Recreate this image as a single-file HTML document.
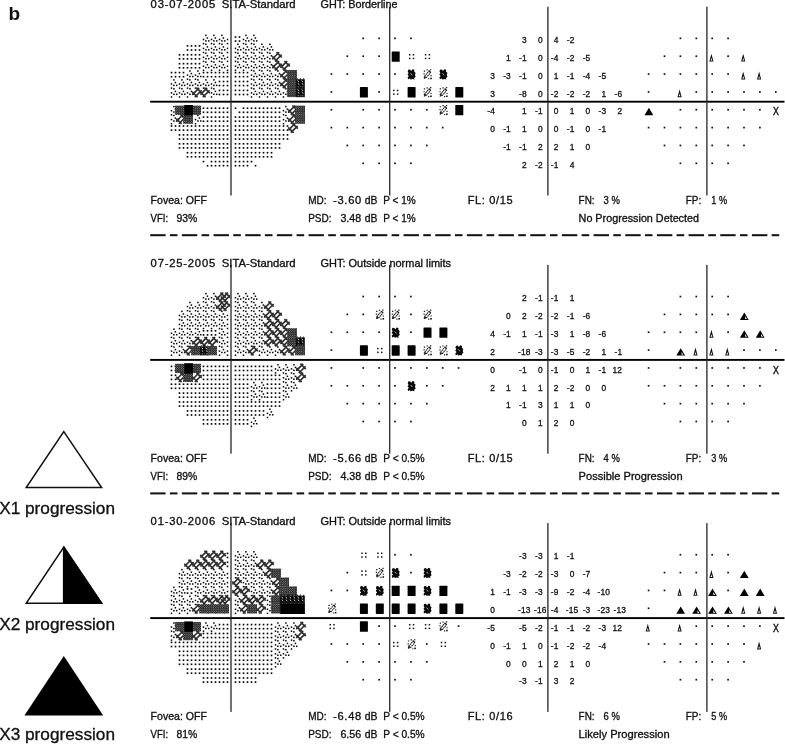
<!DOCTYPE html>
<html lang="en"><head><meta charset="utf-8"><title>Visual field progression analysis</title>
<style>html,body{margin:0;padding:0;background:#fff}body{width:785px;height:745px;overflow:hidden}svg{display:block}text{font-family:"Liberation Sans", Arial, Helvetica, sans-serif}</style>
</head><body>
<svg width="785" height="745" viewBox="0 0 785 745">
<defs>
<pattern id="pX" width="2.3" height="2.3" patternUnits="userSpaceOnUse"><rect width="2.3" height="2.3" fill="#141414"/><rect x="1.4" y="0.25" width="0.72" height="0.72" fill="#fff"/><rect x="0.25" y="1.4" width="0.72" height="0.72" fill="#fff"/></pattern>
<g id="gH"><path d="M-2.16,4.63 L4.63,-2.16 M-4.63,2.16 L2.16,-4.63 M-0.60,-4.77 L4.77,0.60 M-4.77,-0.60 L0.60,4.77" stroke="#2e2e2e" stroke-width="1.65" fill="none"/></g>
<g id="gS"><rect x="-4.6" y="-4.3" width="8.6" height="9.0" fill="#080808"/><path d="M-4.4,-4.3l0.9,-1.3l0.9,1.3zM-1.3,-4.3l0.9,-1.5l0.9,1.5zM1.9,-4.3l0.9,-1.2l0.9,1.2z" fill="#080808"/><path d="M-3.2,-2.9l1.5,1.3M0.8,-2.9l1.5,1.3M-3.0,-0.2l1.5,1.2M1.0,-0.2l1.5,1.2" stroke="#e6e6e6" stroke-width="0.95" fill="none"/><path d="M-3.2,3.3h1.5M-0.9,3.3h0.9M1.0,3.3h1.5" stroke="#bbb" stroke-width="0.7" fill="none"/></g>
<g id="sh"><polygon points="-2.9,1.8 1.4,-3.3 3.0,-1.7 -1.3,3.4" fill="#fff" stroke="#1a1a1a" stroke-width="1.05" stroke-dasharray="1.5 0.5"/><path d="M-3.7,-3.4h1.3M-1.0,-4.5h1.3M2.5,-4.7h1.3M-4.0,-0.6h1.2M-3.7,3.7h1.3M0.6,4.3h1.2M3,1.2h1.2M-3.5,1.9l1.6,1.8M1.6,-3.7l1.7,1.8" stroke="#1a1a1a" stroke-width="1.15" fill="none"/><rect x="2.7" y="3.2" width="1.6" height="1.6" fill="#111"/></g>
<g id="sx"><path d="M-3.4,-4.6L-1.6,-4.9L-0.4,-3.4L0.9,-5.2L2.8,-4.6L2.6,-2.8L4.0,-1.6L3.4,0.6L4.1,2.2L2.6,3.6L2.9,5.0L0.6,4.6L-0.8,5.2L-1.6,4.0L-3.6,4.9L-3.9,2.8L-2.7,1.6L-4.1,0.2L-3.0,-1.4L-3.9,-2.8Z" fill="#0a0a0a"/><path d="M-0.9,-1.2l1.6,2" stroke="#bbb" stroke-width="0.9"/></g>
<g id="tF"><polygon points="0,-2.3 4.4,5.1 -4.4,5.1" fill="#000"/></g>
<g id="tA"><polygon points="0,-2.3 4.4,5.1 -4.4,5.1" fill="#000"/><polygon points="0.9,1.2 2.6,4.2 0.9,4.2" fill="#fff"/></g>
<g id="tt"><polygon points="0,-2.9 2.1,5.0 -2.1,5.0" fill="#111"/><polygon points="0,1.5 0.85,4.0 -0.85,4.0" fill="#fff"/></g>
<clipPath id="clipL"><rect x="0" y="0" width="230.2" height="745"/></clipPath>
</defs>
<rect width="785" height="745" fill="#fff"/>
<text x="8.6" y="19.8" font-size="19" font-weight="bold" fill="#111">b</text>
<g id="panel1">
<g fill="#000"><rect x="205.15" y="34.65" width="1.50" height="1.50"/><rect x="206.65" y="37.25" width="1.50" height="1.50"/><rect x="202.75" y="38.75" width="1.50" height="1.50"/><rect x="205.15" y="40.15" width="1.50" height="1.50"/><rect x="207.95" y="40.15" width="1.50" height="1.50"/><rect x="202.75" y="42.85" width="1.50" height="1.50"/><rect x="213.15" y="34.65" width="1.50" height="1.50"/><rect x="214.65" y="37.25" width="1.50" height="1.50"/><rect x="210.75" y="38.75" width="1.50" height="1.50"/><rect x="213.15" y="40.15" width="1.50" height="1.50"/><rect x="215.95" y="40.15" width="1.50" height="1.50"/><rect x="210.75" y="42.85" width="1.50" height="1.50"/><rect x="221.15" y="34.65" width="1.50" height="1.50"/><rect x="222.65" y="37.25" width="1.50" height="1.50"/><rect x="218.75" y="38.75" width="1.50" height="1.50"/><rect x="221.15" y="40.15" width="1.50" height="1.50"/><rect x="223.95" y="40.15" width="1.50" height="1.50"/><rect x="218.75" y="42.85" width="1.50" height="1.50"/><rect x="226.75" y="38.75" width="1.50" height="1.50"/><rect x="226.75" y="42.85" width="1.50" height="1.50"/><rect x="234.68" y="36.17" width="1.65" height="1.65"/><rect x="234.68" y="40.27" width="1.65" height="1.65"/><rect x="238.68" y="36.17" width="1.65" height="1.65"/><rect x="238.68" y="40.27" width="1.65" height="1.65"/><rect x="245.15" y="34.65" width="1.50" height="1.50"/><rect x="246.65" y="37.25" width="1.50" height="1.50"/><rect x="242.75" y="38.75" width="1.50" height="1.50"/><rect x="245.15" y="40.15" width="1.50" height="1.50"/><rect x="247.95" y="40.15" width="1.50" height="1.50"/><rect x="242.75" y="42.85" width="1.50" height="1.50"/><rect x="253.15" y="34.65" width="1.50" height="1.50"/><rect x="254.65" y="37.25" width="1.50" height="1.50"/><rect x="250.75" y="38.75" width="1.50" height="1.50"/><rect x="253.15" y="40.15" width="1.50" height="1.50"/><rect x="255.95" y="40.15" width="1.50" height="1.50"/><rect x="250.75" y="42.85" width="1.50" height="1.50"/><rect x="186.68" y="45.07" width="1.65" height="1.65"/><rect x="186.68" y="49.17" width="1.65" height="1.65"/><rect x="190.68" y="45.07" width="1.65" height="1.65"/><rect x="190.68" y="49.17" width="1.65" height="1.65"/><rect x="194.68" y="45.07" width="1.65" height="1.65"/><rect x="194.68" y="49.17" width="1.65" height="1.65"/><rect x="198.68" y="45.07" width="1.65" height="1.65"/><rect x="198.68" y="49.17" width="1.65" height="1.65"/><rect x="205.15" y="43.55" width="1.50" height="1.50"/><rect x="206.65" y="46.15" width="1.50" height="1.50"/><rect x="202.75" y="47.65" width="1.50" height="1.50"/><rect x="205.15" y="49.05" width="1.50" height="1.50"/><rect x="207.95" y="49.05" width="1.50" height="1.50"/><rect x="202.75" y="51.75" width="1.50" height="1.50"/><rect x="213.15" y="43.55" width="1.50" height="1.50"/><rect x="214.65" y="46.15" width="1.50" height="1.50"/><rect x="210.75" y="47.65" width="1.50" height="1.50"/><rect x="213.15" y="49.05" width="1.50" height="1.50"/><rect x="215.95" y="49.05" width="1.50" height="1.50"/><rect x="210.75" y="51.75" width="1.50" height="1.50"/><rect x="221.15" y="43.55" width="1.50" height="1.50"/><rect x="222.65" y="46.15" width="1.50" height="1.50"/><rect x="218.75" y="47.65" width="1.50" height="1.50"/><rect x="221.15" y="49.05" width="1.50" height="1.50"/><rect x="223.95" y="49.05" width="1.50" height="1.50"/><rect x="218.75" y="51.75" width="1.50" height="1.50"/><rect x="226.75" y="47.65" width="1.50" height="1.50"/><rect x="226.75" y="51.75" width="1.50" height="1.50"/><rect x="237.15" y="43.55" width="1.50" height="1.50"/><rect x="238.65" y="46.15" width="1.50" height="1.50"/><rect x="234.75" y="47.65" width="1.50" height="1.50"/><rect x="237.15" y="49.05" width="1.50" height="1.50"/><rect x="239.95" y="49.05" width="1.50" height="1.50"/><rect x="234.75" y="51.75" width="1.50" height="1.50"/><rect x="245.15" y="43.55" width="1.50" height="1.50"/><rect x="246.65" y="46.15" width="1.50" height="1.50"/><rect x="242.75" y="47.65" width="1.50" height="1.50"/><rect x="245.15" y="49.05" width="1.50" height="1.50"/><rect x="247.95" y="49.05" width="1.50" height="1.50"/><rect x="242.75" y="51.75" width="1.50" height="1.50"/><rect x="253.15" y="43.55" width="1.50" height="1.50"/><rect x="254.65" y="46.15" width="1.50" height="1.50"/><rect x="250.75" y="47.65" width="1.50" height="1.50"/><rect x="253.15" y="49.05" width="1.50" height="1.50"/><rect x="255.95" y="49.05" width="1.50" height="1.50"/><rect x="250.75" y="51.75" width="1.50" height="1.50"/><rect x="261.15" y="43.55" width="1.50" height="1.50"/><rect x="262.65" y="46.15" width="1.50" height="1.50"/><rect x="258.75" y="47.65" width="1.50" height="1.50"/><rect x="261.15" y="49.05" width="1.50" height="1.50"/><rect x="263.95" y="49.05" width="1.50" height="1.50"/><rect x="258.75" y="51.75" width="1.50" height="1.50"/><rect x="269.15" y="43.55" width="1.50" height="1.50"/><rect x="270.65" y="46.15" width="1.50" height="1.50"/><rect x="266.75" y="47.65" width="1.50" height="1.50"/><rect x="269.15" y="49.05" width="1.50" height="1.50"/><rect x="271.95" y="49.05" width="1.50" height="1.50"/><rect x="266.75" y="51.75" width="1.50" height="1.50"/><rect x="178.68" y="53.97" width="1.65" height="1.65"/><rect x="178.68" y="58.07" width="1.65" height="1.65"/><rect x="182.68" y="53.97" width="1.65" height="1.65"/><rect x="182.68" y="58.07" width="1.65" height="1.65"/><rect x="186.68" y="53.97" width="1.65" height="1.65"/><rect x="186.68" y="58.07" width="1.65" height="1.65"/><rect x="190.68" y="53.97" width="1.65" height="1.65"/><rect x="190.68" y="58.07" width="1.65" height="1.65"/><rect x="194.68" y="53.97" width="1.65" height="1.65"/><rect x="194.68" y="58.07" width="1.65" height="1.65"/><rect x="198.68" y="53.97" width="1.65" height="1.65"/><rect x="198.68" y="58.07" width="1.65" height="1.65"/><rect x="205.15" y="52.45" width="1.50" height="1.50"/><rect x="206.65" y="55.05" width="1.50" height="1.50"/><rect x="202.75" y="56.55" width="1.50" height="1.50"/><rect x="205.15" y="57.95" width="1.50" height="1.50"/><rect x="207.95" y="57.95" width="1.50" height="1.50"/><rect x="202.75" y="60.65" width="1.50" height="1.50"/><rect x="213.15" y="52.45" width="1.50" height="1.50"/><rect x="214.65" y="55.05" width="1.50" height="1.50"/><rect x="210.75" y="56.55" width="1.50" height="1.50"/><rect x="213.15" y="57.95" width="1.50" height="1.50"/><rect x="215.95" y="57.95" width="1.50" height="1.50"/><rect x="210.75" y="60.65" width="1.50" height="1.50"/><rect x="221.15" y="52.45" width="1.50" height="1.50"/><rect x="222.65" y="55.05" width="1.50" height="1.50"/><rect x="218.75" y="56.55" width="1.50" height="1.50"/><rect x="221.15" y="57.95" width="1.50" height="1.50"/><rect x="223.95" y="57.95" width="1.50" height="1.50"/><rect x="218.75" y="60.65" width="1.50" height="1.50"/><rect x="226.75" y="56.55" width="1.50" height="1.50"/><rect x="226.75" y="60.65" width="1.50" height="1.50"/><rect x="237.15" y="52.45" width="1.50" height="1.50"/><rect x="238.65" y="55.05" width="1.50" height="1.50"/><rect x="234.75" y="56.55" width="1.50" height="1.50"/><rect x="237.15" y="57.95" width="1.50" height="1.50"/><rect x="239.95" y="57.95" width="1.50" height="1.50"/><rect x="234.75" y="60.65" width="1.50" height="1.50"/><rect x="245.15" y="52.45" width="1.50" height="1.50"/><rect x="246.65" y="55.05" width="1.50" height="1.50"/><rect x="242.75" y="56.55" width="1.50" height="1.50"/><rect x="245.15" y="57.95" width="1.50" height="1.50"/><rect x="247.95" y="57.95" width="1.50" height="1.50"/><rect x="242.75" y="60.65" width="1.50" height="1.50"/><rect x="253.15" y="52.45" width="1.50" height="1.50"/><rect x="254.65" y="55.05" width="1.50" height="1.50"/><rect x="250.75" y="56.55" width="1.50" height="1.50"/><rect x="253.15" y="57.95" width="1.50" height="1.50"/><rect x="255.95" y="57.95" width="1.50" height="1.50"/><rect x="250.75" y="60.65" width="1.50" height="1.50"/><rect x="261.15" y="52.45" width="1.50" height="1.50"/><rect x="262.65" y="55.05" width="1.50" height="1.50"/><rect x="258.75" y="56.55" width="1.50" height="1.50"/><rect x="261.15" y="57.95" width="1.50" height="1.50"/><rect x="263.95" y="57.95" width="1.50" height="1.50"/><rect x="258.75" y="60.65" width="1.50" height="1.50"/><rect x="269.15" y="52.45" width="1.50" height="1.50"/><rect x="270.65" y="55.05" width="1.50" height="1.50"/><rect x="266.75" y="56.55" width="1.50" height="1.50"/><rect x="269.15" y="57.95" width="1.50" height="1.50"/><rect x="271.95" y="57.95" width="1.50" height="1.50"/><rect x="266.75" y="60.65" width="1.50" height="1.50"/><rect x="178.68" y="62.87" width="1.65" height="1.65"/><rect x="178.68" y="66.97" width="1.65" height="1.65"/><rect x="182.68" y="62.87" width="1.65" height="1.65"/><rect x="182.68" y="66.97" width="1.65" height="1.65"/><rect x="186.68" y="62.87" width="1.65" height="1.65"/><rect x="186.68" y="66.97" width="1.65" height="1.65"/><rect x="190.68" y="62.87" width="1.65" height="1.65"/><rect x="190.68" y="66.97" width="1.65" height="1.65"/><rect x="194.68" y="62.87" width="1.65" height="1.65"/><rect x="194.68" y="66.97" width="1.65" height="1.65"/><rect x="198.68" y="62.87" width="1.65" height="1.65"/><rect x="198.68" y="66.97" width="1.65" height="1.65"/><rect x="205.15" y="61.35" width="1.50" height="1.50"/><rect x="206.65" y="63.95" width="1.50" height="1.50"/><rect x="202.75" y="65.45" width="1.50" height="1.50"/><rect x="205.15" y="66.85" width="1.50" height="1.50"/><rect x="207.95" y="66.85" width="1.50" height="1.50"/><rect x="202.75" y="69.55" width="1.50" height="1.50"/><rect x="213.15" y="61.35" width="1.50" height="1.50"/><rect x="214.65" y="63.95" width="1.50" height="1.50"/><rect x="210.75" y="65.45" width="1.50" height="1.50"/><rect x="213.15" y="66.85" width="1.50" height="1.50"/><rect x="215.95" y="66.85" width="1.50" height="1.50"/><rect x="210.75" y="69.55" width="1.50" height="1.50"/><rect x="221.15" y="61.35" width="1.50" height="1.50"/><rect x="222.65" y="63.95" width="1.50" height="1.50"/><rect x="218.75" y="65.45" width="1.50" height="1.50"/><rect x="221.15" y="66.85" width="1.50" height="1.50"/><rect x="223.95" y="66.85" width="1.50" height="1.50"/><rect x="218.75" y="69.55" width="1.50" height="1.50"/><rect x="226.75" y="65.45" width="1.50" height="1.50"/><rect x="226.75" y="69.55" width="1.50" height="1.50"/><rect x="237.15" y="61.35" width="1.50" height="1.50"/><rect x="238.65" y="63.95" width="1.50" height="1.50"/><rect x="234.75" y="65.45" width="1.50" height="1.50"/><rect x="237.15" y="66.85" width="1.50" height="1.50"/><rect x="239.95" y="66.85" width="1.50" height="1.50"/><rect x="234.75" y="69.55" width="1.50" height="1.50"/><rect x="245.15" y="61.35" width="1.50" height="1.50"/><rect x="246.65" y="63.95" width="1.50" height="1.50"/><rect x="242.75" y="65.45" width="1.50" height="1.50"/><rect x="245.15" y="66.85" width="1.50" height="1.50"/><rect x="247.95" y="66.85" width="1.50" height="1.50"/><rect x="242.75" y="69.55" width="1.50" height="1.50"/><rect x="253.15" y="61.35" width="1.50" height="1.50"/><rect x="254.65" y="63.95" width="1.50" height="1.50"/><rect x="250.75" y="65.45" width="1.50" height="1.50"/><rect x="253.15" y="66.85" width="1.50" height="1.50"/><rect x="255.95" y="66.85" width="1.50" height="1.50"/><rect x="250.75" y="69.55" width="1.50" height="1.50"/><rect x="261.15" y="61.35" width="1.50" height="1.50"/><rect x="262.65" y="63.95" width="1.50" height="1.50"/><rect x="258.75" y="65.45" width="1.50" height="1.50"/><rect x="261.15" y="66.85" width="1.50" height="1.50"/><rect x="263.95" y="66.85" width="1.50" height="1.50"/><rect x="258.75" y="69.55" width="1.50" height="1.50"/><rect x="269.15" y="61.35" width="1.50" height="1.50"/><rect x="270.65" y="63.95" width="1.50" height="1.50"/><rect x="266.75" y="65.45" width="1.50" height="1.50"/><rect x="269.15" y="66.85" width="1.50" height="1.50"/><rect x="271.95" y="66.85" width="1.50" height="1.50"/><rect x="266.75" y="69.55" width="1.50" height="1.50"/><rect x="170.68" y="71.77" width="1.65" height="1.65"/><rect x="170.68" y="75.87" width="1.65" height="1.65"/><rect x="174.68" y="71.77" width="1.65" height="1.65"/><rect x="174.68" y="75.87" width="1.65" height="1.65"/><rect x="178.68" y="71.77" width="1.65" height="1.65"/><rect x="178.68" y="75.87" width="1.65" height="1.65"/><rect x="182.68" y="71.77" width="1.65" height="1.65"/><rect x="182.68" y="75.87" width="1.65" height="1.65"/><rect x="189.15" y="70.25" width="1.50" height="1.50"/><rect x="190.65" y="72.85" width="1.50" height="1.50"/><rect x="186.75" y="74.35" width="1.50" height="1.50"/><rect x="189.15" y="75.75" width="1.50" height="1.50"/><rect x="191.95" y="75.75" width="1.50" height="1.50"/><rect x="186.75" y="78.45" width="1.50" height="1.50"/><rect x="197.15" y="70.25" width="1.50" height="1.50"/><rect x="198.65" y="72.85" width="1.50" height="1.50"/><rect x="194.75" y="74.35" width="1.50" height="1.50"/><rect x="197.15" y="75.75" width="1.50" height="1.50"/><rect x="199.95" y="75.75" width="1.50" height="1.50"/><rect x="194.75" y="78.45" width="1.50" height="1.50"/><rect x="202.68" y="71.77" width="1.65" height="1.65"/><rect x="202.68" y="75.87" width="1.65" height="1.65"/><rect x="206.68" y="71.77" width="1.65" height="1.65"/><rect x="206.68" y="75.87" width="1.65" height="1.65"/><rect x="210.68" y="71.77" width="1.65" height="1.65"/><rect x="210.68" y="75.87" width="1.65" height="1.65"/><rect x="214.68" y="71.77" width="1.65" height="1.65"/><rect x="214.68" y="75.87" width="1.65" height="1.65"/><rect x="218.68" y="71.77" width="1.65" height="1.65"/><rect x="218.68" y="75.87" width="1.65" height="1.65"/><rect x="222.68" y="71.77" width="1.65" height="1.65"/><rect x="222.68" y="75.87" width="1.65" height="1.65"/><rect x="226.68" y="71.77" width="1.65" height="1.65"/><rect x="226.68" y="75.87" width="1.65" height="1.65"/><rect x="234.68" y="71.77" width="1.65" height="1.65"/><rect x="234.68" y="75.87" width="1.65" height="1.65"/><rect x="238.68" y="71.77" width="1.65" height="1.65"/><rect x="238.68" y="75.87" width="1.65" height="1.65"/><rect x="242.68" y="71.77" width="1.65" height="1.65"/><rect x="242.68" y="75.87" width="1.65" height="1.65"/><rect x="246.68" y="71.77" width="1.65" height="1.65"/><rect x="246.68" y="75.87" width="1.65" height="1.65"/><rect x="253.15" y="70.25" width="1.50" height="1.50"/><rect x="254.65" y="72.85" width="1.50" height="1.50"/><rect x="250.75" y="74.35" width="1.50" height="1.50"/><rect x="253.15" y="75.75" width="1.50" height="1.50"/><rect x="255.95" y="75.75" width="1.50" height="1.50"/><rect x="250.75" y="78.45" width="1.50" height="1.50"/><rect x="261.15" y="70.25" width="1.50" height="1.50"/><rect x="262.65" y="72.85" width="1.50" height="1.50"/><rect x="258.75" y="74.35" width="1.50" height="1.50"/><rect x="261.15" y="75.75" width="1.50" height="1.50"/><rect x="263.95" y="75.75" width="1.50" height="1.50"/><rect x="258.75" y="78.45" width="1.50" height="1.50"/><rect x="269.15" y="70.25" width="1.50" height="1.50"/><rect x="270.65" y="72.85" width="1.50" height="1.50"/><rect x="266.75" y="74.35" width="1.50" height="1.50"/><rect x="269.15" y="75.75" width="1.50" height="1.50"/><rect x="271.95" y="75.75" width="1.50" height="1.50"/><rect x="266.75" y="78.45" width="1.50" height="1.50"/><rect x="277.15" y="70.25" width="1.50" height="1.50"/><rect x="278.65" y="72.85" width="1.50" height="1.50"/><rect x="274.75" y="74.35" width="1.50" height="1.50"/><rect x="277.15" y="75.75" width="1.50" height="1.50"/><rect x="279.95" y="75.75" width="1.50" height="1.50"/><rect x="274.75" y="78.45" width="1.50" height="1.50"/><rect x="173.15" y="79.15" width="1.50" height="1.50"/><rect x="174.65" y="81.75" width="1.50" height="1.50"/><rect x="170.75" y="83.25" width="1.50" height="1.50"/><rect x="173.15" y="84.65" width="1.50" height="1.50"/><rect x="175.95" y="84.65" width="1.50" height="1.50"/><rect x="170.75" y="87.35" width="1.50" height="1.50"/><rect x="181.15" y="79.15" width="1.50" height="1.50"/><rect x="182.65" y="81.75" width="1.50" height="1.50"/><rect x="178.75" y="83.25" width="1.50" height="1.50"/><rect x="181.15" y="84.65" width="1.50" height="1.50"/><rect x="183.95" y="84.65" width="1.50" height="1.50"/><rect x="178.75" y="87.35" width="1.50" height="1.50"/><rect x="189.15" y="79.15" width="1.50" height="1.50"/><rect x="190.65" y="81.75" width="1.50" height="1.50"/><rect x="186.75" y="83.25" width="1.50" height="1.50"/><rect x="189.15" y="84.65" width="1.50" height="1.50"/><rect x="191.95" y="84.65" width="1.50" height="1.50"/><rect x="186.75" y="87.35" width="1.50" height="1.50"/><rect x="197.15" y="79.15" width="1.50" height="1.50"/><rect x="198.65" y="81.75" width="1.50" height="1.50"/><rect x="194.75" y="83.25" width="1.50" height="1.50"/><rect x="197.15" y="84.65" width="1.50" height="1.50"/><rect x="199.95" y="84.65" width="1.50" height="1.50"/><rect x="194.75" y="87.35" width="1.50" height="1.50"/><rect x="205.15" y="79.15" width="1.50" height="1.50"/><rect x="206.65" y="81.75" width="1.50" height="1.50"/><rect x="202.75" y="83.25" width="1.50" height="1.50"/><rect x="205.15" y="84.65" width="1.50" height="1.50"/><rect x="207.95" y="84.65" width="1.50" height="1.50"/><rect x="202.75" y="87.35" width="1.50" height="1.50"/><rect x="213.15" y="79.15" width="1.50" height="1.50"/><rect x="214.65" y="81.75" width="1.50" height="1.50"/><rect x="210.75" y="83.25" width="1.50" height="1.50"/><rect x="213.15" y="84.65" width="1.50" height="1.50"/><rect x="215.95" y="84.65" width="1.50" height="1.50"/><rect x="210.75" y="87.35" width="1.50" height="1.50"/><rect x="218.68" y="80.67" width="1.65" height="1.65"/><rect x="218.68" y="84.77" width="1.65" height="1.65"/><rect x="222.68" y="80.67" width="1.65" height="1.65"/><rect x="222.68" y="84.77" width="1.65" height="1.65"/><rect x="226.68" y="80.67" width="1.65" height="1.65"/><rect x="226.68" y="84.77" width="1.65" height="1.65"/><rect x="234.68" y="80.67" width="1.65" height="1.65"/><rect x="234.68" y="84.77" width="1.65" height="1.65"/><rect x="238.68" y="80.67" width="1.65" height="1.65"/><rect x="238.68" y="84.77" width="1.65" height="1.65"/><rect x="242.68" y="80.67" width="1.65" height="1.65"/><rect x="242.68" y="84.77" width="1.65" height="1.65"/><rect x="246.68" y="80.67" width="1.65" height="1.65"/><rect x="246.68" y="84.77" width="1.65" height="1.65"/><rect x="253.15" y="79.15" width="1.50" height="1.50"/><rect x="254.65" y="81.75" width="1.50" height="1.50"/><rect x="250.75" y="83.25" width="1.50" height="1.50"/><rect x="253.15" y="84.65" width="1.50" height="1.50"/><rect x="255.95" y="84.65" width="1.50" height="1.50"/><rect x="250.75" y="87.35" width="1.50" height="1.50"/><rect x="261.15" y="79.15" width="1.50" height="1.50"/><rect x="262.65" y="81.75" width="1.50" height="1.50"/><rect x="258.75" y="83.25" width="1.50" height="1.50"/><rect x="261.15" y="84.65" width="1.50" height="1.50"/><rect x="263.95" y="84.65" width="1.50" height="1.50"/><rect x="258.75" y="87.35" width="1.50" height="1.50"/><rect x="269.15" y="79.15" width="1.50" height="1.50"/><rect x="270.65" y="81.75" width="1.50" height="1.50"/><rect x="266.75" y="83.25" width="1.50" height="1.50"/><rect x="269.15" y="84.65" width="1.50" height="1.50"/><rect x="271.95" y="84.65" width="1.50" height="1.50"/><rect x="266.75" y="87.35" width="1.50" height="1.50"/><rect x="277.15" y="79.15" width="1.50" height="1.50"/><rect x="278.65" y="81.75" width="1.50" height="1.50"/><rect x="274.75" y="83.25" width="1.50" height="1.50"/><rect x="277.15" y="84.65" width="1.50" height="1.50"/><rect x="279.95" y="84.65" width="1.50" height="1.50"/><rect x="274.75" y="87.35" width="1.50" height="1.50"/><rect x="173.15" y="88.05" width="1.50" height="1.50"/><rect x="174.65" y="90.65" width="1.50" height="1.50"/><rect x="170.75" y="92.15" width="1.50" height="1.50"/><rect x="173.15" y="93.55" width="1.50" height="1.50"/><rect x="175.95" y="93.55" width="1.50" height="1.50"/><rect x="170.75" y="96.25" width="1.50" height="1.50"/><rect x="181.15" y="88.05" width="1.50" height="1.50"/><rect x="182.65" y="90.65" width="1.50" height="1.50"/><rect x="178.75" y="92.15" width="1.50" height="1.50"/><rect x="181.15" y="93.55" width="1.50" height="1.50"/><rect x="183.95" y="93.55" width="1.50" height="1.50"/><rect x="178.75" y="96.25" width="1.50" height="1.50"/><rect x="189.15" y="88.05" width="1.50" height="1.50"/><rect x="190.65" y="90.65" width="1.50" height="1.50"/><rect x="186.75" y="92.15" width="1.50" height="1.50"/><rect x="189.15" y="93.55" width="1.50" height="1.50"/><rect x="191.95" y="93.55" width="1.50" height="1.50"/><rect x="186.75" y="96.25" width="1.50" height="1.50"/><rect x="213.15" y="88.05" width="1.50" height="1.50"/><rect x="214.65" y="90.65" width="1.50" height="1.50"/><rect x="210.75" y="92.15" width="1.50" height="1.50"/><rect x="213.15" y="93.55" width="1.50" height="1.50"/><rect x="215.95" y="93.55" width="1.50" height="1.50"/><rect x="210.75" y="96.25" width="1.50" height="1.50"/><rect x="218.68" y="89.57" width="1.65" height="1.65"/><rect x="218.68" y="93.67" width="1.65" height="1.65"/><rect x="222.68" y="89.57" width="1.65" height="1.65"/><rect x="222.68" y="93.67" width="1.65" height="1.65"/><rect x="226.68" y="89.57" width="1.65" height="1.65"/><rect x="226.68" y="93.67" width="1.65" height="1.65"/><rect x="234.68" y="89.57" width="1.65" height="1.65"/><rect x="234.68" y="93.67" width="1.65" height="1.65"/><rect x="238.68" y="89.57" width="1.65" height="1.65"/><rect x="238.68" y="93.67" width="1.65" height="1.65"/><rect x="242.68" y="89.57" width="1.65" height="1.65"/><rect x="242.68" y="93.67" width="1.65" height="1.65"/><rect x="246.68" y="89.57" width="1.65" height="1.65"/><rect x="246.68" y="93.67" width="1.65" height="1.65"/><rect x="253.15" y="88.05" width="1.50" height="1.50"/><rect x="254.65" y="90.65" width="1.50" height="1.50"/><rect x="250.75" y="92.15" width="1.50" height="1.50"/><rect x="253.15" y="93.55" width="1.50" height="1.50"/><rect x="255.95" y="93.55" width="1.50" height="1.50"/><rect x="250.75" y="96.25" width="1.50" height="1.50"/><rect x="261.15" y="88.05" width="1.50" height="1.50"/><rect x="262.65" y="90.65" width="1.50" height="1.50"/><rect x="258.75" y="92.15" width="1.50" height="1.50"/><rect x="261.15" y="93.55" width="1.50" height="1.50"/><rect x="263.95" y="93.55" width="1.50" height="1.50"/><rect x="258.75" y="96.25" width="1.50" height="1.50"/><rect x="269.15" y="88.05" width="1.50" height="1.50"/><rect x="270.65" y="90.65" width="1.50" height="1.50"/><rect x="266.75" y="92.15" width="1.50" height="1.50"/><rect x="269.15" y="93.55" width="1.50" height="1.50"/><rect x="271.95" y="93.55" width="1.50" height="1.50"/><rect x="266.75" y="96.25" width="1.50" height="1.50"/><rect x="277.15" y="88.05" width="1.50" height="1.50"/><rect x="278.65" y="90.65" width="1.50" height="1.50"/><rect x="274.75" y="92.15" width="1.50" height="1.50"/><rect x="277.15" y="93.55" width="1.50" height="1.50"/><rect x="279.95" y="93.55" width="1.50" height="1.50"/><rect x="274.75" y="96.25" width="1.50" height="1.50"/><rect x="285.15" y="88.05" width="1.50" height="1.50"/><rect x="286.65" y="90.65" width="1.50" height="1.50"/><rect x="282.75" y="92.15" width="1.50" height="1.50"/><rect x="285.15" y="93.55" width="1.50" height="1.50"/><rect x="287.95" y="93.55" width="1.50" height="1.50"/><rect x="282.75" y="96.25" width="1.50" height="1.50"/><rect x="173.15" y="105.85" width="1.50" height="1.50"/><rect x="174.65" y="108.45" width="1.50" height="1.50"/><rect x="170.75" y="109.95" width="1.50" height="1.50"/><rect x="173.15" y="111.35" width="1.50" height="1.50"/><rect x="175.95" y="111.35" width="1.50" height="1.50"/><rect x="170.75" y="114.05" width="1.50" height="1.50"/><rect x="202.68" y="107.38" width="1.65" height="1.65"/><rect x="202.68" y="111.47" width="1.65" height="1.65"/><rect x="206.68" y="107.38" width="1.65" height="1.65"/><rect x="206.68" y="111.47" width="1.65" height="1.65"/><rect x="210.68" y="107.38" width="1.65" height="1.65"/><rect x="210.68" y="111.47" width="1.65" height="1.65"/><rect x="214.68" y="107.38" width="1.65" height="1.65"/><rect x="214.68" y="111.47" width="1.65" height="1.65"/><rect x="218.68" y="107.38" width="1.65" height="1.65"/><rect x="218.68" y="111.47" width="1.65" height="1.65"/><rect x="222.68" y="107.38" width="1.65" height="1.65"/><rect x="222.68" y="111.47" width="1.65" height="1.65"/><rect x="226.68" y="107.38" width="1.65" height="1.65"/><rect x="226.68" y="111.47" width="1.65" height="1.65"/><rect x="234.68" y="107.38" width="1.65" height="1.65"/><rect x="238.68" y="111.47" width="1.65" height="1.65"/><rect x="242.68" y="107.38" width="1.65" height="1.65"/><rect x="242.68" y="111.47" width="1.65" height="1.65"/><rect x="246.68" y="107.38" width="1.65" height="1.65"/><rect x="246.68" y="111.47" width="1.65" height="1.65"/><rect x="250.68" y="107.38" width="1.65" height="1.65"/><rect x="250.68" y="111.47" width="1.65" height="1.65"/><rect x="254.68" y="107.38" width="1.65" height="1.65"/><rect x="254.68" y="111.47" width="1.65" height="1.65"/><rect x="258.68" y="107.38" width="1.65" height="1.65"/><rect x="258.68" y="111.47" width="1.65" height="1.65"/><rect x="262.68" y="107.38" width="1.65" height="1.65"/><rect x="262.68" y="111.47" width="1.65" height="1.65"/><rect x="266.68" y="107.38" width="1.65" height="1.65"/><rect x="266.68" y="111.47" width="1.65" height="1.65"/><rect x="270.68" y="107.38" width="1.65" height="1.65"/><rect x="270.68" y="111.47" width="1.65" height="1.65"/><rect x="274.68" y="107.38" width="1.65" height="1.65"/><rect x="274.68" y="111.47" width="1.65" height="1.65"/><rect x="278.68" y="107.38" width="1.65" height="1.65"/><rect x="278.68" y="111.47" width="1.65" height="1.65"/><rect x="285.15" y="105.85" width="1.50" height="1.50"/><rect x="286.65" y="108.45" width="1.50" height="1.50"/><rect x="282.75" y="109.95" width="1.50" height="1.50"/><rect x="285.15" y="111.35" width="1.50" height="1.50"/><rect x="287.95" y="111.35" width="1.50" height="1.50"/><rect x="282.75" y="114.05" width="1.50" height="1.50"/><rect x="173.15" y="114.75" width="1.50" height="1.50"/><rect x="174.65" y="117.35" width="1.50" height="1.50"/><rect x="170.75" y="118.85" width="1.50" height="1.50"/><rect x="173.15" y="120.25" width="1.50" height="1.50"/><rect x="175.95" y="120.25" width="1.50" height="1.50"/><rect x="170.75" y="122.95" width="1.50" height="1.50"/><rect x="197.15" y="114.75" width="1.50" height="1.50"/><rect x="198.65" y="117.35" width="1.50" height="1.50"/><rect x="194.75" y="118.85" width="1.50" height="1.50"/><rect x="197.15" y="120.25" width="1.50" height="1.50"/><rect x="199.95" y="120.25" width="1.50" height="1.50"/><rect x="194.75" y="122.95" width="1.50" height="1.50"/><rect x="202.68" y="116.27" width="1.65" height="1.65"/><rect x="202.68" y="120.37" width="1.65" height="1.65"/><rect x="206.68" y="116.27" width="1.65" height="1.65"/><rect x="206.68" y="120.37" width="1.65" height="1.65"/><rect x="210.68" y="116.27" width="1.65" height="1.65"/><rect x="210.68" y="120.37" width="1.65" height="1.65"/><rect x="214.68" y="116.27" width="1.65" height="1.65"/><rect x="214.68" y="120.37" width="1.65" height="1.65"/><rect x="218.68" y="116.27" width="1.65" height="1.65"/><rect x="218.68" y="120.37" width="1.65" height="1.65"/><rect x="222.68" y="116.27" width="1.65" height="1.65"/><rect x="222.68" y="120.37" width="1.65" height="1.65"/><rect x="226.68" y="116.27" width="1.65" height="1.65"/><rect x="226.68" y="120.37" width="1.65" height="1.65"/><rect x="234.68" y="116.27" width="1.65" height="1.65"/><rect x="234.68" y="120.37" width="1.65" height="1.65"/><rect x="238.68" y="116.27" width="1.65" height="1.65"/><rect x="238.68" y="120.37" width="1.65" height="1.65"/><rect x="242.68" y="116.27" width="1.65" height="1.65"/><rect x="242.68" y="120.37" width="1.65" height="1.65"/><rect x="246.68" y="116.27" width="1.65" height="1.65"/><rect x="246.68" y="120.37" width="1.65" height="1.65"/><rect x="250.68" y="116.27" width="1.65" height="1.65"/><rect x="250.68" y="120.37" width="1.65" height="1.65"/><rect x="254.68" y="116.27" width="1.65" height="1.65"/><rect x="254.68" y="120.37" width="1.65" height="1.65"/><rect x="258.68" y="116.27" width="1.65" height="1.65"/><rect x="258.68" y="120.37" width="1.65" height="1.65"/><rect x="262.68" y="116.27" width="1.65" height="1.65"/><rect x="262.68" y="120.37" width="1.65" height="1.65"/><rect x="266.68" y="116.27" width="1.65" height="1.65"/><rect x="266.68" y="120.37" width="1.65" height="1.65"/><rect x="270.68" y="116.27" width="1.65" height="1.65"/><rect x="270.68" y="120.37" width="1.65" height="1.65"/><rect x="274.68" y="116.27" width="1.65" height="1.65"/><rect x="274.68" y="120.37" width="1.65" height="1.65"/><rect x="278.68" y="116.27" width="1.65" height="1.65"/><rect x="278.68" y="120.37" width="1.65" height="1.65"/><rect x="285.15" y="114.75" width="1.50" height="1.50"/><rect x="286.65" y="117.35" width="1.50" height="1.50"/><rect x="282.75" y="118.85" width="1.50" height="1.50"/><rect x="285.15" y="120.25" width="1.50" height="1.50"/><rect x="287.95" y="120.25" width="1.50" height="1.50"/><rect x="282.75" y="122.95" width="1.50" height="1.50"/><rect x="170.68" y="125.17" width="1.65" height="1.65"/><rect x="170.68" y="129.28" width="1.65" height="1.65"/><rect x="174.68" y="125.17" width="1.65" height="1.65"/><rect x="174.68" y="129.28" width="1.65" height="1.65"/><rect x="178.68" y="125.17" width="1.65" height="1.65"/><rect x="178.68" y="129.28" width="1.65" height="1.65"/><rect x="182.68" y="125.17" width="1.65" height="1.65"/><rect x="182.68" y="129.28" width="1.65" height="1.65"/><rect x="186.68" y="125.17" width="1.65" height="1.65"/><rect x="186.68" y="129.28" width="1.65" height="1.65"/><rect x="190.68" y="125.17" width="1.65" height="1.65"/><rect x="190.68" y="129.28" width="1.65" height="1.65"/><rect x="194.68" y="125.17" width="1.65" height="1.65"/><rect x="194.68" y="129.28" width="1.65" height="1.65"/><rect x="198.68" y="125.17" width="1.65" height="1.65"/><rect x="198.68" y="129.28" width="1.65" height="1.65"/><rect x="202.68" y="125.17" width="1.65" height="1.65"/><rect x="202.68" y="129.28" width="1.65" height="1.65"/><rect x="206.68" y="125.17" width="1.65" height="1.65"/><rect x="206.68" y="129.28" width="1.65" height="1.65"/><rect x="210.68" y="125.17" width="1.65" height="1.65"/><rect x="210.68" y="129.28" width="1.65" height="1.65"/><rect x="214.68" y="125.17" width="1.65" height="1.65"/><rect x="214.68" y="129.28" width="1.65" height="1.65"/><rect x="218.68" y="125.17" width="1.65" height="1.65"/><rect x="218.68" y="129.28" width="1.65" height="1.65"/><rect x="222.68" y="125.17" width="1.65" height="1.65"/><rect x="222.68" y="129.28" width="1.65" height="1.65"/><rect x="226.68" y="125.17" width="1.65" height="1.65"/><rect x="226.68" y="129.28" width="1.65" height="1.65"/><rect x="234.68" y="125.17" width="1.65" height="1.65"/><rect x="234.68" y="129.28" width="1.65" height="1.65"/><rect x="238.68" y="125.17" width="1.65" height="1.65"/><rect x="238.68" y="129.28" width="1.65" height="1.65"/><rect x="242.68" y="125.17" width="1.65" height="1.65"/><rect x="242.68" y="129.28" width="1.65" height="1.65"/><rect x="246.68" y="125.17" width="1.65" height="1.65"/><rect x="246.68" y="129.28" width="1.65" height="1.65"/><rect x="250.68" y="125.17" width="1.65" height="1.65"/><rect x="250.68" y="129.28" width="1.65" height="1.65"/><rect x="254.68" y="125.17" width="1.65" height="1.65"/><rect x="254.68" y="129.28" width="1.65" height="1.65"/><rect x="258.68" y="125.17" width="1.65" height="1.65"/><rect x="258.68" y="129.28" width="1.65" height="1.65"/><rect x="262.68" y="125.17" width="1.65" height="1.65"/><rect x="262.68" y="129.28" width="1.65" height="1.65"/><rect x="266.68" y="125.17" width="1.65" height="1.65"/><rect x="266.68" y="129.28" width="1.65" height="1.65"/><rect x="270.68" y="125.17" width="1.65" height="1.65"/><rect x="270.68" y="129.28" width="1.65" height="1.65"/><rect x="274.68" y="125.17" width="1.65" height="1.65"/><rect x="274.68" y="129.28" width="1.65" height="1.65"/><rect x="278.68" y="125.17" width="1.65" height="1.65"/><rect x="278.68" y="129.28" width="1.65" height="1.65"/><rect x="282.68" y="125.17" width="1.65" height="1.65"/><rect x="282.68" y="129.28" width="1.65" height="1.65"/><rect x="286.68" y="125.17" width="1.65" height="1.65"/><rect x="286.68" y="129.28" width="1.65" height="1.65"/><rect x="178.68" y="134.08" width="1.65" height="1.65"/><rect x="178.68" y="138.18" width="1.65" height="1.65"/><rect x="182.68" y="134.08" width="1.65" height="1.65"/><rect x="182.68" y="138.18" width="1.65" height="1.65"/><rect x="186.68" y="134.08" width="1.65" height="1.65"/><rect x="186.68" y="138.18" width="1.65" height="1.65"/><rect x="190.68" y="134.08" width="1.65" height="1.65"/><rect x="190.68" y="138.18" width="1.65" height="1.65"/><rect x="194.68" y="134.08" width="1.65" height="1.65"/><rect x="194.68" y="138.18" width="1.65" height="1.65"/><rect x="198.68" y="134.08" width="1.65" height="1.65"/><rect x="198.68" y="138.18" width="1.65" height="1.65"/><rect x="202.68" y="134.08" width="1.65" height="1.65"/><rect x="202.68" y="138.18" width="1.65" height="1.65"/><rect x="206.68" y="134.08" width="1.65" height="1.65"/><rect x="206.68" y="138.18" width="1.65" height="1.65"/><rect x="210.68" y="134.08" width="1.65" height="1.65"/><rect x="210.68" y="138.18" width="1.65" height="1.65"/><rect x="214.68" y="134.08" width="1.65" height="1.65"/><rect x="214.68" y="138.18" width="1.65" height="1.65"/><rect x="218.68" y="134.08" width="1.65" height="1.65"/><rect x="218.68" y="138.18" width="1.65" height="1.65"/><rect x="222.68" y="134.08" width="1.65" height="1.65"/><rect x="222.68" y="138.18" width="1.65" height="1.65"/><rect x="226.68" y="134.08" width="1.65" height="1.65"/><rect x="226.68" y="138.18" width="1.65" height="1.65"/><rect x="234.68" y="134.08" width="1.65" height="1.65"/><rect x="234.68" y="138.18" width="1.65" height="1.65"/><rect x="238.68" y="134.08" width="1.65" height="1.65"/><rect x="238.68" y="138.18" width="1.65" height="1.65"/><rect x="242.68" y="134.08" width="1.65" height="1.65"/><rect x="242.68" y="138.18" width="1.65" height="1.65"/><rect x="246.68" y="134.08" width="1.65" height="1.65"/><rect x="246.68" y="138.18" width="1.65" height="1.65"/><rect x="250.68" y="134.08" width="1.65" height="1.65"/><rect x="250.68" y="138.18" width="1.65" height="1.65"/><rect x="254.68" y="134.08" width="1.65" height="1.65"/><rect x="254.68" y="138.18" width="1.65" height="1.65"/><rect x="258.68" y="134.08" width="1.65" height="1.65"/><rect x="258.68" y="138.18" width="1.65" height="1.65"/><rect x="262.68" y="134.08" width="1.65" height="1.65"/><rect x="262.68" y="138.18" width="1.65" height="1.65"/><rect x="266.68" y="134.08" width="1.65" height="1.65"/><rect x="266.68" y="138.18" width="1.65" height="1.65"/><rect x="270.68" y="134.08" width="1.65" height="1.65"/><rect x="270.68" y="138.18" width="1.65" height="1.65"/><rect x="274.68" y="134.08" width="1.65" height="1.65"/><rect x="274.68" y="138.18" width="1.65" height="1.65"/><rect x="278.68" y="134.08" width="1.65" height="1.65"/><rect x="278.68" y="138.18" width="1.65" height="1.65"/><rect x="282.68" y="134.08" width="1.65" height="1.65"/><rect x="282.68" y="138.18" width="1.65" height="1.65"/><rect x="286.68" y="134.08" width="1.65" height="1.65"/><rect x="286.68" y="138.18" width="1.65" height="1.65"/><rect x="178.68" y="142.98" width="1.65" height="1.65"/><rect x="178.68" y="147.08" width="1.65" height="1.65"/><rect x="182.68" y="142.98" width="1.65" height="1.65"/><rect x="182.68" y="147.08" width="1.65" height="1.65"/><rect x="186.68" y="142.98" width="1.65" height="1.65"/><rect x="186.68" y="147.08" width="1.65" height="1.65"/><rect x="190.68" y="142.98" width="1.65" height="1.65"/><rect x="190.68" y="147.08" width="1.65" height="1.65"/><rect x="194.68" y="142.98" width="1.65" height="1.65"/><rect x="194.68" y="147.08" width="1.65" height="1.65"/><rect x="198.68" y="142.98" width="1.65" height="1.65"/><rect x="198.68" y="147.08" width="1.65" height="1.65"/><rect x="202.68" y="142.98" width="1.65" height="1.65"/><rect x="202.68" y="147.08" width="1.65" height="1.65"/><rect x="206.68" y="142.98" width="1.65" height="1.65"/><rect x="206.68" y="147.08" width="1.65" height="1.65"/><rect x="210.68" y="142.98" width="1.65" height="1.65"/><rect x="210.68" y="147.08" width="1.65" height="1.65"/><rect x="214.68" y="142.98" width="1.65" height="1.65"/><rect x="214.68" y="147.08" width="1.65" height="1.65"/><rect x="218.68" y="142.98" width="1.65" height="1.65"/><rect x="218.68" y="147.08" width="1.65" height="1.65"/><rect x="222.68" y="142.98" width="1.65" height="1.65"/><rect x="222.68" y="147.08" width="1.65" height="1.65"/><rect x="226.68" y="142.98" width="1.65" height="1.65"/><rect x="226.68" y="147.08" width="1.65" height="1.65"/><rect x="234.68" y="142.98" width="1.65" height="1.65"/><rect x="234.68" y="147.08" width="1.65" height="1.65"/><rect x="238.68" y="142.98" width="1.65" height="1.65"/><rect x="238.68" y="147.08" width="1.65" height="1.65"/><rect x="242.68" y="142.98" width="1.65" height="1.65"/><rect x="242.68" y="147.08" width="1.65" height="1.65"/><rect x="246.68" y="142.98" width="1.65" height="1.65"/><rect x="246.68" y="147.08" width="1.65" height="1.65"/><rect x="250.68" y="142.98" width="1.65" height="1.65"/><rect x="250.68" y="147.08" width="1.65" height="1.65"/><rect x="254.68" y="142.98" width="1.65" height="1.65"/><rect x="254.68" y="147.08" width="1.65" height="1.65"/><rect x="258.68" y="142.98" width="1.65" height="1.65"/><rect x="258.68" y="147.08" width="1.65" height="1.65"/><rect x="262.68" y="142.98" width="1.65" height="1.65"/><rect x="262.68" y="147.08" width="1.65" height="1.65"/><rect x="266.68" y="142.98" width="1.65" height="1.65"/><rect x="266.68" y="147.08" width="1.65" height="1.65"/><rect x="270.68" y="142.98" width="1.65" height="1.65"/><rect x="270.68" y="147.08" width="1.65" height="1.65"/><rect x="274.68" y="142.98" width="1.65" height="1.65"/><rect x="274.68" y="147.08" width="1.65" height="1.65"/><rect x="278.68" y="142.98" width="1.65" height="1.65"/><rect x="278.68" y="147.08" width="1.65" height="1.65"/><rect x="186.68" y="151.88" width="1.65" height="1.65"/><rect x="186.68" y="155.97" width="1.65" height="1.65"/><rect x="190.68" y="151.88" width="1.65" height="1.65"/><rect x="190.68" y="155.97" width="1.65" height="1.65"/><rect x="194.68" y="151.88" width="1.65" height="1.65"/><rect x="194.68" y="155.97" width="1.65" height="1.65"/><rect x="198.68" y="151.88" width="1.65" height="1.65"/><rect x="198.68" y="155.97" width="1.65" height="1.65"/><rect x="202.68" y="151.88" width="1.65" height="1.65"/><rect x="202.68" y="155.97" width="1.65" height="1.65"/><rect x="206.68" y="151.88" width="1.65" height="1.65"/><rect x="206.68" y="155.97" width="1.65" height="1.65"/><rect x="210.68" y="151.88" width="1.65" height="1.65"/><rect x="210.68" y="155.97" width="1.65" height="1.65"/><rect x="214.68" y="151.88" width="1.65" height="1.65"/><rect x="214.68" y="155.97" width="1.65" height="1.65"/><rect x="218.68" y="151.88" width="1.65" height="1.65"/><rect x="218.68" y="155.97" width="1.65" height="1.65"/><rect x="222.68" y="151.88" width="1.65" height="1.65"/><rect x="222.68" y="155.97" width="1.65" height="1.65"/><rect x="226.68" y="151.88" width="1.65" height="1.65"/><rect x="226.68" y="155.97" width="1.65" height="1.65"/><rect x="234.68" y="151.88" width="1.65" height="1.65"/><rect x="234.68" y="155.97" width="1.65" height="1.65"/><rect x="238.68" y="151.88" width="1.65" height="1.65"/><rect x="238.68" y="155.97" width="1.65" height="1.65"/><rect x="242.68" y="151.88" width="1.65" height="1.65"/><rect x="242.68" y="155.97" width="1.65" height="1.65"/><rect x="246.68" y="151.88" width="1.65" height="1.65"/><rect x="246.68" y="155.97" width="1.65" height="1.65"/><rect x="250.68" y="151.88" width="1.65" height="1.65"/><rect x="250.68" y="155.97" width="1.65" height="1.65"/><rect x="254.68" y="151.88" width="1.65" height="1.65"/><rect x="254.68" y="155.97" width="1.65" height="1.65"/><rect x="258.68" y="151.88" width="1.65" height="1.65"/><rect x="258.68" y="155.97" width="1.65" height="1.65"/><rect x="262.68" y="151.88" width="1.65" height="1.65"/><rect x="262.68" y="155.97" width="1.65" height="1.65"/><rect x="266.68" y="151.88" width="1.65" height="1.65"/><rect x="266.68" y="155.97" width="1.65" height="1.65"/><rect x="270.68" y="151.88" width="1.65" height="1.65"/><rect x="270.68" y="155.97" width="1.65" height="1.65"/><rect x="202.68" y="160.78" width="1.65" height="1.65"/><rect x="206.68" y="164.88" width="1.65" height="1.65"/><rect x="210.68" y="160.78" width="1.65" height="1.65"/><rect x="210.68" y="164.88" width="1.65" height="1.65"/><rect x="214.68" y="160.78" width="1.65" height="1.65"/><rect x="214.68" y="164.88" width="1.65" height="1.65"/><rect x="218.68" y="160.78" width="1.65" height="1.65"/><rect x="218.68" y="164.88" width="1.65" height="1.65"/><rect x="222.68" y="160.78" width="1.65" height="1.65"/><rect x="222.68" y="164.88" width="1.65" height="1.65"/><rect x="226.68" y="160.78" width="1.65" height="1.65"/><rect x="226.68" y="164.88" width="1.65" height="1.65"/><rect x="234.68" y="160.78" width="1.65" height="1.65"/><rect x="234.68" y="164.88" width="1.65" height="1.65"/><rect x="238.68" y="160.78" width="1.65" height="1.65"/><rect x="238.68" y="164.88" width="1.65" height="1.65"/><rect x="242.68" y="160.78" width="1.65" height="1.65"/><rect x="242.68" y="164.88" width="1.65" height="1.65"/><rect x="246.68" y="160.78" width="1.65" height="1.65"/><rect x="246.68" y="164.88" width="1.65" height="1.65"/><rect x="250.68" y="160.78" width="1.65" height="1.65"/><rect x="254.68" y="164.88" width="1.65" height="1.65"/></g><use href="#gH" x="277.00" y="56.85"/><use href="#gH" x="277.00" y="65.75"/><use href="#gH" x="285.00" y="65.75"/><use href="#gH" x="285.00" y="74.65"/><rect x="287.10" y="70.00" width="9.9" height="9.3" fill="url(#pX)"/><use href="#gH" x="285.00" y="83.55"/><rect x="287.10" y="78.90" width="9.9" height="9.3" fill="url(#pX)"/><use href="#gS" x="300.80" y="83.55"/><use href="#gH" x="197.00" y="92.45"/><use href="#gH" x="205.00" y="92.45"/><rect x="287.10" y="87.80" width="9.9" height="9.3" fill="url(#pX)"/><use href="#gS" x="300.80" y="92.45"/><rect x="175.10" y="105.60" width="9.9" height="9.3" fill="url(#pX)"/><rect x="191.10" y="105.60" width="9.9" height="9.3" fill="url(#pX)"/><use href="#gH" x="293.00" y="110.25"/><rect x="295.10" y="105.60" width="9.9" height="9.3" fill="url(#pX)"/><use href="#gH" x="181.00" y="119.15"/><rect x="183.10" y="114.50" width="9.9" height="9.3" fill="url(#pX)"/><use href="#gH" x="293.00" y="119.15"/><rect x="295.10" y="114.50" width="9.9" height="9.3" fill="url(#pX)"/><use href="#gH" x="293.00" y="128.05"/><rect x="184.30" y="105.00" width="8.6" height="10.4" fill="#000"/>
<rect x="362.35" y="37.50" width="1.7" height="1.7" fill="#111"/><rect x="378.25" y="37.50" width="1.7" height="1.7" fill="#111"/><rect x="394.15" y="37.50" width="1.7" height="1.7" fill="#111"/><rect x="410.05" y="37.50" width="1.7" height="1.7" fill="#111"/><rect x="346.45" y="55.35" width="1.7" height="1.7" fill="#111"/><rect x="362.35" y="55.35" width="1.7" height="1.7" fill="#111"/><rect x="378.25" y="55.35" width="1.7" height="1.7" fill="#111"/><rect x="391.70" y="51.40" width="8" height="10.4" rx="0.6" fill="#000"/><rect x="408.95" y="54.00" width="1.5" height="1.5" fill="#111"/><rect x="408.95" y="57.70" width="1.5" height="1.5" fill="#111"/><rect x="412.75" y="54.00" width="1.5" height="1.5" fill="#111"/><rect x="412.75" y="57.70" width="1.5" height="1.5" fill="#111"/><rect x="424.85" y="54.00" width="1.5" height="1.5" fill="#111"/><rect x="424.85" y="57.70" width="1.5" height="1.5" fill="#111"/><rect x="428.65" y="54.00" width="1.5" height="1.5" fill="#111"/><rect x="428.65" y="57.70" width="1.5" height="1.5" fill="#111"/><rect x="330.55" y="73.20" width="1.7" height="1.7" fill="#111"/><rect x="346.45" y="73.20" width="1.7" height="1.7" fill="#111"/><rect x="362.35" y="73.20" width="1.7" height="1.7" fill="#111"/><rect x="378.25" y="73.20" width="1.7" height="1.7" fill="#111"/><rect x="394.15" y="73.20" width="1.7" height="1.7" fill="#111"/><use href="#sx" x="411.60" y="74.45"/><use href="#sh" x="427.50" y="74.45"/><use href="#sx" x="443.40" y="74.45"/><rect x="330.55" y="91.05" width="1.7" height="1.7" fill="#111"/><rect x="359.90" y="87.10" width="8" height="10.4" rx="0.6" fill="#000"/><rect x="378.25" y="91.05" width="1.7" height="1.7" fill="#111"/><rect x="393.05" y="89.70" width="1.5" height="1.5" fill="#111"/><rect x="393.05" y="93.40" width="1.5" height="1.5" fill="#111"/><rect x="396.85" y="89.70" width="1.5" height="1.5" fill="#111"/><rect x="396.85" y="93.40" width="1.5" height="1.5" fill="#111"/><rect x="407.60" y="87.10" width="8" height="10.4" rx="0.6" fill="#000"/><use href="#sh" x="427.50" y="92.30"/><use href="#sh" x="443.40" y="92.30"/><rect x="455.30" y="87.10" width="8" height="10.4" rx="0.6" fill="#000"/><rect x="330.55" y="108.90" width="1.7" height="1.7" fill="#111"/><rect x="362.35" y="108.90" width="1.7" height="1.7" fill="#111"/><rect x="378.25" y="108.90" width="1.7" height="1.7" fill="#111"/><rect x="394.15" y="108.90" width="1.7" height="1.7" fill="#111"/><rect x="410.05" y="108.90" width="1.7" height="1.7" fill="#111"/><rect x="425.95" y="108.90" width="1.7" height="1.7" fill="#111"/><use href="#sh" x="443.40" y="110.15"/><rect x="455.30" y="104.95" width="8" height="10.4" rx="0.6" fill="#000"/><rect x="330.55" y="126.75" width="1.7" height="1.7" fill="#111"/><rect x="346.45" y="126.75" width="1.7" height="1.7" fill="#111"/><rect x="362.35" y="126.75" width="1.7" height="1.7" fill="#111"/><rect x="378.25" y="126.75" width="1.7" height="1.7" fill="#111"/><rect x="394.15" y="126.75" width="1.7" height="1.7" fill="#111"/><rect x="410.05" y="126.75" width="1.7" height="1.7" fill="#111"/><rect x="425.95" y="126.75" width="1.7" height="1.7" fill="#111"/><rect x="441.85" y="126.75" width="1.7" height="1.7" fill="#111"/><rect x="346.45" y="144.60" width="1.7" height="1.7" fill="#111"/><rect x="362.35" y="144.60" width="1.7" height="1.7" fill="#111"/><rect x="378.25" y="144.60" width="1.7" height="1.7" fill="#111"/><rect x="394.15" y="144.60" width="1.7" height="1.7" fill="#111"/><rect x="410.05" y="144.60" width="1.7" height="1.7" fill="#111"/><rect x="425.95" y="144.60" width="1.7" height="1.7" fill="#111"/><rect x="362.35" y="162.45" width="1.7" height="1.7" fill="#111"/><rect x="378.25" y="162.45" width="1.7" height="1.7" fill="#111"/><rect x="394.15" y="162.45" width="1.7" height="1.7" fill="#111"/><rect x="410.05" y="162.45" width="1.7" height="1.7" fill="#111"/>
<g font-size="8.4" fill="#111" stroke="#111" stroke-width="0.3" letter-spacing="0.15"><text x="526.80" y="43.05" text-anchor="end">3</text><text x="542.70" y="43.05" text-anchor="end">0</text><text x="558.60" y="43.05" text-anchor="end">4</text><text x="574.50" y="43.05" text-anchor="end">-2</text><text x="510.90" y="60.90" text-anchor="end">1</text><text x="526.80" y="60.90" text-anchor="end">-1</text><text x="542.70" y="60.90" text-anchor="end">0</text><text x="558.60" y="60.90" text-anchor="end">-4</text><text x="574.50" y="60.90" text-anchor="end">-2</text><text x="590.40" y="60.90" text-anchor="end">-5</text><text x="495.00" y="78.75" text-anchor="end">3</text><text x="510.90" y="78.75" text-anchor="end">-3</text><text x="526.80" y="78.75" text-anchor="end">-1</text><text x="542.70" y="78.75" text-anchor="end">0</text><text x="558.60" y="78.75" text-anchor="end">1</text><text x="574.50" y="78.75" text-anchor="end">-1</text><text x="590.40" y="78.75" text-anchor="end">-4</text><text x="606.30" y="78.75" text-anchor="end">-5</text><text x="495.00" y="96.60" text-anchor="end">3</text><text x="526.80" y="96.60" text-anchor="end">-8</text><text x="542.70" y="96.60" text-anchor="end">0</text><text x="558.60" y="96.60" text-anchor="end">-2</text><text x="574.50" y="96.60" text-anchor="end">-2</text><text x="590.40" y="96.60" text-anchor="end">-2</text><text x="606.30" y="96.60" text-anchor="end">1</text><text x="622.20" y="96.60" text-anchor="end">-6</text><text x="495.00" y="114.45" text-anchor="end">-4</text><text x="526.80" y="114.45" text-anchor="end">1</text><text x="542.70" y="114.45" text-anchor="end">-1</text><text x="558.60" y="114.45" text-anchor="end">0</text><text x="574.50" y="114.45" text-anchor="end">1</text><text x="590.40" y="114.45" text-anchor="end">0</text><text x="606.30" y="114.45" text-anchor="end">-3</text><text x="622.20" y="114.45" text-anchor="end">2</text><text x="495.00" y="132.30" text-anchor="end">0</text><text x="510.90" y="132.30" text-anchor="end">-1</text><text x="526.80" y="132.30" text-anchor="end">1</text><text x="542.70" y="132.30" text-anchor="end">0</text><text x="558.60" y="132.30" text-anchor="end">0</text><text x="574.50" y="132.30" text-anchor="end">-1</text><text x="590.40" y="132.30" text-anchor="end">0</text><text x="606.30" y="132.30" text-anchor="end">-1</text><text x="510.90" y="150.15" text-anchor="end">-1</text><text x="526.80" y="150.15" text-anchor="end">-1</text><text x="542.70" y="150.15" text-anchor="end">2</text><text x="558.60" y="150.15" text-anchor="end">2</text><text x="574.50" y="150.15" text-anchor="end">1</text><text x="590.40" y="150.15" text-anchor="end">0</text><text x="526.80" y="168.00" text-anchor="end">2</text><text x="542.70" y="168.00" text-anchor="end">-2</text><text x="558.60" y="168.00" text-anchor="end">-1</text><text x="574.50" y="168.00" text-anchor="end">4</text></g>
<rect x="679.55" y="37.50" width="1.7" height="1.7" fill="#111"/><rect x="695.45" y="37.50" width="1.7" height="1.7" fill="#111"/><rect x="711.35" y="37.50" width="1.7" height="1.7" fill="#111"/><rect x="727.25" y="37.50" width="1.7" height="1.7" fill="#111"/><rect x="663.65" y="55.35" width="1.7" height="1.7" fill="#111"/><rect x="679.55" y="55.35" width="1.7" height="1.7" fill="#111"/><rect x="695.45" y="55.35" width="1.7" height="1.7" fill="#111"/><use href="#tt" x="711.40" y="56.60"/><rect x="727.25" y="55.35" width="1.7" height="1.7" fill="#111"/><use href="#tt" x="743.20" y="56.60"/><rect x="647.75" y="73.20" width="1.7" height="1.7" fill="#111"/><rect x="663.65" y="73.20" width="1.7" height="1.7" fill="#111"/><rect x="679.55" y="73.20" width="1.7" height="1.7" fill="#111"/><rect x="695.45" y="73.20" width="1.7" height="1.7" fill="#111"/><rect x="711.35" y="73.20" width="1.7" height="1.7" fill="#111"/><rect x="727.25" y="73.20" width="1.7" height="1.7" fill="#111"/><use href="#tt" x="743.20" y="74.45"/><use href="#tt" x="759.10" y="74.45"/><rect x="647.75" y="91.05" width="1.7" height="1.7" fill="#111"/><use href="#tt" x="679.60" y="92.30"/><rect x="695.45" y="91.05" width="1.7" height="1.7" fill="#111"/><rect x="711.35" y="91.05" width="1.7" height="1.7" fill="#111"/><rect x="727.25" y="91.05" width="1.7" height="1.7" fill="#111"/><rect x="743.15" y="91.05" width="1.7" height="1.7" fill="#111"/><rect x="759.05" y="91.05" width="1.7" height="1.7" fill="#111"/><rect x="774.95" y="91.05" width="1.7" height="1.7" fill="#111"/><use href="#tF" x="648.90" y="110.15"/><rect x="679.55" y="108.90" width="1.7" height="1.7" fill="#111"/><rect x="695.45" y="108.90" width="1.7" height="1.7" fill="#111"/><rect x="711.35" y="108.90" width="1.7" height="1.7" fill="#111"/><rect x="727.25" y="108.90" width="1.7" height="1.7" fill="#111"/><rect x="743.15" y="108.90" width="1.7" height="1.7" fill="#111"/><rect x="759.05" y="108.90" width="1.7" height="1.7" fill="#111"/><text x="772.90" y="115.45" font-size="10.6" textLength="5.9" lengthAdjust="spacingAndGlyphs" fill="#111" stroke="#111" stroke-width="0.45">X</text><rect x="647.75" y="126.75" width="1.7" height="1.7" fill="#111"/><rect x="663.65" y="126.75" width="1.7" height="1.7" fill="#111"/><rect x="679.55" y="126.75" width="1.7" height="1.7" fill="#111"/><rect x="695.45" y="126.75" width="1.7" height="1.7" fill="#111"/><rect x="711.35" y="126.75" width="1.7" height="1.7" fill="#111"/><rect x="727.25" y="126.75" width="1.7" height="1.7" fill="#111"/><rect x="743.15" y="126.75" width="1.7" height="1.7" fill="#111"/><rect x="759.05" y="126.75" width="1.7" height="1.7" fill="#111"/><rect x="663.65" y="144.60" width="1.7" height="1.7" fill="#111"/><rect x="679.55" y="144.60" width="1.7" height="1.7" fill="#111"/><rect x="695.45" y="144.60" width="1.7" height="1.7" fill="#111"/><rect x="711.35" y="144.60" width="1.7" height="1.7" fill="#111"/><rect x="727.25" y="144.60" width="1.7" height="1.7" fill="#111"/><rect x="743.15" y="144.60" width="1.7" height="1.7" fill="#111"/><rect x="679.55" y="162.45" width="1.7" height="1.7" fill="#111"/><rect x="695.45" y="162.45" width="1.7" height="1.7" fill="#111"/><rect x="711.35" y="162.45" width="1.7" height="1.7" fill="#111"/><rect x="727.25" y="162.45" width="1.7" height="1.7" fill="#111"/>
<rect x="150.2" y="100.75" width="634.3" height="1.9" fill="#000"/><rect x="230.35" y="6.70" width="1.3" height="188.80" fill="#262626"/><rect x="389.05" y="6.70" width="1.3" height="188.80" fill="#262626"/><rect x="547.25" y="6.70" width="1.3" height="188.80" fill="#262626"/><rect x="706.25" y="6.70" width="1.3" height="188.80" fill="#262626"/>
<g fill="#111" stroke="#111" stroke-width="0.32"><text transform="translate(150.60,8.30) scale(1.080,1)" font-size="10.4" textLength="59.8" lengthAdjust="spacing">03-07-2005</text><text x="221.80" y="8.30" font-size="10.4" textLength="73.8" lengthAdjust="spacingAndGlyphs">SITA-Standard</text><text x="320.50" y="8.30" font-size="10.4" textLength="77.0" lengthAdjust="spacingAndGlyphs">GHT: Borderline</text><text x="150.60" y="203.90" font-size="10.4" textLength="56.4" lengthAdjust="spacingAndGlyphs">Fovea: OFF</text><text x="150.60" y="222.00" font-size="10.4" textLength="17.5" lengthAdjust="spacingAndGlyphs">VFI:</text><text x="176.40" y="222.00" font-size="10.4" textLength="20.8" lengthAdjust="spacingAndGlyphs">93%</text><text x="308.20" y="203.90" font-size="10.4" textLength="18.3" lengthAdjust="spacingAndGlyphs">MD:</text><text transform="translate(333.00,203.90) scale(1.070,1)" font-size="10.4" textLength="26.4" lengthAdjust="spacing">-3.60</text><text x="364.80" y="203.90" font-size="10.4" textLength="12.7" lengthAdjust="spacingAndGlyphs">dB</text><text x="383.20" y="203.90" font-size="10.4" textLength="32.5" lengthAdjust="spacingAndGlyphs">P &lt; 1%</text><text x="308.20" y="222.00" font-size="10.4" textLength="23.4" lengthAdjust="spacingAndGlyphs">PSD:</text><text x="340.40" y="222.00" font-size="10.4" textLength="20.8" lengthAdjust="spacingAndGlyphs">3.48</text><text x="364.80" y="222.00" font-size="10.4" textLength="12.7" lengthAdjust="spacingAndGlyphs">dB</text><text x="383.20" y="222.00" font-size="10.4" textLength="32.5" lengthAdjust="spacingAndGlyphs">P &lt; 1%</text><text transform="translate(467.70,203.90) scale(1.060,1)" font-size="10.4" textLength="42.5" lengthAdjust="spacing">FL: 0/15</text><text x="578.60" y="203.90" font-size="10.4" textLength="16.0" lengthAdjust="spacingAndGlyphs">FN:</text><text x="603.60" y="203.90" font-size="10.4" textLength="16.3" lengthAdjust="spacingAndGlyphs">3 %</text><text x="685.80" y="203.90" font-size="10.4" textLength="15.4" lengthAdjust="spacingAndGlyphs">FP:</text><text x="711.30" y="203.90" font-size="10.4" textLength="15.7" lengthAdjust="spacingAndGlyphs">1 %</text><text x="578.60" y="222.00" font-size="10.4" textLength="120.4" lengthAdjust="spacingAndGlyphs">No Progression Detected</text></g>
</g>
<g id="panel2">
<g fill="#000"><rect x="205.15" y="292.85" width="1.50" height="1.50"/><rect x="206.65" y="295.45" width="1.50" height="1.50"/><rect x="202.75" y="296.95" width="1.50" height="1.50"/><rect x="205.15" y="298.35" width="1.50" height="1.50"/><rect x="207.95" y="298.35" width="1.50" height="1.50"/><rect x="202.75" y="301.05" width="1.50" height="1.50"/><rect x="213.15" y="292.85" width="1.50" height="1.50"/><rect x="214.65" y="295.45" width="1.50" height="1.50"/><rect x="210.75" y="296.95" width="1.50" height="1.50"/><rect x="213.15" y="298.35" width="1.50" height="1.50"/><rect x="215.95" y="298.35" width="1.50" height="1.50"/><rect x="210.75" y="301.05" width="1.50" height="1.50"/><rect x="237.15" y="292.85" width="1.50" height="1.50"/><rect x="238.65" y="295.45" width="1.50" height="1.50"/><rect x="234.75" y="296.95" width="1.50" height="1.50"/><rect x="237.15" y="298.35" width="1.50" height="1.50"/><rect x="239.95" y="298.35" width="1.50" height="1.50"/><rect x="234.75" y="301.05" width="1.50" height="1.50"/><rect x="245.15" y="292.85" width="1.50" height="1.50"/><rect x="246.65" y="295.45" width="1.50" height="1.50"/><rect x="242.75" y="296.95" width="1.50" height="1.50"/><rect x="245.15" y="298.35" width="1.50" height="1.50"/><rect x="247.95" y="298.35" width="1.50" height="1.50"/><rect x="242.75" y="301.05" width="1.50" height="1.50"/><rect x="253.15" y="292.85" width="1.50" height="1.50"/><rect x="254.65" y="295.45" width="1.50" height="1.50"/><rect x="250.75" y="296.95" width="1.50" height="1.50"/><rect x="253.15" y="298.35" width="1.50" height="1.50"/><rect x="255.95" y="298.35" width="1.50" height="1.50"/><rect x="250.75" y="301.05" width="1.50" height="1.50"/><rect x="189.15" y="301.75" width="1.50" height="1.50"/><rect x="190.65" y="304.35" width="1.50" height="1.50"/><rect x="186.75" y="305.85" width="1.50" height="1.50"/><rect x="189.15" y="307.25" width="1.50" height="1.50"/><rect x="191.95" y="307.25" width="1.50" height="1.50"/><rect x="186.75" y="309.95" width="1.50" height="1.50"/><rect x="197.15" y="301.75" width="1.50" height="1.50"/><rect x="198.65" y="304.35" width="1.50" height="1.50"/><rect x="194.75" y="305.85" width="1.50" height="1.50"/><rect x="197.15" y="307.25" width="1.50" height="1.50"/><rect x="199.95" y="307.25" width="1.50" height="1.50"/><rect x="194.75" y="309.95" width="1.50" height="1.50"/><rect x="205.15" y="301.75" width="1.50" height="1.50"/><rect x="206.65" y="304.35" width="1.50" height="1.50"/><rect x="202.75" y="305.85" width="1.50" height="1.50"/><rect x="205.15" y="307.25" width="1.50" height="1.50"/><rect x="207.95" y="307.25" width="1.50" height="1.50"/><rect x="202.75" y="309.95" width="1.50" height="1.50"/><rect x="213.15" y="301.75" width="1.50" height="1.50"/><rect x="214.65" y="304.35" width="1.50" height="1.50"/><rect x="210.75" y="305.85" width="1.50" height="1.50"/><rect x="213.15" y="307.25" width="1.50" height="1.50"/><rect x="215.95" y="307.25" width="1.50" height="1.50"/><rect x="210.75" y="309.95" width="1.50" height="1.50"/><rect x="237.15" y="301.75" width="1.50" height="1.50"/><rect x="238.65" y="304.35" width="1.50" height="1.50"/><rect x="234.75" y="305.85" width="1.50" height="1.50"/><rect x="237.15" y="307.25" width="1.50" height="1.50"/><rect x="239.95" y="307.25" width="1.50" height="1.50"/><rect x="234.75" y="309.95" width="1.50" height="1.50"/><rect x="245.15" y="301.75" width="1.50" height="1.50"/><rect x="246.65" y="304.35" width="1.50" height="1.50"/><rect x="242.75" y="305.85" width="1.50" height="1.50"/><rect x="245.15" y="307.25" width="1.50" height="1.50"/><rect x="247.95" y="307.25" width="1.50" height="1.50"/><rect x="242.75" y="309.95" width="1.50" height="1.50"/><rect x="253.15" y="301.75" width="1.50" height="1.50"/><rect x="254.65" y="304.35" width="1.50" height="1.50"/><rect x="250.75" y="305.85" width="1.50" height="1.50"/><rect x="253.15" y="307.25" width="1.50" height="1.50"/><rect x="255.95" y="307.25" width="1.50" height="1.50"/><rect x="250.75" y="309.95" width="1.50" height="1.50"/><rect x="261.15" y="301.75" width="1.50" height="1.50"/><rect x="262.65" y="304.35" width="1.50" height="1.50"/><rect x="258.75" y="305.85" width="1.50" height="1.50"/><rect x="261.15" y="307.25" width="1.50" height="1.50"/><rect x="263.95" y="307.25" width="1.50" height="1.50"/><rect x="258.75" y="309.95" width="1.50" height="1.50"/><rect x="181.15" y="310.65" width="1.50" height="1.50"/><rect x="182.65" y="313.25" width="1.50" height="1.50"/><rect x="178.75" y="314.75" width="1.50" height="1.50"/><rect x="181.15" y="316.15" width="1.50" height="1.50"/><rect x="183.95" y="316.15" width="1.50" height="1.50"/><rect x="178.75" y="318.85" width="1.50" height="1.50"/><rect x="189.15" y="310.65" width="1.50" height="1.50"/><rect x="190.65" y="313.25" width="1.50" height="1.50"/><rect x="186.75" y="314.75" width="1.50" height="1.50"/><rect x="189.15" y="316.15" width="1.50" height="1.50"/><rect x="191.95" y="316.15" width="1.50" height="1.50"/><rect x="186.75" y="318.85" width="1.50" height="1.50"/><rect x="197.15" y="310.65" width="1.50" height="1.50"/><rect x="198.65" y="313.25" width="1.50" height="1.50"/><rect x="194.75" y="314.75" width="1.50" height="1.50"/><rect x="197.15" y="316.15" width="1.50" height="1.50"/><rect x="199.95" y="316.15" width="1.50" height="1.50"/><rect x="194.75" y="318.85" width="1.50" height="1.50"/><rect x="205.15" y="310.65" width="1.50" height="1.50"/><rect x="206.65" y="313.25" width="1.50" height="1.50"/><rect x="202.75" y="314.75" width="1.50" height="1.50"/><rect x="205.15" y="316.15" width="1.50" height="1.50"/><rect x="207.95" y="316.15" width="1.50" height="1.50"/><rect x="202.75" y="318.85" width="1.50" height="1.50"/><rect x="213.15" y="310.65" width="1.50" height="1.50"/><rect x="214.65" y="313.25" width="1.50" height="1.50"/><rect x="210.75" y="314.75" width="1.50" height="1.50"/><rect x="213.15" y="316.15" width="1.50" height="1.50"/><rect x="215.95" y="316.15" width="1.50" height="1.50"/><rect x="210.75" y="318.85" width="1.50" height="1.50"/><rect x="221.15" y="310.65" width="1.50" height="1.50"/><rect x="222.65" y="313.25" width="1.50" height="1.50"/><rect x="218.75" y="314.75" width="1.50" height="1.50"/><rect x="221.15" y="316.15" width="1.50" height="1.50"/><rect x="223.95" y="316.15" width="1.50" height="1.50"/><rect x="218.75" y="318.85" width="1.50" height="1.50"/><rect x="226.75" y="314.75" width="1.50" height="1.50"/><rect x="226.75" y="318.85" width="1.50" height="1.50"/><rect x="237.15" y="310.65" width="1.50" height="1.50"/><rect x="238.65" y="313.25" width="1.50" height="1.50"/><rect x="234.75" y="314.75" width="1.50" height="1.50"/><rect x="237.15" y="316.15" width="1.50" height="1.50"/><rect x="239.95" y="316.15" width="1.50" height="1.50"/><rect x="234.75" y="318.85" width="1.50" height="1.50"/><rect x="245.15" y="310.65" width="1.50" height="1.50"/><rect x="246.65" y="313.25" width="1.50" height="1.50"/><rect x="242.75" y="314.75" width="1.50" height="1.50"/><rect x="245.15" y="316.15" width="1.50" height="1.50"/><rect x="247.95" y="316.15" width="1.50" height="1.50"/><rect x="242.75" y="318.85" width="1.50" height="1.50"/><rect x="253.15" y="310.65" width="1.50" height="1.50"/><rect x="254.65" y="313.25" width="1.50" height="1.50"/><rect x="250.75" y="314.75" width="1.50" height="1.50"/><rect x="253.15" y="316.15" width="1.50" height="1.50"/><rect x="255.95" y="316.15" width="1.50" height="1.50"/><rect x="250.75" y="318.85" width="1.50" height="1.50"/><rect x="261.15" y="310.65" width="1.50" height="1.50"/><rect x="262.65" y="313.25" width="1.50" height="1.50"/><rect x="258.75" y="314.75" width="1.50" height="1.50"/><rect x="261.15" y="316.15" width="1.50" height="1.50"/><rect x="263.95" y="316.15" width="1.50" height="1.50"/><rect x="258.75" y="318.85" width="1.50" height="1.50"/><rect x="181.15" y="319.55" width="1.50" height="1.50"/><rect x="182.65" y="322.15" width="1.50" height="1.50"/><rect x="178.75" y="323.65" width="1.50" height="1.50"/><rect x="181.15" y="325.05" width="1.50" height="1.50"/><rect x="183.95" y="325.05" width="1.50" height="1.50"/><rect x="178.75" y="327.75" width="1.50" height="1.50"/><rect x="189.15" y="319.55" width="1.50" height="1.50"/><rect x="190.65" y="322.15" width="1.50" height="1.50"/><rect x="186.75" y="323.65" width="1.50" height="1.50"/><rect x="189.15" y="325.05" width="1.50" height="1.50"/><rect x="191.95" y="325.05" width="1.50" height="1.50"/><rect x="186.75" y="327.75" width="1.50" height="1.50"/><rect x="197.15" y="319.55" width="1.50" height="1.50"/><rect x="198.65" y="322.15" width="1.50" height="1.50"/><rect x="194.75" y="323.65" width="1.50" height="1.50"/><rect x="197.15" y="325.05" width="1.50" height="1.50"/><rect x="199.95" y="325.05" width="1.50" height="1.50"/><rect x="194.75" y="327.75" width="1.50" height="1.50"/><rect x="205.15" y="319.55" width="1.50" height="1.50"/><rect x="206.65" y="322.15" width="1.50" height="1.50"/><rect x="202.75" y="323.65" width="1.50" height="1.50"/><rect x="205.15" y="325.05" width="1.50" height="1.50"/><rect x="207.95" y="325.05" width="1.50" height="1.50"/><rect x="202.75" y="327.75" width="1.50" height="1.50"/><rect x="213.15" y="319.55" width="1.50" height="1.50"/><rect x="214.65" y="322.15" width="1.50" height="1.50"/><rect x="210.75" y="323.65" width="1.50" height="1.50"/><rect x="213.15" y="325.05" width="1.50" height="1.50"/><rect x="215.95" y="325.05" width="1.50" height="1.50"/><rect x="210.75" y="327.75" width="1.50" height="1.50"/><rect x="221.15" y="319.55" width="1.50" height="1.50"/><rect x="222.65" y="322.15" width="1.50" height="1.50"/><rect x="218.75" y="323.65" width="1.50" height="1.50"/><rect x="221.15" y="325.05" width="1.50" height="1.50"/><rect x="223.95" y="325.05" width="1.50" height="1.50"/><rect x="218.75" y="327.75" width="1.50" height="1.50"/><rect x="226.75" y="323.65" width="1.50" height="1.50"/><rect x="226.75" y="327.75" width="1.50" height="1.50"/><rect x="237.15" y="319.55" width="1.50" height="1.50"/><rect x="238.65" y="322.15" width="1.50" height="1.50"/><rect x="234.75" y="323.65" width="1.50" height="1.50"/><rect x="237.15" y="325.05" width="1.50" height="1.50"/><rect x="239.95" y="325.05" width="1.50" height="1.50"/><rect x="234.75" y="327.75" width="1.50" height="1.50"/><rect x="245.15" y="319.55" width="1.50" height="1.50"/><rect x="246.65" y="322.15" width="1.50" height="1.50"/><rect x="242.75" y="323.65" width="1.50" height="1.50"/><rect x="245.15" y="325.05" width="1.50" height="1.50"/><rect x="247.95" y="325.05" width="1.50" height="1.50"/><rect x="242.75" y="327.75" width="1.50" height="1.50"/><rect x="253.15" y="319.55" width="1.50" height="1.50"/><rect x="254.65" y="322.15" width="1.50" height="1.50"/><rect x="250.75" y="323.65" width="1.50" height="1.50"/><rect x="253.15" y="325.05" width="1.50" height="1.50"/><rect x="255.95" y="325.05" width="1.50" height="1.50"/><rect x="250.75" y="327.75" width="1.50" height="1.50"/><rect x="261.15" y="319.55" width="1.50" height="1.50"/><rect x="262.65" y="322.15" width="1.50" height="1.50"/><rect x="258.75" y="323.65" width="1.50" height="1.50"/><rect x="261.15" y="325.05" width="1.50" height="1.50"/><rect x="263.95" y="325.05" width="1.50" height="1.50"/><rect x="258.75" y="327.75" width="1.50" height="1.50"/><rect x="173.15" y="328.45" width="1.50" height="1.50"/><rect x="174.65" y="331.05" width="1.50" height="1.50"/><rect x="170.75" y="332.55" width="1.50" height="1.50"/><rect x="173.15" y="333.95" width="1.50" height="1.50"/><rect x="175.95" y="333.95" width="1.50" height="1.50"/><rect x="170.75" y="336.65" width="1.50" height="1.50"/><rect x="181.15" y="328.45" width="1.50" height="1.50"/><rect x="182.65" y="331.05" width="1.50" height="1.50"/><rect x="178.75" y="332.55" width="1.50" height="1.50"/><rect x="181.15" y="333.95" width="1.50" height="1.50"/><rect x="183.95" y="333.95" width="1.50" height="1.50"/><rect x="178.75" y="336.65" width="1.50" height="1.50"/><rect x="189.15" y="328.45" width="1.50" height="1.50"/><rect x="190.65" y="331.05" width="1.50" height="1.50"/><rect x="186.75" y="332.55" width="1.50" height="1.50"/><rect x="189.15" y="333.95" width="1.50" height="1.50"/><rect x="191.95" y="333.95" width="1.50" height="1.50"/><rect x="186.75" y="336.65" width="1.50" height="1.50"/><rect x="197.15" y="328.45" width="1.50" height="1.50"/><rect x="198.65" y="331.05" width="1.50" height="1.50"/><rect x="194.75" y="332.55" width="1.50" height="1.50"/><rect x="197.15" y="333.95" width="1.50" height="1.50"/><rect x="199.95" y="333.95" width="1.50" height="1.50"/><rect x="194.75" y="336.65" width="1.50" height="1.50"/><rect x="202.68" y="329.98" width="1.65" height="1.65"/><rect x="202.68" y="334.08" width="1.65" height="1.65"/><rect x="206.68" y="329.98" width="1.65" height="1.65"/><rect x="206.68" y="334.08" width="1.65" height="1.65"/><rect x="210.68" y="329.98" width="1.65" height="1.65"/><rect x="210.68" y="334.08" width="1.65" height="1.65"/><rect x="214.68" y="329.98" width="1.65" height="1.65"/><rect x="214.68" y="334.08" width="1.65" height="1.65"/><rect x="221.15" y="328.45" width="1.50" height="1.50"/><rect x="222.65" y="331.05" width="1.50" height="1.50"/><rect x="218.75" y="332.55" width="1.50" height="1.50"/><rect x="221.15" y="333.95" width="1.50" height="1.50"/><rect x="223.95" y="333.95" width="1.50" height="1.50"/><rect x="218.75" y="336.65" width="1.50" height="1.50"/><rect x="226.75" y="332.55" width="1.50" height="1.50"/><rect x="226.75" y="336.65" width="1.50" height="1.50"/><rect x="237.15" y="328.45" width="1.50" height="1.50"/><rect x="238.65" y="331.05" width="1.50" height="1.50"/><rect x="234.75" y="332.55" width="1.50" height="1.50"/><rect x="237.15" y="333.95" width="1.50" height="1.50"/><rect x="239.95" y="333.95" width="1.50" height="1.50"/><rect x="234.75" y="336.65" width="1.50" height="1.50"/><rect x="245.15" y="328.45" width="1.50" height="1.50"/><rect x="246.65" y="331.05" width="1.50" height="1.50"/><rect x="242.75" y="332.55" width="1.50" height="1.50"/><rect x="245.15" y="333.95" width="1.50" height="1.50"/><rect x="247.95" y="333.95" width="1.50" height="1.50"/><rect x="242.75" y="336.65" width="1.50" height="1.50"/><rect x="253.15" y="328.45" width="1.50" height="1.50"/><rect x="254.65" y="331.05" width="1.50" height="1.50"/><rect x="250.75" y="332.55" width="1.50" height="1.50"/><rect x="253.15" y="333.95" width="1.50" height="1.50"/><rect x="255.95" y="333.95" width="1.50" height="1.50"/><rect x="250.75" y="336.65" width="1.50" height="1.50"/><rect x="261.15" y="328.45" width="1.50" height="1.50"/><rect x="262.65" y="331.05" width="1.50" height="1.50"/><rect x="258.75" y="332.55" width="1.50" height="1.50"/><rect x="261.15" y="333.95" width="1.50" height="1.50"/><rect x="263.95" y="333.95" width="1.50" height="1.50"/><rect x="258.75" y="336.65" width="1.50" height="1.50"/><rect x="173.15" y="337.35" width="1.50" height="1.50"/><rect x="174.65" y="339.95" width="1.50" height="1.50"/><rect x="170.75" y="341.45" width="1.50" height="1.50"/><rect x="173.15" y="342.85" width="1.50" height="1.50"/><rect x="175.95" y="342.85" width="1.50" height="1.50"/><rect x="170.75" y="345.55" width="1.50" height="1.50"/><rect x="181.15" y="337.35" width="1.50" height="1.50"/><rect x="182.65" y="339.95" width="1.50" height="1.50"/><rect x="178.75" y="341.45" width="1.50" height="1.50"/><rect x="181.15" y="342.85" width="1.50" height="1.50"/><rect x="183.95" y="342.85" width="1.50" height="1.50"/><rect x="178.75" y="345.55" width="1.50" height="1.50"/><rect x="189.15" y="337.35" width="1.50" height="1.50"/><rect x="190.65" y="339.95" width="1.50" height="1.50"/><rect x="186.75" y="341.45" width="1.50" height="1.50"/><rect x="189.15" y="342.85" width="1.50" height="1.50"/><rect x="191.95" y="342.85" width="1.50" height="1.50"/><rect x="186.75" y="345.55" width="1.50" height="1.50"/><rect x="221.15" y="337.35" width="1.50" height="1.50"/><rect x="222.65" y="339.95" width="1.50" height="1.50"/><rect x="218.75" y="341.45" width="1.50" height="1.50"/><rect x="221.15" y="342.85" width="1.50" height="1.50"/><rect x="223.95" y="342.85" width="1.50" height="1.50"/><rect x="218.75" y="345.55" width="1.50" height="1.50"/><rect x="226.75" y="341.45" width="1.50" height="1.50"/><rect x="226.75" y="345.55" width="1.50" height="1.50"/><rect x="237.15" y="337.35" width="1.50" height="1.50"/><rect x="238.65" y="339.95" width="1.50" height="1.50"/><rect x="234.75" y="341.45" width="1.50" height="1.50"/><rect x="237.15" y="342.85" width="1.50" height="1.50"/><rect x="239.95" y="342.85" width="1.50" height="1.50"/><rect x="234.75" y="345.55" width="1.50" height="1.50"/><rect x="245.15" y="337.35" width="1.50" height="1.50"/><rect x="246.65" y="339.95" width="1.50" height="1.50"/><rect x="242.75" y="341.45" width="1.50" height="1.50"/><rect x="245.15" y="342.85" width="1.50" height="1.50"/><rect x="247.95" y="342.85" width="1.50" height="1.50"/><rect x="242.75" y="345.55" width="1.50" height="1.50"/><rect x="253.15" y="337.35" width="1.50" height="1.50"/><rect x="254.65" y="339.95" width="1.50" height="1.50"/><rect x="250.75" y="341.45" width="1.50" height="1.50"/><rect x="253.15" y="342.85" width="1.50" height="1.50"/><rect x="255.95" y="342.85" width="1.50" height="1.50"/><rect x="250.75" y="345.55" width="1.50" height="1.50"/><rect x="261.15" y="337.35" width="1.50" height="1.50"/><rect x="262.65" y="339.95" width="1.50" height="1.50"/><rect x="258.75" y="341.45" width="1.50" height="1.50"/><rect x="261.15" y="342.85" width="1.50" height="1.50"/><rect x="263.95" y="342.85" width="1.50" height="1.50"/><rect x="258.75" y="345.55" width="1.50" height="1.50"/><rect x="173.15" y="346.25" width="1.50" height="1.50"/><rect x="174.65" y="348.85" width="1.50" height="1.50"/><rect x="170.75" y="350.35" width="1.50" height="1.50"/><rect x="173.15" y="351.75" width="1.50" height="1.50"/><rect x="175.95" y="351.75" width="1.50" height="1.50"/><rect x="170.75" y="354.45" width="1.50" height="1.50"/><rect x="181.15" y="346.25" width="1.50" height="1.50"/><rect x="182.65" y="348.85" width="1.50" height="1.50"/><rect x="178.75" y="350.35" width="1.50" height="1.50"/><rect x="181.15" y="351.75" width="1.50" height="1.50"/><rect x="183.95" y="351.75" width="1.50" height="1.50"/><rect x="178.75" y="354.45" width="1.50" height="1.50"/><rect x="221.15" y="346.25" width="1.50" height="1.50"/><rect x="222.65" y="348.85" width="1.50" height="1.50"/><rect x="218.75" y="350.35" width="1.50" height="1.50"/><rect x="221.15" y="351.75" width="1.50" height="1.50"/><rect x="223.95" y="351.75" width="1.50" height="1.50"/><rect x="218.75" y="354.45" width="1.50" height="1.50"/><rect x="226.75" y="350.35" width="1.50" height="1.50"/><rect x="226.75" y="354.45" width="1.50" height="1.50"/><rect x="237.15" y="346.25" width="1.50" height="1.50"/><rect x="238.65" y="348.85" width="1.50" height="1.50"/><rect x="234.75" y="350.35" width="1.50" height="1.50"/><rect x="237.15" y="351.75" width="1.50" height="1.50"/><rect x="239.95" y="351.75" width="1.50" height="1.50"/><rect x="234.75" y="354.45" width="1.50" height="1.50"/><rect x="245.15" y="346.25" width="1.50" height="1.50"/><rect x="246.65" y="348.85" width="1.50" height="1.50"/><rect x="242.75" y="350.35" width="1.50" height="1.50"/><rect x="245.15" y="351.75" width="1.50" height="1.50"/><rect x="247.95" y="351.75" width="1.50" height="1.50"/><rect x="242.75" y="354.45" width="1.50" height="1.50"/><rect x="261.15" y="346.25" width="1.50" height="1.50"/><rect x="262.65" y="348.85" width="1.50" height="1.50"/><rect x="258.75" y="350.35" width="1.50" height="1.50"/><rect x="261.15" y="351.75" width="1.50" height="1.50"/><rect x="263.95" y="351.75" width="1.50" height="1.50"/><rect x="258.75" y="354.45" width="1.50" height="1.50"/><rect x="269.15" y="346.25" width="1.50" height="1.50"/><rect x="270.65" y="348.85" width="1.50" height="1.50"/><rect x="266.75" y="350.35" width="1.50" height="1.50"/><rect x="269.15" y="351.75" width="1.50" height="1.50"/><rect x="271.95" y="351.75" width="1.50" height="1.50"/><rect x="266.75" y="354.45" width="1.50" height="1.50"/><rect x="277.15" y="346.25" width="1.50" height="1.50"/><rect x="278.65" y="348.85" width="1.50" height="1.50"/><rect x="274.75" y="350.35" width="1.50" height="1.50"/><rect x="277.15" y="351.75" width="1.50" height="1.50"/><rect x="279.95" y="351.75" width="1.50" height="1.50"/><rect x="274.75" y="354.45" width="1.50" height="1.50"/><rect x="170.68" y="365.57" width="1.65" height="1.65"/><rect x="170.68" y="369.68" width="1.65" height="1.65"/><rect x="174.68" y="365.57" width="1.65" height="1.65"/><rect x="174.68" y="369.68" width="1.65" height="1.65"/><rect x="202.68" y="365.57" width="1.65" height="1.65"/><rect x="202.68" y="369.68" width="1.65" height="1.65"/><rect x="206.68" y="365.57" width="1.65" height="1.65"/><rect x="206.68" y="369.68" width="1.65" height="1.65"/><rect x="210.68" y="365.57" width="1.65" height="1.65"/><rect x="210.68" y="369.68" width="1.65" height="1.65"/><rect x="214.68" y="365.57" width="1.65" height="1.65"/><rect x="214.68" y="369.68" width="1.65" height="1.65"/><rect x="218.68" y="365.57" width="1.65" height="1.65"/><rect x="218.68" y="369.68" width="1.65" height="1.65"/><rect x="222.68" y="365.57" width="1.65" height="1.65"/><rect x="222.68" y="369.68" width="1.65" height="1.65"/><rect x="226.68" y="365.57" width="1.65" height="1.65"/><rect x="226.68" y="369.68" width="1.65" height="1.65"/><rect x="234.68" y="365.57" width="1.65" height="1.65"/><rect x="234.68" y="369.68" width="1.65" height="1.65"/><rect x="238.68" y="365.57" width="1.65" height="1.65"/><rect x="238.68" y="369.68" width="1.65" height="1.65"/><rect x="242.68" y="365.57" width="1.65" height="1.65"/><rect x="242.68" y="369.68" width="1.65" height="1.65"/><rect x="246.68" y="365.57" width="1.65" height="1.65"/><rect x="246.68" y="369.68" width="1.65" height="1.65"/><rect x="250.68" y="365.57" width="1.65" height="1.65"/><rect x="250.68" y="369.68" width="1.65" height="1.65"/><rect x="254.68" y="365.57" width="1.65" height="1.65"/><rect x="254.68" y="369.68" width="1.65" height="1.65"/><rect x="258.68" y="365.57" width="1.65" height="1.65"/><rect x="258.68" y="369.68" width="1.65" height="1.65"/><rect x="262.68" y="365.57" width="1.65" height="1.65"/><rect x="262.68" y="369.68" width="1.65" height="1.65"/><rect x="266.68" y="365.57" width="1.65" height="1.65"/><rect x="266.68" y="369.68" width="1.65" height="1.65"/><rect x="270.68" y="365.57" width="1.65" height="1.65"/><rect x="270.68" y="369.68" width="1.65" height="1.65"/><rect x="277.15" y="364.05" width="1.50" height="1.50"/><rect x="278.65" y="366.65" width="1.50" height="1.50"/><rect x="274.75" y="368.15" width="1.50" height="1.50"/><rect x="277.15" y="369.55" width="1.50" height="1.50"/><rect x="279.95" y="369.55" width="1.50" height="1.50"/><rect x="274.75" y="372.25" width="1.50" height="1.50"/><rect x="285.15" y="364.05" width="1.50" height="1.50"/><rect x="286.65" y="366.65" width="1.50" height="1.50"/><rect x="282.75" y="368.15" width="1.50" height="1.50"/><rect x="285.15" y="369.55" width="1.50" height="1.50"/><rect x="287.95" y="369.55" width="1.50" height="1.50"/><rect x="282.75" y="372.25" width="1.50" height="1.50"/><rect x="293.15" y="364.05" width="1.50" height="1.50"/><rect x="294.65" y="366.65" width="1.50" height="1.50"/><rect x="290.75" y="368.15" width="1.50" height="1.50"/><rect x="293.15" y="369.55" width="1.50" height="1.50"/><rect x="295.95" y="369.55" width="1.50" height="1.50"/><rect x="290.75" y="372.25" width="1.50" height="1.50"/><rect x="170.68" y="374.48" width="1.65" height="1.65"/><rect x="170.68" y="378.58" width="1.65" height="1.65"/><rect x="174.68" y="374.48" width="1.65" height="1.65"/><rect x="174.68" y="378.58" width="1.65" height="1.65"/><rect x="202.68" y="374.48" width="1.65" height="1.65"/><rect x="202.68" y="378.58" width="1.65" height="1.65"/><rect x="206.68" y="374.48" width="1.65" height="1.65"/><rect x="206.68" y="378.58" width="1.65" height="1.65"/><rect x="210.68" y="374.48" width="1.65" height="1.65"/><rect x="210.68" y="378.58" width="1.65" height="1.65"/><rect x="214.68" y="374.48" width="1.65" height="1.65"/><rect x="214.68" y="378.58" width="1.65" height="1.65"/><rect x="218.68" y="374.48" width="1.65" height="1.65"/><rect x="218.68" y="378.58" width="1.65" height="1.65"/><rect x="222.68" y="374.48" width="1.65" height="1.65"/><rect x="222.68" y="378.58" width="1.65" height="1.65"/><rect x="226.68" y="374.48" width="1.65" height="1.65"/><rect x="226.68" y="378.58" width="1.65" height="1.65"/><rect x="234.68" y="374.48" width="1.65" height="1.65"/><rect x="234.68" y="378.58" width="1.65" height="1.65"/><rect x="238.68" y="374.48" width="1.65" height="1.65"/><rect x="238.68" y="378.58" width="1.65" height="1.65"/><rect x="242.68" y="374.48" width="1.65" height="1.65"/><rect x="242.68" y="378.58" width="1.65" height="1.65"/><rect x="246.68" y="374.48" width="1.65" height="1.65"/><rect x="246.68" y="378.58" width="1.65" height="1.65"/><rect x="250.68" y="374.48" width="1.65" height="1.65"/><rect x="250.68" y="378.58" width="1.65" height="1.65"/><rect x="254.68" y="374.48" width="1.65" height="1.65"/><rect x="254.68" y="378.58" width="1.65" height="1.65"/><rect x="258.68" y="374.48" width="1.65" height="1.65"/><rect x="258.68" y="378.58" width="1.65" height="1.65"/><rect x="262.68" y="374.48" width="1.65" height="1.65"/><rect x="262.68" y="378.58" width="1.65" height="1.65"/><rect x="266.68" y="374.48" width="1.65" height="1.65"/><rect x="266.68" y="378.58" width="1.65" height="1.65"/><rect x="270.68" y="374.48" width="1.65" height="1.65"/><rect x="270.68" y="378.58" width="1.65" height="1.65"/><rect x="274.68" y="374.48" width="1.65" height="1.65"/><rect x="274.68" y="378.58" width="1.65" height="1.65"/><rect x="278.68" y="374.48" width="1.65" height="1.65"/><rect x="278.68" y="378.58" width="1.65" height="1.65"/><rect x="285.15" y="372.95" width="1.50" height="1.50"/><rect x="286.65" y="375.55" width="1.50" height="1.50"/><rect x="282.75" y="377.05" width="1.50" height="1.50"/><rect x="285.15" y="378.45" width="1.50" height="1.50"/><rect x="287.95" y="378.45" width="1.50" height="1.50"/><rect x="282.75" y="381.15" width="1.50" height="1.50"/><rect x="293.15" y="372.95" width="1.50" height="1.50"/><rect x="294.65" y="375.55" width="1.50" height="1.50"/><rect x="290.75" y="377.05" width="1.50" height="1.50"/><rect x="293.15" y="378.45" width="1.50" height="1.50"/><rect x="295.95" y="378.45" width="1.50" height="1.50"/><rect x="290.75" y="381.15" width="1.50" height="1.50"/><rect x="170.68" y="383.38" width="1.65" height="1.65"/><rect x="170.68" y="387.48" width="1.65" height="1.65"/><rect x="174.68" y="383.38" width="1.65" height="1.65"/><rect x="174.68" y="387.48" width="1.65" height="1.65"/><rect x="178.68" y="383.38" width="1.65" height="1.65"/><rect x="178.68" y="387.48" width="1.65" height="1.65"/><rect x="182.68" y="383.38" width="1.65" height="1.65"/><rect x="182.68" y="387.48" width="1.65" height="1.65"/><rect x="186.68" y="383.38" width="1.65" height="1.65"/><rect x="186.68" y="387.48" width="1.65" height="1.65"/><rect x="190.68" y="383.38" width="1.65" height="1.65"/><rect x="190.68" y="387.48" width="1.65" height="1.65"/><rect x="194.68" y="383.38" width="1.65" height="1.65"/><rect x="194.68" y="387.48" width="1.65" height="1.65"/><rect x="198.68" y="383.38" width="1.65" height="1.65"/><rect x="198.68" y="387.48" width="1.65" height="1.65"/><rect x="202.68" y="383.38" width="1.65" height="1.65"/><rect x="202.68" y="387.48" width="1.65" height="1.65"/><rect x="206.68" y="383.38" width="1.65" height="1.65"/><rect x="206.68" y="387.48" width="1.65" height="1.65"/><rect x="210.68" y="383.38" width="1.65" height="1.65"/><rect x="210.68" y="387.48" width="1.65" height="1.65"/><rect x="214.68" y="383.38" width="1.65" height="1.65"/><rect x="214.68" y="387.48" width="1.65" height="1.65"/><rect x="218.68" y="383.38" width="1.65" height="1.65"/><rect x="218.68" y="387.48" width="1.65" height="1.65"/><rect x="222.68" y="383.38" width="1.65" height="1.65"/><rect x="222.68" y="387.48" width="1.65" height="1.65"/><rect x="226.68" y="383.38" width="1.65" height="1.65"/><rect x="226.68" y="387.48" width="1.65" height="1.65"/><rect x="234.68" y="383.38" width="1.65" height="1.65"/><rect x="234.68" y="387.48" width="1.65" height="1.65"/><rect x="238.68" y="383.38" width="1.65" height="1.65"/><rect x="238.68" y="387.48" width="1.65" height="1.65"/><rect x="242.68" y="383.38" width="1.65" height="1.65"/><rect x="242.68" y="387.48" width="1.65" height="1.65"/><rect x="246.68" y="383.38" width="1.65" height="1.65"/><rect x="246.68" y="387.48" width="1.65" height="1.65"/><rect x="253.15" y="381.85" width="1.50" height="1.50"/><rect x="254.65" y="384.45" width="1.50" height="1.50"/><rect x="250.75" y="385.95" width="1.50" height="1.50"/><rect x="253.15" y="387.35" width="1.50" height="1.50"/><rect x="255.95" y="387.35" width="1.50" height="1.50"/><rect x="250.75" y="390.05" width="1.50" height="1.50"/><rect x="261.15" y="381.85" width="1.50" height="1.50"/><rect x="262.65" y="384.45" width="1.50" height="1.50"/><rect x="258.75" y="385.95" width="1.50" height="1.50"/><rect x="261.15" y="387.35" width="1.50" height="1.50"/><rect x="263.95" y="387.35" width="1.50" height="1.50"/><rect x="258.75" y="390.05" width="1.50" height="1.50"/><rect x="266.68" y="383.38" width="1.65" height="1.65"/><rect x="266.68" y="387.48" width="1.65" height="1.65"/><rect x="270.68" y="383.38" width="1.65" height="1.65"/><rect x="270.68" y="387.48" width="1.65" height="1.65"/><rect x="274.68" y="383.38" width="1.65" height="1.65"/><rect x="274.68" y="387.48" width="1.65" height="1.65"/><rect x="278.68" y="383.38" width="1.65" height="1.65"/><rect x="278.68" y="387.48" width="1.65" height="1.65"/><rect x="285.15" y="381.85" width="1.50" height="1.50"/><rect x="286.65" y="384.45" width="1.50" height="1.50"/><rect x="282.75" y="385.95" width="1.50" height="1.50"/><rect x="285.15" y="387.35" width="1.50" height="1.50"/><rect x="287.95" y="387.35" width="1.50" height="1.50"/><rect x="282.75" y="390.05" width="1.50" height="1.50"/><rect x="293.15" y="381.85" width="1.50" height="1.50"/><rect x="294.65" y="384.45" width="1.50" height="1.50"/><rect x="290.75" y="385.95" width="1.50" height="1.50"/><rect x="293.15" y="387.35" width="1.50" height="1.50"/><rect x="295.95" y="387.35" width="1.50" height="1.50"/><rect x="290.75" y="390.05" width="1.50" height="1.50"/><rect x="178.68" y="392.28" width="1.65" height="1.65"/><rect x="178.68" y="396.38" width="1.65" height="1.65"/><rect x="182.68" y="392.28" width="1.65" height="1.65"/><rect x="182.68" y="396.38" width="1.65" height="1.65"/><rect x="186.68" y="392.28" width="1.65" height="1.65"/><rect x="186.68" y="396.38" width="1.65" height="1.65"/><rect x="190.68" y="392.28" width="1.65" height="1.65"/><rect x="190.68" y="396.38" width="1.65" height="1.65"/><rect x="194.68" y="392.28" width="1.65" height="1.65"/><rect x="194.68" y="396.38" width="1.65" height="1.65"/><rect x="198.68" y="392.28" width="1.65" height="1.65"/><rect x="198.68" y="396.38" width="1.65" height="1.65"/><rect x="202.68" y="392.28" width="1.65" height="1.65"/><rect x="202.68" y="396.38" width="1.65" height="1.65"/><rect x="206.68" y="392.28" width="1.65" height="1.65"/><rect x="206.68" y="396.38" width="1.65" height="1.65"/><rect x="210.68" y="392.28" width="1.65" height="1.65"/><rect x="210.68" y="396.38" width="1.65" height="1.65"/><rect x="214.68" y="392.28" width="1.65" height="1.65"/><rect x="214.68" y="396.38" width="1.65" height="1.65"/><rect x="218.68" y="392.28" width="1.65" height="1.65"/><rect x="218.68" y="396.38" width="1.65" height="1.65"/><rect x="222.68" y="392.28" width="1.65" height="1.65"/><rect x="222.68" y="396.38" width="1.65" height="1.65"/><rect x="226.68" y="392.28" width="1.65" height="1.65"/><rect x="226.68" y="396.38" width="1.65" height="1.65"/><rect x="234.68" y="392.28" width="1.65" height="1.65"/><rect x="234.68" y="396.38" width="1.65" height="1.65"/><rect x="238.68" y="392.28" width="1.65" height="1.65"/><rect x="238.68" y="396.38" width="1.65" height="1.65"/><rect x="242.68" y="392.28" width="1.65" height="1.65"/><rect x="242.68" y="396.38" width="1.65" height="1.65"/><rect x="246.68" y="392.28" width="1.65" height="1.65"/><rect x="246.68" y="396.38" width="1.65" height="1.65"/><rect x="253.15" y="390.75" width="1.50" height="1.50"/><rect x="254.65" y="393.35" width="1.50" height="1.50"/><rect x="250.75" y="394.85" width="1.50" height="1.50"/><rect x="253.15" y="396.25" width="1.50" height="1.50"/><rect x="255.95" y="396.25" width="1.50" height="1.50"/><rect x="250.75" y="398.95" width="1.50" height="1.50"/><rect x="261.15" y="390.75" width="1.50" height="1.50"/><rect x="262.65" y="393.35" width="1.50" height="1.50"/><rect x="258.75" y="394.85" width="1.50" height="1.50"/><rect x="261.15" y="396.25" width="1.50" height="1.50"/><rect x="263.95" y="396.25" width="1.50" height="1.50"/><rect x="258.75" y="398.95" width="1.50" height="1.50"/><rect x="266.68" y="392.28" width="1.65" height="1.65"/><rect x="266.68" y="396.38" width="1.65" height="1.65"/><rect x="270.68" y="392.28" width="1.65" height="1.65"/><rect x="270.68" y="396.38" width="1.65" height="1.65"/><rect x="274.68" y="392.28" width="1.65" height="1.65"/><rect x="274.68" y="396.38" width="1.65" height="1.65"/><rect x="278.68" y="392.28" width="1.65" height="1.65"/><rect x="278.68" y="396.38" width="1.65" height="1.65"/><rect x="285.15" y="390.75" width="1.50" height="1.50"/><rect x="286.65" y="393.35" width="1.50" height="1.50"/><rect x="282.75" y="394.85" width="1.50" height="1.50"/><rect x="285.15" y="396.25" width="1.50" height="1.50"/><rect x="287.95" y="396.25" width="1.50" height="1.50"/><rect x="282.75" y="398.95" width="1.50" height="1.50"/><rect x="178.68" y="401.18" width="1.65" height="1.65"/><rect x="178.68" y="405.28" width="1.65" height="1.65"/><rect x="182.68" y="401.18" width="1.65" height="1.65"/><rect x="182.68" y="405.28" width="1.65" height="1.65"/><rect x="186.68" y="401.18" width="1.65" height="1.65"/><rect x="186.68" y="405.28" width="1.65" height="1.65"/><rect x="190.68" y="401.18" width="1.65" height="1.65"/><rect x="190.68" y="405.28" width="1.65" height="1.65"/><rect x="194.68" y="401.18" width="1.65" height="1.65"/><rect x="194.68" y="405.28" width="1.65" height="1.65"/><rect x="198.68" y="401.18" width="1.65" height="1.65"/><rect x="198.68" y="405.28" width="1.65" height="1.65"/><rect x="202.68" y="401.18" width="1.65" height="1.65"/><rect x="202.68" y="405.28" width="1.65" height="1.65"/><rect x="206.68" y="401.18" width="1.65" height="1.65"/><rect x="206.68" y="405.28" width="1.65" height="1.65"/><rect x="210.68" y="401.18" width="1.65" height="1.65"/><rect x="210.68" y="405.28" width="1.65" height="1.65"/><rect x="214.68" y="401.18" width="1.65" height="1.65"/><rect x="214.68" y="405.28" width="1.65" height="1.65"/><rect x="218.68" y="401.18" width="1.65" height="1.65"/><rect x="218.68" y="405.28" width="1.65" height="1.65"/><rect x="222.68" y="401.18" width="1.65" height="1.65"/><rect x="222.68" y="405.28" width="1.65" height="1.65"/><rect x="226.68" y="401.18" width="1.65" height="1.65"/><rect x="226.68" y="405.28" width="1.65" height="1.65"/><rect x="234.68" y="401.18" width="1.65" height="1.65"/><rect x="234.68" y="405.28" width="1.65" height="1.65"/><rect x="238.68" y="401.18" width="1.65" height="1.65"/><rect x="238.68" y="405.28" width="1.65" height="1.65"/><rect x="242.68" y="401.18" width="1.65" height="1.65"/><rect x="242.68" y="405.28" width="1.65" height="1.65"/><rect x="246.68" y="401.18" width="1.65" height="1.65"/><rect x="246.68" y="405.28" width="1.65" height="1.65"/><rect x="250.68" y="401.18" width="1.65" height="1.65"/><rect x="250.68" y="405.28" width="1.65" height="1.65"/><rect x="254.68" y="401.18" width="1.65" height="1.65"/><rect x="254.68" y="405.28" width="1.65" height="1.65"/><rect x="258.68" y="401.18" width="1.65" height="1.65"/><rect x="258.68" y="405.28" width="1.65" height="1.65"/><rect x="262.68" y="401.18" width="1.65" height="1.65"/><rect x="262.68" y="405.28" width="1.65" height="1.65"/><rect x="266.68" y="401.18" width="1.65" height="1.65"/><rect x="266.68" y="405.28" width="1.65" height="1.65"/><rect x="270.68" y="401.18" width="1.65" height="1.65"/><rect x="270.68" y="405.28" width="1.65" height="1.65"/><rect x="274.68" y="401.18" width="1.65" height="1.65"/><rect x="274.68" y="405.28" width="1.65" height="1.65"/><rect x="278.68" y="401.18" width="1.65" height="1.65"/><rect x="278.68" y="405.28" width="1.65" height="1.65"/><rect x="186.68" y="410.07" width="1.65" height="1.65"/><rect x="186.68" y="414.18" width="1.65" height="1.65"/><rect x="190.68" y="410.07" width="1.65" height="1.65"/><rect x="190.68" y="414.18" width="1.65" height="1.65"/><rect x="194.68" y="410.07" width="1.65" height="1.65"/><rect x="194.68" y="414.18" width="1.65" height="1.65"/><rect x="198.68" y="410.07" width="1.65" height="1.65"/><rect x="198.68" y="414.18" width="1.65" height="1.65"/><rect x="202.68" y="410.07" width="1.65" height="1.65"/><rect x="202.68" y="414.18" width="1.65" height="1.65"/><rect x="206.68" y="410.07" width="1.65" height="1.65"/><rect x="206.68" y="414.18" width="1.65" height="1.65"/><rect x="210.68" y="410.07" width="1.65" height="1.65"/><rect x="210.68" y="414.18" width="1.65" height="1.65"/><rect x="214.68" y="410.07" width="1.65" height="1.65"/><rect x="214.68" y="414.18" width="1.65" height="1.65"/><rect x="218.68" y="410.07" width="1.65" height="1.65"/><rect x="218.68" y="414.18" width="1.65" height="1.65"/><rect x="222.68" y="410.07" width="1.65" height="1.65"/><rect x="222.68" y="414.18" width="1.65" height="1.65"/><rect x="226.68" y="410.07" width="1.65" height="1.65"/><rect x="226.68" y="414.18" width="1.65" height="1.65"/><rect x="234.68" y="410.07" width="1.65" height="1.65"/><rect x="234.68" y="414.18" width="1.65" height="1.65"/><rect x="238.68" y="410.07" width="1.65" height="1.65"/><rect x="238.68" y="414.18" width="1.65" height="1.65"/><rect x="242.68" y="410.07" width="1.65" height="1.65"/><rect x="242.68" y="414.18" width="1.65" height="1.65"/><rect x="246.68" y="410.07" width="1.65" height="1.65"/><rect x="246.68" y="414.18" width="1.65" height="1.65"/><rect x="250.68" y="410.07" width="1.65" height="1.65"/><rect x="250.68" y="414.18" width="1.65" height="1.65"/><rect x="254.68" y="410.07" width="1.65" height="1.65"/><rect x="254.68" y="414.18" width="1.65" height="1.65"/><rect x="258.68" y="410.07" width="1.65" height="1.65"/><rect x="258.68" y="414.18" width="1.65" height="1.65"/><rect x="262.68" y="410.07" width="1.65" height="1.65"/><rect x="262.68" y="414.18" width="1.65" height="1.65"/><rect x="269.15" y="408.55" width="1.50" height="1.50"/><rect x="270.65" y="411.15" width="1.50" height="1.50"/><rect x="266.75" y="412.65" width="1.50" height="1.50"/><rect x="269.15" y="414.05" width="1.50" height="1.50"/><rect x="271.95" y="414.05" width="1.50" height="1.50"/><rect x="266.75" y="416.75" width="1.50" height="1.50"/><rect x="202.68" y="418.98" width="1.65" height="1.65"/><rect x="202.68" y="423.08" width="1.65" height="1.65"/><rect x="206.68" y="418.98" width="1.65" height="1.65"/><rect x="206.68" y="423.08" width="1.65" height="1.65"/><rect x="210.68" y="418.98" width="1.65" height="1.65"/><rect x="210.68" y="423.08" width="1.65" height="1.65"/><rect x="214.68" y="418.98" width="1.65" height="1.65"/><rect x="214.68" y="423.08" width="1.65" height="1.65"/><rect x="218.68" y="418.98" width="1.65" height="1.65"/><rect x="218.68" y="423.08" width="1.65" height="1.65"/><rect x="222.68" y="418.98" width="1.65" height="1.65"/><rect x="222.68" y="423.08" width="1.65" height="1.65"/><rect x="226.68" y="418.98" width="1.65" height="1.65"/><rect x="226.68" y="423.08" width="1.65" height="1.65"/><rect x="234.68" y="418.98" width="1.65" height="1.65"/><rect x="234.68" y="423.08" width="1.65" height="1.65"/><rect x="238.68" y="418.98" width="1.65" height="1.65"/><rect x="238.68" y="423.08" width="1.65" height="1.65"/><rect x="242.68" y="418.98" width="1.65" height="1.65"/><rect x="242.68" y="423.08" width="1.65" height="1.65"/><rect x="246.68" y="418.98" width="1.65" height="1.65"/><rect x="246.68" y="423.08" width="1.65" height="1.65"/><rect x="253.15" y="417.45" width="1.50" height="1.50"/><rect x="254.65" y="420.05" width="1.50" height="1.50"/><rect x="250.75" y="421.55" width="1.50" height="1.50"/><rect x="253.15" y="422.95" width="1.50" height="1.50"/><rect x="255.95" y="422.95" width="1.50" height="1.50"/><rect x="250.75" y="425.65" width="1.50" height="1.50"/></g><use href="#gH" x="221.00" y="297.25"/><g clip-path="url(#clipL)"><use href="#gH" x="225.80" y="297.25"/></g><use href="#gH" x="221.00" y="306.15"/><g clip-path="url(#clipL)"><use href="#gH" x="225.80" y="306.15"/></g><use href="#gH" x="269.00" y="306.15"/><use href="#gH" x="269.00" y="315.05"/><use href="#gH" x="277.00" y="315.05"/><use href="#gH" x="269.00" y="323.95"/><use href="#gH" x="277.00" y="323.95"/><use href="#gH" x="285.00" y="323.95"/><use href="#gH" x="269.00" y="332.85"/><use href="#gH" x="277.00" y="332.85"/><use href="#gH" x="285.00" y="332.85"/><rect x="287.10" y="328.20" width="9.9" height="9.3" fill="url(#pX)"/><use href="#gH" x="197.00" y="341.75"/><use href="#gH" x="205.00" y="341.75"/><use href="#gH" x="213.00" y="341.75"/><use href="#gH" x="269.00" y="341.75"/><use href="#gH" x="277.00" y="341.75"/><use href="#gH" x="285.00" y="341.75"/><rect x="287.10" y="337.10" width="9.9" height="9.3" fill="url(#pX)"/><use href="#gS" x="300.80" y="341.75"/><use href="#gH" x="189.00" y="350.65"/><rect x="191.10" y="346.00" width="9.9" height="9.3" fill="url(#pX)"/><use href="#gS" x="204.80" y="350.65"/><rect x="207.10" y="346.00" width="9.9" height="9.3" fill="url(#pX)"/><use href="#gH" x="253.00" y="350.65"/><use href="#gH" x="285.00" y="350.65"/><use href="#gH" x="293.00" y="350.65"/><rect x="295.10" y="346.00" width="9.9" height="9.3" fill="url(#pX)"/><rect x="175.10" y="363.80" width="9.9" height="9.3" fill="url(#pX)"/><rect x="191.10" y="363.80" width="9.9" height="9.3" fill="url(#pX)"/><use href="#gH" x="301.00" y="368.45"/><use href="#gH" x="181.00" y="377.35"/><rect x="183.10" y="372.70" width="9.9" height="9.3" fill="url(#pX)"/><use href="#gH" x="197.00" y="377.35"/><use href="#gH" x="301.00" y="377.35"/><rect x="184.30" y="363.20" width="8.6" height="10.4" fill="#000"/>
<rect x="362.35" y="295.70" width="1.7" height="1.7" fill="#111"/><rect x="378.25" y="295.70" width="1.7" height="1.7" fill="#111"/><rect x="394.15" y="295.70" width="1.7" height="1.7" fill="#111"/><rect x="410.05" y="295.70" width="1.7" height="1.7" fill="#111"/><rect x="346.45" y="313.55" width="1.7" height="1.7" fill="#111"/><rect x="362.35" y="313.55" width="1.7" height="1.7" fill="#111"/><use href="#sh" x="379.80" y="314.80"/><use href="#sh" x="395.70" y="314.80"/><rect x="410.05" y="313.55" width="1.7" height="1.7" fill="#111"/><use href="#sh" x="427.50" y="314.80"/><rect x="330.55" y="331.40" width="1.7" height="1.7" fill="#111"/><rect x="346.45" y="331.40" width="1.7" height="1.7" fill="#111"/><rect x="362.35" y="331.40" width="1.7" height="1.7" fill="#111"/><rect x="378.25" y="331.40" width="1.7" height="1.7" fill="#111"/><use href="#sx" x="395.70" y="332.65"/><rect x="410.05" y="331.40" width="1.7" height="1.7" fill="#111"/><rect x="423.50" y="327.45" width="8" height="10.4" rx="0.6" fill="#000"/><rect x="439.40" y="327.45" width="8" height="10.4" rx="0.6" fill="#000"/><rect x="330.55" y="349.25" width="1.7" height="1.7" fill="#111"/><rect x="359.90" y="345.30" width="8" height="10.4" rx="0.6" fill="#000"/><rect x="377.15" y="347.90" width="1.5" height="1.5" fill="#111"/><rect x="377.15" y="351.60" width="1.5" height="1.5" fill="#111"/><rect x="380.95" y="347.90" width="1.5" height="1.5" fill="#111"/><rect x="380.95" y="351.60" width="1.5" height="1.5" fill="#111"/><rect x="391.70" y="345.30" width="8" height="10.4" rx="0.6" fill="#000"/><rect x="407.60" y="345.30" width="8" height="10.4" rx="0.6" fill="#000"/><use href="#sh" x="427.50" y="350.50"/><use href="#sh" x="443.40" y="350.50"/><use href="#sx" x="459.30" y="350.50"/><rect x="330.55" y="367.10" width="1.7" height="1.7" fill="#111"/><rect x="362.35" y="367.10" width="1.7" height="1.7" fill="#111"/><rect x="378.25" y="367.10" width="1.7" height="1.7" fill="#111"/><rect x="394.15" y="367.10" width="1.7" height="1.7" fill="#111"/><rect x="410.05" y="367.10" width="1.7" height="1.7" fill="#111"/><rect x="425.95" y="367.10" width="1.7" height="1.7" fill="#111"/><rect x="441.85" y="367.10" width="1.7" height="1.7" fill="#111"/><rect x="457.75" y="367.10" width="1.7" height="1.7" fill="#111"/><rect x="330.55" y="384.95" width="1.7" height="1.7" fill="#111"/><rect x="346.45" y="384.95" width="1.7" height="1.7" fill="#111"/><rect x="362.35" y="384.95" width="1.7" height="1.7" fill="#111"/><rect x="378.25" y="384.95" width="1.7" height="1.7" fill="#111"/><rect x="394.15" y="384.95" width="1.7" height="1.7" fill="#111"/><use href="#sx" x="411.60" y="386.20"/><rect x="425.95" y="384.95" width="1.7" height="1.7" fill="#111"/><rect x="441.85" y="384.95" width="1.7" height="1.7" fill="#111"/><rect x="346.45" y="402.80" width="1.7" height="1.7" fill="#111"/><rect x="362.35" y="402.80" width="1.7" height="1.7" fill="#111"/><rect x="378.25" y="402.80" width="1.7" height="1.7" fill="#111"/><rect x="394.15" y="402.80" width="1.7" height="1.7" fill="#111"/><rect x="410.05" y="402.80" width="1.7" height="1.7" fill="#111"/><rect x="425.95" y="402.80" width="1.7" height="1.7" fill="#111"/><rect x="362.35" y="420.65" width="1.7" height="1.7" fill="#111"/><rect x="378.25" y="420.65" width="1.7" height="1.7" fill="#111"/><rect x="394.15" y="420.65" width="1.7" height="1.7" fill="#111"/><rect x="410.05" y="420.65" width="1.7" height="1.7" fill="#111"/>
<g font-size="8.4" fill="#111" stroke="#111" stroke-width="0.3" letter-spacing="0.15"><text x="526.80" y="301.25" text-anchor="end">2</text><text x="542.70" y="301.25" text-anchor="end">-1</text><text x="558.60" y="301.25" text-anchor="end">-1</text><text x="574.50" y="301.25" text-anchor="end">1</text><text x="510.90" y="319.10" text-anchor="end">0</text><text x="526.80" y="319.10" text-anchor="end">2</text><text x="542.70" y="319.10" text-anchor="end">-2</text><text x="558.60" y="319.10" text-anchor="end">-2</text><text x="574.50" y="319.10" text-anchor="end">-1</text><text x="590.40" y="319.10" text-anchor="end">-6</text><text x="495.00" y="336.95" text-anchor="end">4</text><text x="510.90" y="336.95" text-anchor="end">-1</text><text x="526.80" y="336.95" text-anchor="end">1</text><text x="542.70" y="336.95" text-anchor="end">-1</text><text x="558.60" y="336.95" text-anchor="end">-3</text><text x="574.50" y="336.95" text-anchor="end">1</text><text x="590.40" y="336.95" text-anchor="end">-8</text><text x="606.30" y="336.95" text-anchor="end">-6</text><text x="495.00" y="354.80" text-anchor="end">2</text><text x="518.10" y="354.80">-18</text><text x="542.70" y="354.80" text-anchor="end">-3</text><text x="558.60" y="354.80" text-anchor="end">-3</text><text x="574.50" y="354.80" text-anchor="end">-5</text><text x="590.40" y="354.80" text-anchor="end">-2</text><text x="606.30" y="354.80" text-anchor="end">1</text><text x="622.20" y="354.80" text-anchor="end">-1</text><text x="495.00" y="372.65" text-anchor="end">0</text><text x="526.80" y="372.65" text-anchor="end">-1</text><text x="542.70" y="372.65" text-anchor="end">0</text><text x="558.60" y="372.65" text-anchor="end">-1</text><text x="574.50" y="372.65" text-anchor="end">0</text><text x="590.40" y="372.65" text-anchor="end">1</text><text x="606.30" y="372.65" text-anchor="end">-1</text><text x="622.20" y="372.65" text-anchor="end">12</text><text x="495.00" y="390.50" text-anchor="end">2</text><text x="510.90" y="390.50" text-anchor="end">1</text><text x="526.80" y="390.50" text-anchor="end">1</text><text x="542.70" y="390.50" text-anchor="end">1</text><text x="558.60" y="390.50" text-anchor="end">2</text><text x="574.50" y="390.50" text-anchor="end">-2</text><text x="590.40" y="390.50" text-anchor="end">0</text><text x="606.30" y="390.50" text-anchor="end">0</text><text x="510.90" y="408.35" text-anchor="end">1</text><text x="526.80" y="408.35" text-anchor="end">-1</text><text x="542.70" y="408.35" text-anchor="end">3</text><text x="558.60" y="408.35" text-anchor="end">1</text><text x="574.50" y="408.35" text-anchor="end">1</text><text x="590.40" y="408.35" text-anchor="end">0</text><text x="526.80" y="426.20" text-anchor="end">0</text><text x="542.70" y="426.20" text-anchor="end">1</text><text x="558.60" y="426.20" text-anchor="end">2</text><text x="574.50" y="426.20" text-anchor="end">0</text></g>
<rect x="679.55" y="295.70" width="1.7" height="1.7" fill="#111"/><rect x="695.45" y="295.70" width="1.7" height="1.7" fill="#111"/><rect x="711.35" y="295.70" width="1.7" height="1.7" fill="#111"/><rect x="727.25" y="295.70" width="1.7" height="1.7" fill="#111"/><rect x="663.65" y="313.55" width="1.7" height="1.7" fill="#111"/><rect x="679.55" y="313.55" width="1.7" height="1.7" fill="#111"/><rect x="695.45" y="313.55" width="1.7" height="1.7" fill="#111"/><rect x="711.35" y="313.55" width="1.7" height="1.7" fill="#111"/><rect x="727.25" y="313.55" width="1.7" height="1.7" fill="#111"/><use href="#tA" x="744.30" y="314.80"/><rect x="647.75" y="331.40" width="1.7" height="1.7" fill="#111"/><rect x="663.65" y="331.40" width="1.7" height="1.7" fill="#111"/><rect x="679.55" y="331.40" width="1.7" height="1.7" fill="#111"/><rect x="695.45" y="331.40" width="1.7" height="1.7" fill="#111"/><use href="#tt" x="711.40" y="332.65"/><rect x="727.25" y="331.40" width="1.7" height="1.7" fill="#111"/><use href="#tA" x="744.30" y="332.65"/><use href="#tA" x="760.20" y="332.65"/><rect x="647.75" y="349.25" width="1.7" height="1.7" fill="#111"/><use href="#tA" x="680.70" y="350.50"/><use href="#tt" x="695.50" y="350.50"/><use href="#tt" x="711.40" y="350.50"/><use href="#tt" x="727.30" y="350.50"/><rect x="743.15" y="349.25" width="1.7" height="1.7" fill="#111"/><rect x="759.05" y="349.25" width="1.7" height="1.7" fill="#111"/><rect x="774.95" y="349.25" width="1.7" height="1.7" fill="#111"/><rect x="647.75" y="367.10" width="1.7" height="1.7" fill="#111"/><rect x="679.55" y="367.10" width="1.7" height="1.7" fill="#111"/><rect x="695.45" y="367.10" width="1.7" height="1.7" fill="#111"/><rect x="711.35" y="367.10" width="1.7" height="1.7" fill="#111"/><rect x="727.25" y="367.10" width="1.7" height="1.7" fill="#111"/><rect x="743.15" y="367.10" width="1.7" height="1.7" fill="#111"/><rect x="759.05" y="367.10" width="1.7" height="1.7" fill="#111"/><text x="772.90" y="373.65" font-size="10.6" textLength="5.9" lengthAdjust="spacingAndGlyphs" fill="#111" stroke="#111" stroke-width="0.45">X</text><rect x="647.75" y="384.95" width="1.7" height="1.7" fill="#111"/><rect x="663.65" y="384.95" width="1.7" height="1.7" fill="#111"/><rect x="679.55" y="384.95" width="1.7" height="1.7" fill="#111"/><rect x="695.45" y="384.95" width="1.7" height="1.7" fill="#111"/><rect x="711.35" y="384.95" width="1.7" height="1.7" fill="#111"/><rect x="727.25" y="384.95" width="1.7" height="1.7" fill="#111"/><rect x="743.15" y="384.95" width="1.7" height="1.7" fill="#111"/><rect x="759.05" y="384.95" width="1.7" height="1.7" fill="#111"/><rect x="663.65" y="402.80" width="1.7" height="1.7" fill="#111"/><rect x="679.55" y="402.80" width="1.7" height="1.7" fill="#111"/><rect x="695.45" y="402.80" width="1.7" height="1.7" fill="#111"/><rect x="711.35" y="402.80" width="1.7" height="1.7" fill="#111"/><rect x="727.25" y="402.80" width="1.7" height="1.7" fill="#111"/><rect x="743.15" y="402.80" width="1.7" height="1.7" fill="#111"/><rect x="679.55" y="420.65" width="1.7" height="1.7" fill="#111"/><rect x="695.45" y="420.65" width="1.7" height="1.7" fill="#111"/><rect x="711.35" y="420.65" width="1.7" height="1.7" fill="#111"/><rect x="727.25" y="420.65" width="1.7" height="1.7" fill="#111"/>
<rect x="150.2" y="358.95" width="634.3" height="1.9" fill="#000"/><rect x="230.35" y="264.90" width="1.3" height="188.80" fill="#262626"/><rect x="389.05" y="264.90" width="1.3" height="188.80" fill="#262626"/><rect x="547.25" y="264.90" width="1.3" height="188.80" fill="#262626"/><rect x="706.25" y="264.90" width="1.3" height="188.80" fill="#262626"/>
<g fill="#111" stroke="#111" stroke-width="0.32"><text transform="translate(150.60,266.50) scale(1.080,1)" font-size="10.4" textLength="59.8" lengthAdjust="spacing">07-25-2005</text><text x="221.80" y="266.50" font-size="10.4" textLength="73.8" lengthAdjust="spacingAndGlyphs">SITA-Standard</text><text x="320.50" y="266.50" font-size="10.4" textLength="130.5" lengthAdjust="spacingAndGlyphs">GHT: Outside normal limits</text><text x="150.60" y="462.10" font-size="10.4" textLength="56.4" lengthAdjust="spacingAndGlyphs">Fovea: OFF</text><text x="150.60" y="480.20" font-size="10.4" textLength="17.5" lengthAdjust="spacingAndGlyphs">VFI:</text><text x="176.40" y="480.20" font-size="10.4" textLength="20.8" lengthAdjust="spacingAndGlyphs">89%</text><text x="308.20" y="462.10" font-size="10.4" textLength="18.3" lengthAdjust="spacingAndGlyphs">MD:</text><text transform="translate(333.00,462.10) scale(1.070,1)" font-size="10.4" textLength="26.4" lengthAdjust="spacing">-5.66</text><text x="364.80" y="462.10" font-size="10.4" textLength="12.7" lengthAdjust="spacingAndGlyphs">dB</text><text x="383.20" y="462.10" font-size="10.4" textLength="41.5" lengthAdjust="spacingAndGlyphs">P &lt; 0.5%</text><text x="308.20" y="480.20" font-size="10.4" textLength="23.4" lengthAdjust="spacingAndGlyphs">PSD:</text><text x="340.40" y="480.20" font-size="10.4" textLength="20.8" lengthAdjust="spacingAndGlyphs">4.38</text><text x="364.80" y="480.20" font-size="10.4" textLength="12.7" lengthAdjust="spacingAndGlyphs">dB</text><text x="383.20" y="480.20" font-size="10.4" textLength="41.5" lengthAdjust="spacingAndGlyphs">P &lt; 0.5%</text><text transform="translate(467.70,462.10) scale(1.060,1)" font-size="10.4" textLength="42.5" lengthAdjust="spacing">FL: 0/15</text><text x="578.60" y="462.10" font-size="10.4" textLength="16.0" lengthAdjust="spacingAndGlyphs">FN:</text><text x="603.60" y="462.10" font-size="10.4" textLength="16.3" lengthAdjust="spacingAndGlyphs">4 %</text><text x="685.80" y="462.10" font-size="10.4" textLength="15.4" lengthAdjust="spacingAndGlyphs">FP:</text><text x="711.30" y="462.10" font-size="10.4" textLength="15.7" lengthAdjust="spacingAndGlyphs">3 %</text><text x="578.60" y="480.20" font-size="10.4" textLength="104.0" lengthAdjust="spacingAndGlyphs">Possible Progression</text></g>
</g>
<g id="panel3">
<g fill="#000"><rect x="226.68" y="552.58" width="1.65" height="1.65"/><rect x="226.68" y="556.68" width="1.65" height="1.65"/><rect x="237.15" y="551.05" width="1.50" height="1.50"/><rect x="238.65" y="553.65" width="1.50" height="1.50"/><rect x="234.75" y="555.15" width="1.50" height="1.50"/><rect x="237.15" y="556.55" width="1.50" height="1.50"/><rect x="239.95" y="556.55" width="1.50" height="1.50"/><rect x="234.75" y="559.25" width="1.50" height="1.50"/><rect x="245.15" y="551.05" width="1.50" height="1.50"/><rect x="246.65" y="553.65" width="1.50" height="1.50"/><rect x="242.75" y="555.15" width="1.50" height="1.50"/><rect x="245.15" y="556.55" width="1.50" height="1.50"/><rect x="247.95" y="556.55" width="1.50" height="1.50"/><rect x="242.75" y="559.25" width="1.50" height="1.50"/><rect x="253.15" y="551.05" width="1.50" height="1.50"/><rect x="254.65" y="553.65" width="1.50" height="1.50"/><rect x="250.75" y="555.15" width="1.50" height="1.50"/><rect x="253.15" y="556.55" width="1.50" height="1.50"/><rect x="255.95" y="556.55" width="1.50" height="1.50"/><rect x="250.75" y="559.25" width="1.50" height="1.50"/><rect x="226.68" y="561.48" width="1.65" height="1.65"/><rect x="226.68" y="565.58" width="1.65" height="1.65"/><rect x="237.15" y="559.95" width="1.50" height="1.50"/><rect x="238.65" y="562.55" width="1.50" height="1.50"/><rect x="234.75" y="564.05" width="1.50" height="1.50"/><rect x="237.15" y="565.45" width="1.50" height="1.50"/><rect x="239.95" y="565.45" width="1.50" height="1.50"/><rect x="234.75" y="568.15" width="1.50" height="1.50"/><rect x="245.15" y="559.95" width="1.50" height="1.50"/><rect x="246.65" y="562.55" width="1.50" height="1.50"/><rect x="242.75" y="564.05" width="1.50" height="1.50"/><rect x="245.15" y="565.45" width="1.50" height="1.50"/><rect x="247.95" y="565.45" width="1.50" height="1.50"/><rect x="242.75" y="568.15" width="1.50" height="1.50"/><rect x="253.15" y="559.95" width="1.50" height="1.50"/><rect x="254.65" y="562.55" width="1.50" height="1.50"/><rect x="250.75" y="564.05" width="1.50" height="1.50"/><rect x="253.15" y="565.45" width="1.50" height="1.50"/><rect x="255.95" y="565.45" width="1.50" height="1.50"/><rect x="250.75" y="568.15" width="1.50" height="1.50"/><rect x="181.15" y="568.85" width="1.50" height="1.50"/><rect x="182.65" y="571.45" width="1.50" height="1.50"/><rect x="178.75" y="572.95" width="1.50" height="1.50"/><rect x="181.15" y="574.35" width="1.50" height="1.50"/><rect x="183.95" y="574.35" width="1.50" height="1.50"/><rect x="178.75" y="577.05" width="1.50" height="1.50"/><rect x="189.15" y="568.85" width="1.50" height="1.50"/><rect x="190.65" y="571.45" width="1.50" height="1.50"/><rect x="186.75" y="572.95" width="1.50" height="1.50"/><rect x="189.15" y="574.35" width="1.50" height="1.50"/><rect x="191.95" y="574.35" width="1.50" height="1.50"/><rect x="186.75" y="577.05" width="1.50" height="1.50"/><rect x="197.15" y="568.85" width="1.50" height="1.50"/><rect x="198.65" y="571.45" width="1.50" height="1.50"/><rect x="194.75" y="572.95" width="1.50" height="1.50"/><rect x="197.15" y="574.35" width="1.50" height="1.50"/><rect x="199.95" y="574.35" width="1.50" height="1.50"/><rect x="194.75" y="577.05" width="1.50" height="1.50"/><rect x="205.15" y="568.85" width="1.50" height="1.50"/><rect x="206.65" y="571.45" width="1.50" height="1.50"/><rect x="202.75" y="572.95" width="1.50" height="1.50"/><rect x="205.15" y="574.35" width="1.50" height="1.50"/><rect x="207.95" y="574.35" width="1.50" height="1.50"/><rect x="202.75" y="577.05" width="1.50" height="1.50"/><rect x="213.15" y="568.85" width="1.50" height="1.50"/><rect x="214.65" y="571.45" width="1.50" height="1.50"/><rect x="210.75" y="572.95" width="1.50" height="1.50"/><rect x="213.15" y="574.35" width="1.50" height="1.50"/><rect x="215.95" y="574.35" width="1.50" height="1.50"/><rect x="210.75" y="577.05" width="1.50" height="1.50"/><rect x="221.15" y="568.85" width="1.50" height="1.50"/><rect x="222.65" y="571.45" width="1.50" height="1.50"/><rect x="218.75" y="572.95" width="1.50" height="1.50"/><rect x="221.15" y="574.35" width="1.50" height="1.50"/><rect x="223.95" y="574.35" width="1.50" height="1.50"/><rect x="218.75" y="577.05" width="1.50" height="1.50"/><rect x="226.75" y="572.95" width="1.50" height="1.50"/><rect x="226.75" y="577.05" width="1.50" height="1.50"/><rect x="237.15" y="568.85" width="1.50" height="1.50"/><rect x="238.65" y="571.45" width="1.50" height="1.50"/><rect x="234.75" y="572.95" width="1.50" height="1.50"/><rect x="237.15" y="574.35" width="1.50" height="1.50"/><rect x="239.95" y="574.35" width="1.50" height="1.50"/><rect x="234.75" y="577.05" width="1.50" height="1.50"/><rect x="245.15" y="568.85" width="1.50" height="1.50"/><rect x="246.65" y="571.45" width="1.50" height="1.50"/><rect x="242.75" y="572.95" width="1.50" height="1.50"/><rect x="245.15" y="574.35" width="1.50" height="1.50"/><rect x="247.95" y="574.35" width="1.50" height="1.50"/><rect x="242.75" y="577.05" width="1.50" height="1.50"/><rect x="253.15" y="568.85" width="1.50" height="1.50"/><rect x="254.65" y="571.45" width="1.50" height="1.50"/><rect x="250.75" y="572.95" width="1.50" height="1.50"/><rect x="253.15" y="574.35" width="1.50" height="1.50"/><rect x="255.95" y="574.35" width="1.50" height="1.50"/><rect x="250.75" y="577.05" width="1.50" height="1.50"/><rect x="261.15" y="568.85" width="1.50" height="1.50"/><rect x="262.65" y="571.45" width="1.50" height="1.50"/><rect x="258.75" y="572.95" width="1.50" height="1.50"/><rect x="261.15" y="574.35" width="1.50" height="1.50"/><rect x="263.95" y="574.35" width="1.50" height="1.50"/><rect x="258.75" y="577.05" width="1.50" height="1.50"/><rect x="181.15" y="577.75" width="1.50" height="1.50"/><rect x="182.65" y="580.35" width="1.50" height="1.50"/><rect x="178.75" y="581.85" width="1.50" height="1.50"/><rect x="181.15" y="583.25" width="1.50" height="1.50"/><rect x="183.95" y="583.25" width="1.50" height="1.50"/><rect x="178.75" y="585.95" width="1.50" height="1.50"/><rect x="189.15" y="577.75" width="1.50" height="1.50"/><rect x="190.65" y="580.35" width="1.50" height="1.50"/><rect x="186.75" y="581.85" width="1.50" height="1.50"/><rect x="189.15" y="583.25" width="1.50" height="1.50"/><rect x="191.95" y="583.25" width="1.50" height="1.50"/><rect x="186.75" y="585.95" width="1.50" height="1.50"/><rect x="197.15" y="577.75" width="1.50" height="1.50"/><rect x="198.65" y="580.35" width="1.50" height="1.50"/><rect x="194.75" y="581.85" width="1.50" height="1.50"/><rect x="197.15" y="583.25" width="1.50" height="1.50"/><rect x="199.95" y="583.25" width="1.50" height="1.50"/><rect x="194.75" y="585.95" width="1.50" height="1.50"/><rect x="205.15" y="577.75" width="1.50" height="1.50"/><rect x="206.65" y="580.35" width="1.50" height="1.50"/><rect x="202.75" y="581.85" width="1.50" height="1.50"/><rect x="205.15" y="583.25" width="1.50" height="1.50"/><rect x="207.95" y="583.25" width="1.50" height="1.50"/><rect x="202.75" y="585.95" width="1.50" height="1.50"/><rect x="213.15" y="577.75" width="1.50" height="1.50"/><rect x="214.65" y="580.35" width="1.50" height="1.50"/><rect x="210.75" y="581.85" width="1.50" height="1.50"/><rect x="213.15" y="583.25" width="1.50" height="1.50"/><rect x="215.95" y="583.25" width="1.50" height="1.50"/><rect x="210.75" y="585.95" width="1.50" height="1.50"/><rect x="221.15" y="577.75" width="1.50" height="1.50"/><rect x="222.65" y="580.35" width="1.50" height="1.50"/><rect x="218.75" y="581.85" width="1.50" height="1.50"/><rect x="221.15" y="583.25" width="1.50" height="1.50"/><rect x="223.95" y="583.25" width="1.50" height="1.50"/><rect x="218.75" y="585.95" width="1.50" height="1.50"/><rect x="226.75" y="581.85" width="1.50" height="1.50"/><rect x="226.75" y="585.95" width="1.50" height="1.50"/><rect x="245.15" y="577.75" width="1.50" height="1.50"/><rect x="246.65" y="580.35" width="1.50" height="1.50"/><rect x="242.75" y="581.85" width="1.50" height="1.50"/><rect x="245.15" y="583.25" width="1.50" height="1.50"/><rect x="247.95" y="583.25" width="1.50" height="1.50"/><rect x="242.75" y="585.95" width="1.50" height="1.50"/><rect x="253.15" y="577.75" width="1.50" height="1.50"/><rect x="254.65" y="580.35" width="1.50" height="1.50"/><rect x="250.75" y="581.85" width="1.50" height="1.50"/><rect x="253.15" y="583.25" width="1.50" height="1.50"/><rect x="255.95" y="583.25" width="1.50" height="1.50"/><rect x="250.75" y="585.95" width="1.50" height="1.50"/><rect x="261.15" y="577.75" width="1.50" height="1.50"/><rect x="262.65" y="580.35" width="1.50" height="1.50"/><rect x="258.75" y="581.85" width="1.50" height="1.50"/><rect x="261.15" y="583.25" width="1.50" height="1.50"/><rect x="263.95" y="583.25" width="1.50" height="1.50"/><rect x="258.75" y="585.95" width="1.50" height="1.50"/><rect x="269.15" y="577.75" width="1.50" height="1.50"/><rect x="270.65" y="580.35" width="1.50" height="1.50"/><rect x="266.75" y="581.85" width="1.50" height="1.50"/><rect x="269.15" y="583.25" width="1.50" height="1.50"/><rect x="271.95" y="583.25" width="1.50" height="1.50"/><rect x="266.75" y="585.95" width="1.50" height="1.50"/><rect x="173.15" y="586.65" width="1.50" height="1.50"/><rect x="174.65" y="589.25" width="1.50" height="1.50"/><rect x="170.75" y="590.75" width="1.50" height="1.50"/><rect x="173.15" y="592.15" width="1.50" height="1.50"/><rect x="175.95" y="592.15" width="1.50" height="1.50"/><rect x="170.75" y="594.85" width="1.50" height="1.50"/><rect x="181.15" y="586.65" width="1.50" height="1.50"/><rect x="182.65" y="589.25" width="1.50" height="1.50"/><rect x="178.75" y="590.75" width="1.50" height="1.50"/><rect x="181.15" y="592.15" width="1.50" height="1.50"/><rect x="183.95" y="592.15" width="1.50" height="1.50"/><rect x="178.75" y="594.85" width="1.50" height="1.50"/><rect x="186.68" y="588.17" width="1.65" height="1.65"/><rect x="186.68" y="592.27" width="1.65" height="1.65"/><rect x="190.68" y="588.17" width="1.65" height="1.65"/><rect x="190.68" y="592.27" width="1.65" height="1.65"/><rect x="197.15" y="586.65" width="1.50" height="1.50"/><rect x="198.65" y="589.25" width="1.50" height="1.50"/><rect x="194.75" y="590.75" width="1.50" height="1.50"/><rect x="197.15" y="592.15" width="1.50" height="1.50"/><rect x="199.95" y="592.15" width="1.50" height="1.50"/><rect x="194.75" y="594.85" width="1.50" height="1.50"/><rect x="205.15" y="586.65" width="1.50" height="1.50"/><rect x="206.65" y="589.25" width="1.50" height="1.50"/><rect x="202.75" y="590.75" width="1.50" height="1.50"/><rect x="205.15" y="592.15" width="1.50" height="1.50"/><rect x="207.95" y="592.15" width="1.50" height="1.50"/><rect x="202.75" y="594.85" width="1.50" height="1.50"/><rect x="213.15" y="586.65" width="1.50" height="1.50"/><rect x="214.65" y="589.25" width="1.50" height="1.50"/><rect x="210.75" y="590.75" width="1.50" height="1.50"/><rect x="213.15" y="592.15" width="1.50" height="1.50"/><rect x="215.95" y="592.15" width="1.50" height="1.50"/><rect x="210.75" y="594.85" width="1.50" height="1.50"/><rect x="221.15" y="586.65" width="1.50" height="1.50"/><rect x="222.65" y="589.25" width="1.50" height="1.50"/><rect x="218.75" y="590.75" width="1.50" height="1.50"/><rect x="221.15" y="592.15" width="1.50" height="1.50"/><rect x="223.95" y="592.15" width="1.50" height="1.50"/><rect x="218.75" y="594.85" width="1.50" height="1.50"/><rect x="226.75" y="590.75" width="1.50" height="1.50"/><rect x="226.75" y="594.85" width="1.50" height="1.50"/><rect x="253.15" y="586.65" width="1.50" height="1.50"/><rect x="254.65" y="589.25" width="1.50" height="1.50"/><rect x="250.75" y="590.75" width="1.50" height="1.50"/><rect x="253.15" y="592.15" width="1.50" height="1.50"/><rect x="255.95" y="592.15" width="1.50" height="1.50"/><rect x="250.75" y="594.85" width="1.50" height="1.50"/><rect x="261.15" y="586.65" width="1.50" height="1.50"/><rect x="262.65" y="589.25" width="1.50" height="1.50"/><rect x="258.75" y="590.75" width="1.50" height="1.50"/><rect x="261.15" y="592.15" width="1.50" height="1.50"/><rect x="263.95" y="592.15" width="1.50" height="1.50"/><rect x="258.75" y="594.85" width="1.50" height="1.50"/><rect x="269.15" y="586.65" width="1.50" height="1.50"/><rect x="270.65" y="589.25" width="1.50" height="1.50"/><rect x="266.75" y="590.75" width="1.50" height="1.50"/><rect x="269.15" y="592.15" width="1.50" height="1.50"/><rect x="271.95" y="592.15" width="1.50" height="1.50"/><rect x="266.75" y="594.85" width="1.50" height="1.50"/><rect x="173.15" y="595.55" width="1.50" height="1.50"/><rect x="174.65" y="598.15" width="1.50" height="1.50"/><rect x="170.75" y="599.65" width="1.50" height="1.50"/><rect x="173.15" y="601.05" width="1.50" height="1.50"/><rect x="175.95" y="601.05" width="1.50" height="1.50"/><rect x="170.75" y="603.75" width="1.50" height="1.50"/><rect x="181.15" y="595.55" width="1.50" height="1.50"/><rect x="182.65" y="598.15" width="1.50" height="1.50"/><rect x="178.75" y="599.65" width="1.50" height="1.50"/><rect x="181.15" y="601.05" width="1.50" height="1.50"/><rect x="183.95" y="601.05" width="1.50" height="1.50"/><rect x="178.75" y="603.75" width="1.50" height="1.50"/><rect x="189.15" y="595.55" width="1.50" height="1.50"/><rect x="190.65" y="598.15" width="1.50" height="1.50"/><rect x="186.75" y="599.65" width="1.50" height="1.50"/><rect x="189.15" y="601.05" width="1.50" height="1.50"/><rect x="191.95" y="601.05" width="1.50" height="1.50"/><rect x="186.75" y="603.75" width="1.50" height="1.50"/><rect x="197.15" y="595.55" width="1.50" height="1.50"/><rect x="198.65" y="598.15" width="1.50" height="1.50"/><rect x="194.75" y="599.65" width="1.50" height="1.50"/><rect x="197.15" y="601.05" width="1.50" height="1.50"/><rect x="199.95" y="601.05" width="1.50" height="1.50"/><rect x="194.75" y="603.75" width="1.50" height="1.50"/><rect x="237.15" y="595.55" width="1.50" height="1.50"/><rect x="238.65" y="598.15" width="1.50" height="1.50"/><rect x="234.75" y="599.65" width="1.50" height="1.50"/><rect x="237.15" y="601.05" width="1.50" height="1.50"/><rect x="239.95" y="601.05" width="1.50" height="1.50"/><rect x="234.75" y="603.75" width="1.50" height="1.50"/><rect x="269.15" y="595.55" width="1.50" height="1.50"/><rect x="270.65" y="598.15" width="1.50" height="1.50"/><rect x="266.75" y="599.65" width="1.50" height="1.50"/><rect x="269.15" y="601.05" width="1.50" height="1.50"/><rect x="271.95" y="601.05" width="1.50" height="1.50"/><rect x="266.75" y="603.75" width="1.50" height="1.50"/><rect x="173.15" y="604.45" width="1.50" height="1.50"/><rect x="174.65" y="607.05" width="1.50" height="1.50"/><rect x="170.75" y="608.55" width="1.50" height="1.50"/><rect x="173.15" y="609.95" width="1.50" height="1.50"/><rect x="175.95" y="609.95" width="1.50" height="1.50"/><rect x="170.75" y="612.65" width="1.50" height="1.50"/><rect x="181.15" y="604.45" width="1.50" height="1.50"/><rect x="182.65" y="607.05" width="1.50" height="1.50"/><rect x="178.75" y="608.55" width="1.50" height="1.50"/><rect x="181.15" y="609.95" width="1.50" height="1.50"/><rect x="183.95" y="609.95" width="1.50" height="1.50"/><rect x="178.75" y="612.65" width="1.50" height="1.50"/><rect x="189.15" y="604.45" width="1.50" height="1.50"/><rect x="190.65" y="607.05" width="1.50" height="1.50"/><rect x="186.75" y="608.55" width="1.50" height="1.50"/><rect x="189.15" y="609.95" width="1.50" height="1.50"/><rect x="191.95" y="609.95" width="1.50" height="1.50"/><rect x="186.75" y="612.65" width="1.50" height="1.50"/><rect x="237.15" y="604.45" width="1.50" height="1.50"/><rect x="238.65" y="607.05" width="1.50" height="1.50"/><rect x="234.75" y="608.55" width="1.50" height="1.50"/><rect x="237.15" y="609.95" width="1.50" height="1.50"/><rect x="239.95" y="609.95" width="1.50" height="1.50"/><rect x="234.75" y="612.65" width="1.50" height="1.50"/><rect x="269.15" y="604.45" width="1.50" height="1.50"/><rect x="270.65" y="607.05" width="1.50" height="1.50"/><rect x="266.75" y="608.55" width="1.50" height="1.50"/><rect x="269.15" y="609.95" width="1.50" height="1.50"/><rect x="271.95" y="609.95" width="1.50" height="1.50"/><rect x="266.75" y="612.65" width="1.50" height="1.50"/><rect x="173.15" y="622.25" width="1.50" height="1.50"/><rect x="174.65" y="624.85" width="1.50" height="1.50"/><rect x="170.75" y="626.35" width="1.50" height="1.50"/><rect x="173.15" y="627.75" width="1.50" height="1.50"/><rect x="175.95" y="627.75" width="1.50" height="1.50"/><rect x="170.75" y="630.45" width="1.50" height="1.50"/><rect x="205.15" y="622.25" width="1.50" height="1.50"/><rect x="206.65" y="624.85" width="1.50" height="1.50"/><rect x="202.75" y="626.35" width="1.50" height="1.50"/><rect x="205.15" y="627.75" width="1.50" height="1.50"/><rect x="207.95" y="627.75" width="1.50" height="1.50"/><rect x="202.75" y="630.45" width="1.50" height="1.50"/><rect x="213.15" y="622.25" width="1.50" height="1.50"/><rect x="214.65" y="624.85" width="1.50" height="1.50"/><rect x="210.75" y="626.35" width="1.50" height="1.50"/><rect x="213.15" y="627.75" width="1.50" height="1.50"/><rect x="215.95" y="627.75" width="1.50" height="1.50"/><rect x="210.75" y="630.45" width="1.50" height="1.50"/><rect x="218.68" y="623.77" width="1.65" height="1.65"/><rect x="218.68" y="627.88" width="1.65" height="1.65"/><rect x="222.68" y="623.77" width="1.65" height="1.65"/><rect x="222.68" y="627.88" width="1.65" height="1.65"/><rect x="226.68" y="623.77" width="1.65" height="1.65"/><rect x="226.68" y="627.88" width="1.65" height="1.65"/><rect x="234.68" y="623.77" width="1.65" height="1.65"/><rect x="234.68" y="627.88" width="1.65" height="1.65"/><rect x="238.68" y="623.77" width="1.65" height="1.65"/><rect x="238.68" y="627.88" width="1.65" height="1.65"/><rect x="242.68" y="623.77" width="1.65" height="1.65"/><rect x="242.68" y="627.88" width="1.65" height="1.65"/><rect x="246.68" y="623.77" width="1.65" height="1.65"/><rect x="246.68" y="627.88" width="1.65" height="1.65"/><rect x="250.68" y="623.77" width="1.65" height="1.65"/><rect x="250.68" y="627.88" width="1.65" height="1.65"/><rect x="254.68" y="623.77" width="1.65" height="1.65"/><rect x="254.68" y="627.88" width="1.65" height="1.65"/><rect x="258.68" y="623.77" width="1.65" height="1.65"/><rect x="258.68" y="627.88" width="1.65" height="1.65"/><rect x="262.68" y="623.77" width="1.65" height="1.65"/><rect x="262.68" y="627.88" width="1.65" height="1.65"/><rect x="266.68" y="623.77" width="1.65" height="1.65"/><rect x="266.68" y="627.88" width="1.65" height="1.65"/><rect x="270.68" y="623.77" width="1.65" height="1.65"/><rect x="270.68" y="627.88" width="1.65" height="1.65"/><rect x="277.15" y="622.25" width="1.50" height="1.50"/><rect x="278.65" y="624.85" width="1.50" height="1.50"/><rect x="274.75" y="626.35" width="1.50" height="1.50"/><rect x="277.15" y="627.75" width="1.50" height="1.50"/><rect x="279.95" y="627.75" width="1.50" height="1.50"/><rect x="274.75" y="630.45" width="1.50" height="1.50"/><rect x="285.15" y="622.25" width="1.50" height="1.50"/><rect x="286.65" y="624.85" width="1.50" height="1.50"/><rect x="282.75" y="626.35" width="1.50" height="1.50"/><rect x="285.15" y="627.75" width="1.50" height="1.50"/><rect x="287.95" y="627.75" width="1.50" height="1.50"/><rect x="282.75" y="630.45" width="1.50" height="1.50"/><rect x="293.15" y="622.25" width="1.50" height="1.50"/><rect x="294.65" y="624.85" width="1.50" height="1.50"/><rect x="290.75" y="626.35" width="1.50" height="1.50"/><rect x="293.15" y="627.75" width="1.50" height="1.50"/><rect x="295.95" y="627.75" width="1.50" height="1.50"/><rect x="290.75" y="630.45" width="1.50" height="1.50"/><rect x="173.15" y="631.15" width="1.50" height="1.50"/><rect x="174.65" y="633.75" width="1.50" height="1.50"/><rect x="170.75" y="635.25" width="1.50" height="1.50"/><rect x="173.15" y="636.65" width="1.50" height="1.50"/><rect x="175.95" y="636.65" width="1.50" height="1.50"/><rect x="170.75" y="639.35" width="1.50" height="1.50"/><rect x="202.68" y="632.67" width="1.65" height="1.65"/><rect x="202.68" y="636.77" width="1.65" height="1.65"/><rect x="206.68" y="632.67" width="1.65" height="1.65"/><rect x="206.68" y="636.77" width="1.65" height="1.65"/><rect x="210.68" y="632.67" width="1.65" height="1.65"/><rect x="210.68" y="636.77" width="1.65" height="1.65"/><rect x="214.68" y="632.67" width="1.65" height="1.65"/><rect x="214.68" y="636.77" width="1.65" height="1.65"/><rect x="218.68" y="632.67" width="1.65" height="1.65"/><rect x="218.68" y="636.77" width="1.65" height="1.65"/><rect x="222.68" y="632.67" width="1.65" height="1.65"/><rect x="222.68" y="636.77" width="1.65" height="1.65"/><rect x="226.68" y="632.67" width="1.65" height="1.65"/><rect x="226.68" y="636.77" width="1.65" height="1.65"/><rect x="234.68" y="632.67" width="1.65" height="1.65"/><rect x="234.68" y="636.77" width="1.65" height="1.65"/><rect x="238.68" y="632.67" width="1.65" height="1.65"/><rect x="238.68" y="636.77" width="1.65" height="1.65"/><rect x="242.68" y="632.67" width="1.65" height="1.65"/><rect x="242.68" y="636.77" width="1.65" height="1.65"/><rect x="246.68" y="632.67" width="1.65" height="1.65"/><rect x="246.68" y="636.77" width="1.65" height="1.65"/><rect x="250.68" y="632.67" width="1.65" height="1.65"/><rect x="250.68" y="636.77" width="1.65" height="1.65"/><rect x="254.68" y="632.67" width="1.65" height="1.65"/><rect x="254.68" y="636.77" width="1.65" height="1.65"/><rect x="258.68" y="632.67" width="1.65" height="1.65"/><rect x="258.68" y="636.77" width="1.65" height="1.65"/><rect x="262.68" y="632.67" width="1.65" height="1.65"/><rect x="262.68" y="636.77" width="1.65" height="1.65"/><rect x="266.68" y="632.67" width="1.65" height="1.65"/><rect x="266.68" y="636.77" width="1.65" height="1.65"/><rect x="270.68" y="632.67" width="1.65" height="1.65"/><rect x="270.68" y="636.77" width="1.65" height="1.65"/><rect x="277.15" y="631.15" width="1.50" height="1.50"/><rect x="278.65" y="633.75" width="1.50" height="1.50"/><rect x="274.75" y="635.25" width="1.50" height="1.50"/><rect x="277.15" y="636.65" width="1.50" height="1.50"/><rect x="279.95" y="636.65" width="1.50" height="1.50"/><rect x="274.75" y="639.35" width="1.50" height="1.50"/><rect x="285.15" y="631.15" width="1.50" height="1.50"/><rect x="286.65" y="633.75" width="1.50" height="1.50"/><rect x="282.75" y="635.25" width="1.50" height="1.50"/><rect x="285.15" y="636.65" width="1.50" height="1.50"/><rect x="287.95" y="636.65" width="1.50" height="1.50"/><rect x="282.75" y="639.35" width="1.50" height="1.50"/><rect x="293.15" y="631.15" width="1.50" height="1.50"/><rect x="294.65" y="633.75" width="1.50" height="1.50"/><rect x="290.75" y="635.25" width="1.50" height="1.50"/><rect x="293.15" y="636.65" width="1.50" height="1.50"/><rect x="295.95" y="636.65" width="1.50" height="1.50"/><rect x="290.75" y="639.35" width="1.50" height="1.50"/><rect x="170.68" y="641.58" width="1.65" height="1.65"/><rect x="170.68" y="645.68" width="1.65" height="1.65"/><rect x="174.68" y="641.58" width="1.65" height="1.65"/><rect x="174.68" y="645.68" width="1.65" height="1.65"/><rect x="178.68" y="641.58" width="1.65" height="1.65"/><rect x="178.68" y="645.68" width="1.65" height="1.65"/><rect x="182.68" y="641.58" width="1.65" height="1.65"/><rect x="182.68" y="645.68" width="1.65" height="1.65"/><rect x="186.68" y="641.58" width="1.65" height="1.65"/><rect x="186.68" y="645.68" width="1.65" height="1.65"/><rect x="190.68" y="641.58" width="1.65" height="1.65"/><rect x="190.68" y="645.68" width="1.65" height="1.65"/><rect x="194.68" y="641.58" width="1.65" height="1.65"/><rect x="194.68" y="645.68" width="1.65" height="1.65"/><rect x="198.68" y="641.58" width="1.65" height="1.65"/><rect x="198.68" y="645.68" width="1.65" height="1.65"/><rect x="202.68" y="641.58" width="1.65" height="1.65"/><rect x="202.68" y="645.68" width="1.65" height="1.65"/><rect x="206.68" y="641.58" width="1.65" height="1.65"/><rect x="206.68" y="645.68" width="1.65" height="1.65"/><rect x="210.68" y="641.58" width="1.65" height="1.65"/><rect x="210.68" y="645.68" width="1.65" height="1.65"/><rect x="214.68" y="641.58" width="1.65" height="1.65"/><rect x="214.68" y="645.68" width="1.65" height="1.65"/><rect x="218.68" y="641.58" width="1.65" height="1.65"/><rect x="218.68" y="645.68" width="1.65" height="1.65"/><rect x="222.68" y="641.58" width="1.65" height="1.65"/><rect x="222.68" y="645.68" width="1.65" height="1.65"/><rect x="226.68" y="641.58" width="1.65" height="1.65"/><rect x="226.68" y="645.68" width="1.65" height="1.65"/><rect x="234.68" y="641.58" width="1.65" height="1.65"/><rect x="234.68" y="645.68" width="1.65" height="1.65"/><rect x="238.68" y="641.58" width="1.65" height="1.65"/><rect x="238.68" y="645.68" width="1.65" height="1.65"/><rect x="242.68" y="641.58" width="1.65" height="1.65"/><rect x="242.68" y="645.68" width="1.65" height="1.65"/><rect x="246.68" y="641.58" width="1.65" height="1.65"/><rect x="246.68" y="645.68" width="1.65" height="1.65"/><rect x="250.68" y="641.58" width="1.65" height="1.65"/><rect x="250.68" y="645.68" width="1.65" height="1.65"/><rect x="254.68" y="641.58" width="1.65" height="1.65"/><rect x="254.68" y="645.68" width="1.65" height="1.65"/><rect x="258.68" y="641.58" width="1.65" height="1.65"/><rect x="258.68" y="645.68" width="1.65" height="1.65"/><rect x="262.68" y="641.58" width="1.65" height="1.65"/><rect x="262.68" y="645.68" width="1.65" height="1.65"/><rect x="266.68" y="641.58" width="1.65" height="1.65"/><rect x="266.68" y="645.68" width="1.65" height="1.65"/><rect x="270.68" y="641.58" width="1.65" height="1.65"/><rect x="270.68" y="645.68" width="1.65" height="1.65"/><rect x="277.15" y="640.05" width="1.50" height="1.50"/><rect x="278.65" y="642.65" width="1.50" height="1.50"/><rect x="274.75" y="644.15" width="1.50" height="1.50"/><rect x="277.15" y="645.55" width="1.50" height="1.50"/><rect x="279.95" y="645.55" width="1.50" height="1.50"/><rect x="274.75" y="648.25" width="1.50" height="1.50"/><rect x="285.15" y="640.05" width="1.50" height="1.50"/><rect x="286.65" y="642.65" width="1.50" height="1.50"/><rect x="282.75" y="644.15" width="1.50" height="1.50"/><rect x="285.15" y="645.55" width="1.50" height="1.50"/><rect x="287.95" y="645.55" width="1.50" height="1.50"/><rect x="282.75" y="648.25" width="1.50" height="1.50"/><rect x="293.15" y="640.05" width="1.50" height="1.50"/><rect x="294.65" y="642.65" width="1.50" height="1.50"/><rect x="290.75" y="644.15" width="1.50" height="1.50"/><rect x="293.15" y="645.55" width="1.50" height="1.50"/><rect x="295.95" y="645.55" width="1.50" height="1.50"/><rect x="290.75" y="648.25" width="1.50" height="1.50"/><rect x="178.68" y="650.48" width="1.65" height="1.65"/><rect x="178.68" y="654.58" width="1.65" height="1.65"/><rect x="182.68" y="650.48" width="1.65" height="1.65"/><rect x="182.68" y="654.58" width="1.65" height="1.65"/><rect x="186.68" y="650.48" width="1.65" height="1.65"/><rect x="186.68" y="654.58" width="1.65" height="1.65"/><rect x="190.68" y="650.48" width="1.65" height="1.65"/><rect x="190.68" y="654.58" width="1.65" height="1.65"/><rect x="194.68" y="650.48" width="1.65" height="1.65"/><rect x="194.68" y="654.58" width="1.65" height="1.65"/><rect x="198.68" y="650.48" width="1.65" height="1.65"/><rect x="198.68" y="654.58" width="1.65" height="1.65"/><rect x="202.68" y="650.48" width="1.65" height="1.65"/><rect x="202.68" y="654.58" width="1.65" height="1.65"/><rect x="206.68" y="650.48" width="1.65" height="1.65"/><rect x="206.68" y="654.58" width="1.65" height="1.65"/><rect x="210.68" y="650.48" width="1.65" height="1.65"/><rect x="210.68" y="654.58" width="1.65" height="1.65"/><rect x="214.68" y="650.48" width="1.65" height="1.65"/><rect x="214.68" y="654.58" width="1.65" height="1.65"/><rect x="218.68" y="650.48" width="1.65" height="1.65"/><rect x="218.68" y="654.58" width="1.65" height="1.65"/><rect x="222.68" y="650.48" width="1.65" height="1.65"/><rect x="222.68" y="654.58" width="1.65" height="1.65"/><rect x="226.68" y="650.48" width="1.65" height="1.65"/><rect x="226.68" y="654.58" width="1.65" height="1.65"/><rect x="234.68" y="650.48" width="1.65" height="1.65"/><rect x="234.68" y="654.58" width="1.65" height="1.65"/><rect x="238.68" y="650.48" width="1.65" height="1.65"/><rect x="238.68" y="654.58" width="1.65" height="1.65"/><rect x="242.68" y="650.48" width="1.65" height="1.65"/><rect x="242.68" y="654.58" width="1.65" height="1.65"/><rect x="246.68" y="650.48" width="1.65" height="1.65"/><rect x="246.68" y="654.58" width="1.65" height="1.65"/><rect x="250.68" y="650.48" width="1.65" height="1.65"/><rect x="250.68" y="654.58" width="1.65" height="1.65"/><rect x="254.68" y="650.48" width="1.65" height="1.65"/><rect x="254.68" y="654.58" width="1.65" height="1.65"/><rect x="258.68" y="650.48" width="1.65" height="1.65"/><rect x="258.68" y="654.58" width="1.65" height="1.65"/><rect x="262.68" y="650.48" width="1.65" height="1.65"/><rect x="262.68" y="654.58" width="1.65" height="1.65"/><rect x="266.68" y="650.48" width="1.65" height="1.65"/><rect x="266.68" y="654.58" width="1.65" height="1.65"/><rect x="270.68" y="650.48" width="1.65" height="1.65"/><rect x="270.68" y="654.58" width="1.65" height="1.65"/><rect x="277.15" y="648.95" width="1.50" height="1.50"/><rect x="278.65" y="651.55" width="1.50" height="1.50"/><rect x="274.75" y="653.05" width="1.50" height="1.50"/><rect x="277.15" y="654.45" width="1.50" height="1.50"/><rect x="279.95" y="654.45" width="1.50" height="1.50"/><rect x="274.75" y="657.15" width="1.50" height="1.50"/><rect x="285.15" y="648.95" width="1.50" height="1.50"/><rect x="286.65" y="651.55" width="1.50" height="1.50"/><rect x="282.75" y="653.05" width="1.50" height="1.50"/><rect x="285.15" y="654.45" width="1.50" height="1.50"/><rect x="287.95" y="654.45" width="1.50" height="1.50"/><rect x="282.75" y="657.15" width="1.50" height="1.50"/><rect x="178.68" y="659.38" width="1.65" height="1.65"/><rect x="178.68" y="663.48" width="1.65" height="1.65"/><rect x="182.68" y="659.38" width="1.65" height="1.65"/><rect x="182.68" y="663.48" width="1.65" height="1.65"/><rect x="186.68" y="659.38" width="1.65" height="1.65"/><rect x="186.68" y="663.48" width="1.65" height="1.65"/><rect x="190.68" y="659.38" width="1.65" height="1.65"/><rect x="190.68" y="663.48" width="1.65" height="1.65"/><rect x="194.68" y="659.38" width="1.65" height="1.65"/><rect x="194.68" y="663.48" width="1.65" height="1.65"/><rect x="198.68" y="659.38" width="1.65" height="1.65"/><rect x="198.68" y="663.48" width="1.65" height="1.65"/><rect x="202.68" y="659.38" width="1.65" height="1.65"/><rect x="202.68" y="663.48" width="1.65" height="1.65"/><rect x="206.68" y="659.38" width="1.65" height="1.65"/><rect x="206.68" y="663.48" width="1.65" height="1.65"/><rect x="210.68" y="659.38" width="1.65" height="1.65"/><rect x="210.68" y="663.48" width="1.65" height="1.65"/><rect x="214.68" y="659.38" width="1.65" height="1.65"/><rect x="214.68" y="663.48" width="1.65" height="1.65"/><rect x="218.68" y="659.38" width="1.65" height="1.65"/><rect x="218.68" y="663.48" width="1.65" height="1.65"/><rect x="222.68" y="659.38" width="1.65" height="1.65"/><rect x="222.68" y="663.48" width="1.65" height="1.65"/><rect x="226.68" y="659.38" width="1.65" height="1.65"/><rect x="226.68" y="663.48" width="1.65" height="1.65"/><rect x="234.68" y="659.38" width="1.65" height="1.65"/><rect x="234.68" y="663.48" width="1.65" height="1.65"/><rect x="238.68" y="659.38" width="1.65" height="1.65"/><rect x="238.68" y="663.48" width="1.65" height="1.65"/><rect x="242.68" y="659.38" width="1.65" height="1.65"/><rect x="242.68" y="663.48" width="1.65" height="1.65"/><rect x="246.68" y="659.38" width="1.65" height="1.65"/><rect x="246.68" y="663.48" width="1.65" height="1.65"/><rect x="250.68" y="659.38" width="1.65" height="1.65"/><rect x="250.68" y="663.48" width="1.65" height="1.65"/><rect x="254.68" y="659.38" width="1.65" height="1.65"/><rect x="254.68" y="663.48" width="1.65" height="1.65"/><rect x="258.68" y="659.38" width="1.65" height="1.65"/><rect x="258.68" y="663.48" width="1.65" height="1.65"/><rect x="262.68" y="659.38" width="1.65" height="1.65"/><rect x="262.68" y="663.48" width="1.65" height="1.65"/><rect x="266.68" y="659.38" width="1.65" height="1.65"/><rect x="266.68" y="663.48" width="1.65" height="1.65"/><rect x="270.68" y="659.38" width="1.65" height="1.65"/><rect x="270.68" y="663.48" width="1.65" height="1.65"/><rect x="277.15" y="657.85" width="1.50" height="1.50"/><rect x="278.65" y="660.45" width="1.50" height="1.50"/><rect x="274.75" y="661.95" width="1.50" height="1.50"/><rect x="277.15" y="663.35" width="1.50" height="1.50"/><rect x="279.95" y="663.35" width="1.50" height="1.50"/><rect x="274.75" y="666.05" width="1.50" height="1.50"/><rect x="186.68" y="668.27" width="1.65" height="1.65"/><rect x="186.68" y="672.38" width="1.65" height="1.65"/><rect x="190.68" y="668.27" width="1.65" height="1.65"/><rect x="190.68" y="672.38" width="1.65" height="1.65"/><rect x="194.68" y="668.27" width="1.65" height="1.65"/><rect x="194.68" y="672.38" width="1.65" height="1.65"/><rect x="198.68" y="668.27" width="1.65" height="1.65"/><rect x="198.68" y="672.38" width="1.65" height="1.65"/><rect x="202.68" y="668.27" width="1.65" height="1.65"/><rect x="202.68" y="672.38" width="1.65" height="1.65"/><rect x="206.68" y="668.27" width="1.65" height="1.65"/><rect x="206.68" y="672.38" width="1.65" height="1.65"/><rect x="210.68" y="668.27" width="1.65" height="1.65"/><rect x="210.68" y="672.38" width="1.65" height="1.65"/><rect x="214.68" y="668.27" width="1.65" height="1.65"/><rect x="214.68" y="672.38" width="1.65" height="1.65"/><rect x="218.68" y="668.27" width="1.65" height="1.65"/><rect x="218.68" y="672.38" width="1.65" height="1.65"/><rect x="222.68" y="668.27" width="1.65" height="1.65"/><rect x="222.68" y="672.38" width="1.65" height="1.65"/><rect x="226.68" y="668.27" width="1.65" height="1.65"/><rect x="226.68" y="672.38" width="1.65" height="1.65"/><rect x="234.68" y="668.27" width="1.65" height="1.65"/><rect x="234.68" y="672.38" width="1.65" height="1.65"/><rect x="238.68" y="668.27" width="1.65" height="1.65"/><rect x="238.68" y="672.38" width="1.65" height="1.65"/><rect x="242.68" y="668.27" width="1.65" height="1.65"/><rect x="242.68" y="672.38" width="1.65" height="1.65"/><rect x="246.68" y="668.27" width="1.65" height="1.65"/><rect x="246.68" y="672.38" width="1.65" height="1.65"/><rect x="250.68" y="668.27" width="1.65" height="1.65"/><rect x="250.68" y="672.38" width="1.65" height="1.65"/><rect x="254.68" y="668.27" width="1.65" height="1.65"/><rect x="254.68" y="672.38" width="1.65" height="1.65"/><rect x="258.68" y="668.27" width="1.65" height="1.65"/><rect x="258.68" y="672.38" width="1.65" height="1.65"/><rect x="262.68" y="668.27" width="1.65" height="1.65"/><rect x="262.68" y="672.38" width="1.65" height="1.65"/><rect x="266.68" y="668.27" width="1.65" height="1.65"/><rect x="266.68" y="672.38" width="1.65" height="1.65"/><rect x="270.68" y="668.27" width="1.65" height="1.65"/><rect x="270.68" y="672.38" width="1.65" height="1.65"/><rect x="202.68" y="677.17" width="1.65" height="1.65"/><rect x="202.68" y="681.27" width="1.65" height="1.65"/><rect x="206.68" y="677.17" width="1.65" height="1.65"/><rect x="206.68" y="681.27" width="1.65" height="1.65"/><rect x="210.68" y="677.17" width="1.65" height="1.65"/><rect x="210.68" y="681.27" width="1.65" height="1.65"/><rect x="214.68" y="677.17" width="1.65" height="1.65"/><rect x="214.68" y="681.27" width="1.65" height="1.65"/><rect x="218.68" y="677.17" width="1.65" height="1.65"/><rect x="218.68" y="681.27" width="1.65" height="1.65"/><rect x="222.68" y="677.17" width="1.65" height="1.65"/><rect x="222.68" y="681.27" width="1.65" height="1.65"/><rect x="226.68" y="677.17" width="1.65" height="1.65"/><rect x="226.68" y="681.27" width="1.65" height="1.65"/><rect x="234.68" y="677.17" width="1.65" height="1.65"/><rect x="234.68" y="681.27" width="1.65" height="1.65"/><rect x="238.68" y="677.17" width="1.65" height="1.65"/><rect x="238.68" y="681.27" width="1.65" height="1.65"/><rect x="242.68" y="677.17" width="1.65" height="1.65"/><rect x="242.68" y="681.27" width="1.65" height="1.65"/><rect x="246.68" y="677.17" width="1.65" height="1.65"/><rect x="246.68" y="681.27" width="1.65" height="1.65"/><rect x="250.68" y="677.17" width="1.65" height="1.65"/><rect x="250.68" y="681.27" width="1.65" height="1.65"/><rect x="254.68" y="677.17" width="1.65" height="1.65"/><rect x="254.68" y="681.27" width="1.65" height="1.65"/></g><use href="#gH" x="205.00" y="555.45"/><use href="#gH" x="213.00" y="555.45"/><use href="#gH" x="221.00" y="555.45"/><use href="#gH" x="189.00" y="564.35"/><use href="#gH" x="197.00" y="564.35"/><use href="#gH" x="205.00" y="564.35"/><use href="#gH" x="213.00" y="564.35"/><use href="#gH" x="221.00" y="564.35"/><use href="#gH" x="261.00" y="564.35"/><use href="#gH" x="269.00" y="564.35"/><use href="#gH" x="269.00" y="573.25"/><rect x="271.10" y="568.60" width="9.9" height="9.3" fill="url(#pX)"/><use href="#gH" x="237.00" y="582.15"/><use href="#gH" x="277.00" y="582.15"/><rect x="279.10" y="577.50" width="9.9" height="9.3" fill="url(#pX)"/><use href="#gH" x="237.00" y="591.05"/><use href="#gH" x="245.00" y="591.05"/><use href="#gH" x="277.00" y="591.05"/><rect x="279.10" y="586.40" width="9.9" height="9.3" fill="url(#pX)"/><rect x="287.10" y="586.40" width="9.9" height="9.3" fill="url(#pX)"/><use href="#gH" x="205.00" y="599.95"/><use href="#gH" x="213.00" y="599.95"/><use href="#gH" x="221.00" y="599.95"/><g clip-path="url(#clipL)"><use href="#gH" x="225.80" y="599.95"/></g><use href="#gH" x="245.00" y="599.95"/><use href="#gH" x="253.00" y="599.95"/><use href="#gH" x="261.00" y="599.95"/><rect x="271.10" y="595.30" width="9.9" height="9.3" fill="url(#pX)"/><use href="#gS" x="284.80" y="599.95"/><use href="#gS" x="292.80" y="599.95"/><use href="#gS" x="300.80" y="599.95"/><use href="#gH" x="197.00" y="608.85"/><rect x="199.10" y="604.20" width="9.9" height="9.3" fill="url(#pX)"/><rect x="207.10" y="604.20" width="9.9" height="9.3" fill="url(#pX)"/><rect x="215.10" y="604.20" width="9.9" height="9.3" fill="url(#pX)"/><rect x="223.10" y="604.20" width="5.9" height="9.3" fill="url(#pX)"/><use href="#gH" x="245.00" y="608.85"/><rect x="247.10" y="604.20" width="9.9" height="9.3" fill="url(#pX)"/><use href="#gH" x="261.00" y="608.85"/><rect x="271.10" y="604.20" width="9.9" height="9.3" fill="url(#pX)"/><rect x="175.10" y="622.00" width="9.9" height="9.3" fill="url(#pX)"/><rect x="191.10" y="622.00" width="9.9" height="9.3" fill="url(#pX)"/><use href="#gH" x="301.00" y="626.65"/><use href="#gH" x="181.00" y="635.55"/><rect x="183.10" y="630.90" width="9.9" height="9.3" fill="url(#pX)"/><use href="#gH" x="197.00" y="635.55"/><use href="#gH" x="301.00" y="635.55"/><rect x="280.30" y="603.60" width="8.6" height="10.4" fill="#000"/><rect x="288.30" y="603.60" width="8.6" height="10.4" fill="#000"/><rect x="296.30" y="603.60" width="8.6" height="10.4" fill="#000"/><rect x="184.30" y="621.40" width="8.6" height="10.4" fill="#000"/>
<rect x="361.25" y="552.55" width="1.5" height="1.5" fill="#111"/><rect x="361.25" y="556.25" width="1.5" height="1.5" fill="#111"/><rect x="365.05" y="552.55" width="1.5" height="1.5" fill="#111"/><rect x="365.05" y="556.25" width="1.5" height="1.5" fill="#111"/><rect x="377.15" y="552.55" width="1.5" height="1.5" fill="#111"/><rect x="377.15" y="556.25" width="1.5" height="1.5" fill="#111"/><rect x="380.95" y="552.55" width="1.5" height="1.5" fill="#111"/><rect x="380.95" y="556.25" width="1.5" height="1.5" fill="#111"/><rect x="394.15" y="553.90" width="1.7" height="1.7" fill="#111"/><rect x="410.05" y="553.90" width="1.7" height="1.7" fill="#111"/><rect x="346.45" y="571.75" width="1.7" height="1.7" fill="#111"/><rect x="361.25" y="570.40" width="1.5" height="1.5" fill="#111"/><rect x="361.25" y="574.10" width="1.5" height="1.5" fill="#111"/><rect x="365.05" y="570.40" width="1.5" height="1.5" fill="#111"/><rect x="365.05" y="574.10" width="1.5" height="1.5" fill="#111"/><use href="#sh" x="379.80" y="573.00"/><use href="#sx" x="395.70" y="573.00"/><rect x="410.05" y="571.75" width="1.7" height="1.7" fill="#111"/><use href="#sx" x="427.50" y="573.00"/><rect x="330.55" y="589.60" width="1.7" height="1.7" fill="#111"/><rect x="346.45" y="589.60" width="1.7" height="1.7" fill="#111"/><use href="#sx" x="363.90" y="590.85"/><use href="#sx" x="379.80" y="590.85"/><rect x="391.70" y="585.65" width="8" height="10.4" rx="0.6" fill="#000"/><rect x="407.60" y="585.65" width="8" height="10.4" rx="0.6" fill="#000"/><use href="#sx" x="427.50" y="590.85"/><rect x="439.40" y="585.65" width="8" height="10.4" rx="0.6" fill="#000"/><use href="#sh" x="332.10" y="608.70"/><rect x="359.90" y="603.50" width="8" height="10.4" rx="0.6" fill="#000"/><rect x="375.80" y="603.50" width="8" height="10.4" rx="0.6" fill="#000"/><rect x="391.70" y="603.50" width="8" height="10.4" rx="0.6" fill="#000"/><rect x="407.60" y="603.50" width="8" height="10.4" rx="0.6" fill="#000"/><use href="#sx" x="427.50" y="608.70"/><rect x="439.40" y="603.50" width="8" height="10.4" rx="0.6" fill="#000"/><rect x="455.30" y="603.50" width="8" height="10.4" rx="0.6" fill="#000"/><rect x="329.45" y="623.95" width="1.5" height="1.5" fill="#111"/><rect x="329.45" y="627.65" width="1.5" height="1.5" fill="#111"/><rect x="333.25" y="623.95" width="1.5" height="1.5" fill="#111"/><rect x="333.25" y="627.65" width="1.5" height="1.5" fill="#111"/><rect x="359.90" y="621.35" width="8" height="10.4" rx="0.6" fill="#000"/><rect x="378.25" y="625.30" width="1.7" height="1.7" fill="#111"/><rect x="394.15" y="625.30" width="1.7" height="1.7" fill="#111"/><rect x="408.95" y="623.95" width="1.5" height="1.5" fill="#111"/><rect x="408.95" y="627.65" width="1.5" height="1.5" fill="#111"/><rect x="412.75" y="623.95" width="1.5" height="1.5" fill="#111"/><rect x="412.75" y="627.65" width="1.5" height="1.5" fill="#111"/><rect x="424.85" y="623.95" width="1.5" height="1.5" fill="#111"/><rect x="424.85" y="627.65" width="1.5" height="1.5" fill="#111"/><rect x="428.65" y="623.95" width="1.5" height="1.5" fill="#111"/><rect x="428.65" y="627.65" width="1.5" height="1.5" fill="#111"/><use href="#sh" x="443.40" y="626.55"/><rect x="457.75" y="625.30" width="1.7" height="1.7" fill="#111"/><rect x="330.55" y="643.15" width="1.7" height="1.7" fill="#111"/><rect x="346.45" y="643.15" width="1.7" height="1.7" fill="#111"/><rect x="362.35" y="643.15" width="1.7" height="1.7" fill="#111"/><rect x="378.25" y="643.15" width="1.7" height="1.7" fill="#111"/><rect x="393.05" y="641.80" width="1.5" height="1.5" fill="#111"/><rect x="393.05" y="645.50" width="1.5" height="1.5" fill="#111"/><rect x="396.85" y="641.80" width="1.5" height="1.5" fill="#111"/><rect x="396.85" y="645.50" width="1.5" height="1.5" fill="#111"/><use href="#sh" x="411.60" y="644.40"/><rect x="425.95" y="643.15" width="1.7" height="1.7" fill="#111"/><rect x="440.75" y="641.80" width="1.5" height="1.5" fill="#111"/><rect x="440.75" y="645.50" width="1.5" height="1.5" fill="#111"/><rect x="444.55" y="641.80" width="1.5" height="1.5" fill="#111"/><rect x="444.55" y="645.50" width="1.5" height="1.5" fill="#111"/><rect x="346.45" y="661.00" width="1.7" height="1.7" fill="#111"/><rect x="362.35" y="661.00" width="1.7" height="1.7" fill="#111"/><rect x="378.25" y="661.00" width="1.7" height="1.7" fill="#111"/><rect x="394.15" y="661.00" width="1.7" height="1.7" fill="#111"/><rect x="410.05" y="661.00" width="1.7" height="1.7" fill="#111"/><rect x="425.95" y="661.00" width="1.7" height="1.7" fill="#111"/><rect x="362.35" y="678.85" width="1.7" height="1.7" fill="#111"/><rect x="378.25" y="678.85" width="1.7" height="1.7" fill="#111"/><rect x="394.15" y="678.85" width="1.7" height="1.7" fill="#111"/><rect x="410.05" y="678.85" width="1.7" height="1.7" fill="#111"/>
<g font-size="8.4" fill="#111" stroke="#111" stroke-width="0.3" letter-spacing="0.15"><text x="526.80" y="559.45" text-anchor="end">-3</text><text x="542.70" y="559.45" text-anchor="end">-3</text><text x="558.60" y="559.45" text-anchor="end">1</text><text x="574.50" y="559.45" text-anchor="end">-1</text><text x="510.90" y="577.30" text-anchor="end">-3</text><text x="526.80" y="577.30" text-anchor="end">-2</text><text x="542.70" y="577.30" text-anchor="end">-2</text><text x="558.60" y="577.30" text-anchor="end">-3</text><text x="574.50" y="577.30" text-anchor="end">0</text><text x="590.40" y="577.30" text-anchor="end">-7</text><text x="495.00" y="595.15" text-anchor="end">1</text><text x="510.90" y="595.15" text-anchor="end">-1</text><text x="526.80" y="595.15" text-anchor="end">-3</text><text x="542.70" y="595.15" text-anchor="end">-3</text><text x="558.60" y="595.15" text-anchor="end">-9</text><text x="574.50" y="595.15" text-anchor="end">-2</text><text x="590.40" y="595.15" text-anchor="end">-4</text><text x="597.60" y="595.15">-10</text><text x="495.00" y="613.00" text-anchor="end">0</text><text x="518.10" y="613.00">-13</text><text x="534.00" y="613.00">-16</text><text x="558.60" y="613.00" text-anchor="end">-4</text><text x="565.80" y="613.00">-15</text><text x="590.40" y="613.00" text-anchor="end">-3</text><text x="597.60" y="613.00">-23</text><text x="613.50" y="613.00">-13</text><text x="495.00" y="630.85" text-anchor="end">-5</text><text x="526.80" y="630.85" text-anchor="end">-5</text><text x="542.70" y="630.85" text-anchor="end">-2</text><text x="558.60" y="630.85" text-anchor="end">-1</text><text x="574.50" y="630.85" text-anchor="end">-1</text><text x="590.40" y="630.85" text-anchor="end">-2</text><text x="606.30" y="630.85" text-anchor="end">-3</text><text x="622.20" y="630.85" text-anchor="end">12</text><text x="495.00" y="648.70" text-anchor="end">0</text><text x="510.90" y="648.70" text-anchor="end">-1</text><text x="526.80" y="648.70" text-anchor="end">1</text><text x="542.70" y="648.70" text-anchor="end">0</text><text x="558.60" y="648.70" text-anchor="end">-1</text><text x="574.50" y="648.70" text-anchor="end">-2</text><text x="590.40" y="648.70" text-anchor="end">-2</text><text x="606.30" y="648.70" text-anchor="end">-4</text><text x="510.90" y="666.55" text-anchor="end">0</text><text x="526.80" y="666.55" text-anchor="end">0</text><text x="542.70" y="666.55" text-anchor="end">1</text><text x="558.60" y="666.55" text-anchor="end">2</text><text x="574.50" y="666.55" text-anchor="end">1</text><text x="590.40" y="666.55" text-anchor="end">0</text><text x="526.80" y="684.40" text-anchor="end">-3</text><text x="542.70" y="684.40" text-anchor="end">-1</text><text x="558.60" y="684.40" text-anchor="end">3</text><text x="574.50" y="684.40" text-anchor="end">2</text></g>
<rect x="679.55" y="553.90" width="1.7" height="1.7" fill="#111"/><rect x="695.45" y="553.90" width="1.7" height="1.7" fill="#111"/><rect x="711.35" y="553.90" width="1.7" height="1.7" fill="#111"/><rect x="727.25" y="553.90" width="1.7" height="1.7" fill="#111"/><rect x="663.65" y="571.75" width="1.7" height="1.7" fill="#111"/><rect x="679.55" y="571.75" width="1.7" height="1.7" fill="#111"/><rect x="695.45" y="571.75" width="1.7" height="1.7" fill="#111"/><use href="#tt" x="711.40" y="573.00"/><rect x="727.25" y="571.75" width="1.7" height="1.7" fill="#111"/><use href="#tF" x="744.30" y="573.00"/><rect x="647.75" y="589.60" width="1.7" height="1.7" fill="#111"/><rect x="663.65" y="589.60" width="1.7" height="1.7" fill="#111"/><use href="#tt" x="679.60" y="590.85"/><use href="#tt" x="695.50" y="590.85"/><use href="#tA" x="712.50" y="590.85"/><rect x="727.25" y="589.60" width="1.7" height="1.7" fill="#111"/><use href="#tF" x="744.30" y="590.85"/><use href="#tF" x="760.20" y="590.85"/><rect x="647.75" y="607.45" width="1.7" height="1.7" fill="#111"/><use href="#tF" x="680.70" y="608.70"/><use href="#tA" x="696.60" y="608.70"/><use href="#tA" x="712.50" y="608.70"/><use href="#tA" x="728.40" y="608.70"/><use href="#tt" x="743.20" y="608.70"/><use href="#tt" x="759.10" y="608.70"/><use href="#tt" x="775.00" y="608.70"/><use href="#tt" x="647.80" y="626.55"/><use href="#tt" x="679.60" y="626.55"/><rect x="695.45" y="625.30" width="1.7" height="1.7" fill="#111"/><rect x="711.35" y="625.30" width="1.7" height="1.7" fill="#111"/><rect x="727.25" y="625.30" width="1.7" height="1.7" fill="#111"/><rect x="743.15" y="625.30" width="1.7" height="1.7" fill="#111"/><rect x="759.05" y="625.30" width="1.7" height="1.7" fill="#111"/><text x="772.90" y="631.85" font-size="10.6" textLength="5.9" lengthAdjust="spacingAndGlyphs" fill="#111" stroke="#111" stroke-width="0.45">X</text><rect x="647.75" y="643.15" width="1.7" height="1.7" fill="#111"/><rect x="663.65" y="643.15" width="1.7" height="1.7" fill="#111"/><rect x="679.55" y="643.15" width="1.7" height="1.7" fill="#111"/><rect x="695.45" y="643.15" width="1.7" height="1.7" fill="#111"/><rect x="711.35" y="643.15" width="1.7" height="1.7" fill="#111"/><rect x="727.25" y="643.15" width="1.7" height="1.7" fill="#111"/><rect x="743.15" y="643.15" width="1.7" height="1.7" fill="#111"/><use href="#tt" x="759.10" y="644.40"/><rect x="663.65" y="661.00" width="1.7" height="1.7" fill="#111"/><rect x="679.55" y="661.00" width="1.7" height="1.7" fill="#111"/><rect x="695.45" y="661.00" width="1.7" height="1.7" fill="#111"/><rect x="711.35" y="661.00" width="1.7" height="1.7" fill="#111"/><rect x="727.25" y="661.00" width="1.7" height="1.7" fill="#111"/><rect x="743.15" y="661.00" width="1.7" height="1.7" fill="#111"/><rect x="679.55" y="678.85" width="1.7" height="1.7" fill="#111"/><rect x="695.45" y="678.85" width="1.7" height="1.7" fill="#111"/><rect x="711.35" y="678.85" width="1.7" height="1.7" fill="#111"/><rect x="727.25" y="678.85" width="1.7" height="1.7" fill="#111"/>
<rect x="150.2" y="617.15" width="634.3" height="1.9" fill="#000"/><rect x="230.35" y="523.10" width="1.3" height="188.80" fill="#262626"/><rect x="389.05" y="523.10" width="1.3" height="188.80" fill="#262626"/><rect x="547.25" y="523.10" width="1.3" height="188.80" fill="#262626"/><rect x="706.25" y="523.10" width="1.3" height="188.80" fill="#262626"/>
<g fill="#111" stroke="#111" stroke-width="0.32"><text transform="translate(150.60,524.70) scale(1.080,1)" font-size="10.4" textLength="59.8" lengthAdjust="spacing">01-30-2006</text><text x="221.80" y="524.70" font-size="10.4" textLength="73.8" lengthAdjust="spacingAndGlyphs">SITA-Standard</text><text x="320.50" y="524.70" font-size="10.4" textLength="130.5" lengthAdjust="spacingAndGlyphs">GHT: Outside normal limits</text><text x="150.60" y="720.30" font-size="10.4" textLength="56.4" lengthAdjust="spacingAndGlyphs">Fovea: OFF</text><text x="150.60" y="738.40" font-size="10.4" textLength="17.5" lengthAdjust="spacingAndGlyphs">VFI:</text><text x="176.40" y="738.40" font-size="10.4" textLength="20.8" lengthAdjust="spacingAndGlyphs">81%</text><text x="308.20" y="720.30" font-size="10.4" textLength="18.3" lengthAdjust="spacingAndGlyphs">MD:</text><text transform="translate(333.00,720.30) scale(1.070,1)" font-size="10.4" textLength="26.4" lengthAdjust="spacing">-6.48</text><text x="364.80" y="720.30" font-size="10.4" textLength="12.7" lengthAdjust="spacingAndGlyphs">dB</text><text x="383.20" y="720.30" font-size="10.4" textLength="41.5" lengthAdjust="spacingAndGlyphs">P &lt; 0.5%</text><text x="308.20" y="738.40" font-size="10.4" textLength="23.4" lengthAdjust="spacingAndGlyphs">PSD:</text><text x="340.40" y="738.40" font-size="10.4" textLength="20.8" lengthAdjust="spacingAndGlyphs">6.56</text><text x="364.80" y="738.40" font-size="10.4" textLength="12.7" lengthAdjust="spacingAndGlyphs">dB</text><text x="383.20" y="738.40" font-size="10.4" textLength="41.5" lengthAdjust="spacingAndGlyphs">P &lt; 0.5%</text><text transform="translate(467.70,720.30) scale(1.060,1)" font-size="10.4" textLength="42.5" lengthAdjust="spacing">FL: 0/16</text><text x="578.60" y="720.30" font-size="10.4" textLength="16.0" lengthAdjust="spacingAndGlyphs">FN:</text><text x="603.60" y="720.30" font-size="10.4" textLength="16.3" lengthAdjust="spacingAndGlyphs">6 %</text><text x="685.80" y="720.30" font-size="10.4" textLength="15.4" lengthAdjust="spacingAndGlyphs">FP:</text><text x="711.30" y="720.30" font-size="10.4" textLength="15.7" lengthAdjust="spacingAndGlyphs">5 %</text><text x="578.60" y="738.40" font-size="10.4" textLength="91.0" lengthAdjust="spacingAndGlyphs">Likely Progression</text></g>
</g>
<rect x="150.20" y="234.20" width="15.4" height="2" fill="#111"/><rect x="169.90" y="234.20" width="7.6" height="2" fill="#111"/><rect x="181.87" y="234.20" width="15.4" height="2" fill="#111"/><rect x="201.57" y="234.20" width="7.6" height="2" fill="#111"/><rect x="213.54" y="234.20" width="15.4" height="2" fill="#111"/><rect x="233.24" y="234.20" width="7.6" height="2" fill="#111"/><rect x="245.21" y="234.20" width="15.4" height="2" fill="#111"/><rect x="264.91" y="234.20" width="7.6" height="2" fill="#111"/><rect x="276.88" y="234.20" width="15.4" height="2" fill="#111"/><rect x="296.58" y="234.20" width="7.6" height="2" fill="#111"/><rect x="308.55" y="234.20" width="15.4" height="2" fill="#111"/><rect x="328.25" y="234.20" width="7.6" height="2" fill="#111"/><rect x="340.22" y="234.20" width="15.4" height="2" fill="#111"/><rect x="359.92" y="234.20" width="7.6" height="2" fill="#111"/><rect x="371.89" y="234.20" width="15.4" height="2" fill="#111"/><rect x="391.59" y="234.20" width="7.6" height="2" fill="#111"/><rect x="403.56" y="234.20" width="15.4" height="2" fill="#111"/><rect x="423.26" y="234.20" width="7.6" height="2" fill="#111"/><rect x="435.23" y="234.20" width="15.4" height="2" fill="#111"/><rect x="454.93" y="234.20" width="7.6" height="2" fill="#111"/><rect x="466.90" y="234.20" width="15.4" height="2" fill="#111"/><rect x="486.60" y="234.20" width="7.6" height="2" fill="#111"/><rect x="498.57" y="234.20" width="15.4" height="2" fill="#111"/><rect x="518.27" y="234.20" width="7.6" height="2" fill="#111"/><rect x="530.24" y="234.20" width="15.4" height="2" fill="#111"/><rect x="549.94" y="234.20" width="7.6" height="2" fill="#111"/><rect x="561.91" y="234.20" width="15.4" height="2" fill="#111"/><rect x="581.61" y="234.20" width="7.6" height="2" fill="#111"/><rect x="593.58" y="234.20" width="15.4" height="2" fill="#111"/><rect x="613.28" y="234.20" width="7.6" height="2" fill="#111"/><rect x="625.25" y="234.20" width="15.4" height="2" fill="#111"/><rect x="644.95" y="234.20" width="7.6" height="2" fill="#111"/><rect x="656.92" y="234.20" width="15.4" height="2" fill="#111"/><rect x="676.62" y="234.20" width="7.6" height="2" fill="#111"/><rect x="688.59" y="234.20" width="15.4" height="2" fill="#111"/><rect x="708.29" y="234.20" width="7.6" height="2" fill="#111"/><rect x="720.26" y="234.20" width="15.4" height="2" fill="#111"/><rect x="739.96" y="234.20" width="7.6" height="2" fill="#111"/><rect x="751.93" y="234.20" width="15.4" height="2" fill="#111"/><rect x="771.63" y="234.20" width="7.6" height="2" fill="#111"/>
<rect x="150.20" y="492.40" width="15.4" height="2" fill="#111"/><rect x="169.90" y="492.40" width="7.6" height="2" fill="#111"/><rect x="181.87" y="492.40" width="15.4" height="2" fill="#111"/><rect x="201.57" y="492.40" width="7.6" height="2" fill="#111"/><rect x="213.54" y="492.40" width="15.4" height="2" fill="#111"/><rect x="233.24" y="492.40" width="7.6" height="2" fill="#111"/><rect x="245.21" y="492.40" width="15.4" height="2" fill="#111"/><rect x="264.91" y="492.40" width="7.6" height="2" fill="#111"/><rect x="276.88" y="492.40" width="15.4" height="2" fill="#111"/><rect x="296.58" y="492.40" width="7.6" height="2" fill="#111"/><rect x="308.55" y="492.40" width="15.4" height="2" fill="#111"/><rect x="328.25" y="492.40" width="7.6" height="2" fill="#111"/><rect x="340.22" y="492.40" width="15.4" height="2" fill="#111"/><rect x="359.92" y="492.40" width="7.6" height="2" fill="#111"/><rect x="371.89" y="492.40" width="15.4" height="2" fill="#111"/><rect x="391.59" y="492.40" width="7.6" height="2" fill="#111"/><rect x="403.56" y="492.40" width="15.4" height="2" fill="#111"/><rect x="423.26" y="492.40" width="7.6" height="2" fill="#111"/><rect x="435.23" y="492.40" width="15.4" height="2" fill="#111"/><rect x="454.93" y="492.40" width="7.6" height="2" fill="#111"/><rect x="466.90" y="492.40" width="15.4" height="2" fill="#111"/><rect x="486.60" y="492.40" width="7.6" height="2" fill="#111"/><rect x="498.57" y="492.40" width="15.4" height="2" fill="#111"/><rect x="518.27" y="492.40" width="7.6" height="2" fill="#111"/><rect x="530.24" y="492.40" width="15.4" height="2" fill="#111"/><rect x="549.94" y="492.40" width="7.6" height="2" fill="#111"/><rect x="561.91" y="492.40" width="15.4" height="2" fill="#111"/><rect x="581.61" y="492.40" width="7.6" height="2" fill="#111"/><rect x="593.58" y="492.40" width="15.4" height="2" fill="#111"/><rect x="613.28" y="492.40" width="7.6" height="2" fill="#111"/><rect x="625.25" y="492.40" width="15.4" height="2" fill="#111"/><rect x="644.95" y="492.40" width="7.6" height="2" fill="#111"/><rect x="656.92" y="492.40" width="15.4" height="2" fill="#111"/><rect x="676.62" y="492.40" width="7.6" height="2" fill="#111"/><rect x="688.59" y="492.40" width="15.4" height="2" fill="#111"/><rect x="708.29" y="492.40" width="7.6" height="2" fill="#111"/><rect x="720.26" y="492.40" width="15.4" height="2" fill="#111"/><rect x="739.96" y="492.40" width="7.6" height="2" fill="#111"/><rect x="751.93" y="492.40" width="15.4" height="2" fill="#111"/><rect x="771.63" y="492.40" width="7.6" height="2" fill="#111"/>
<polygon points="63.8,431.6 101.6,487.6 26.2,487.6" fill="#fff" stroke="#111" stroke-width="1.5" stroke-linejoin="miter"/><text x="-0.8" y="514.1" font-size="16.2" textLength="115.8" lengthAdjust="spacingAndGlyphs" fill="#111" stroke="#111" stroke-width="0.3">X1 progression</text><polygon points="63.8,547 101.6,603.3 26.2,603.3" fill="#fff" stroke="#111" stroke-width="1.5"/><polygon points="63.8,546 103,604 62.9,604 62.9,547" fill="#000"/><text x="-0.8" y="629.9" font-size="16.2" textLength="115.8" lengthAdjust="spacingAndGlyphs" fill="#111" stroke="#111" stroke-width="0.3">X2 progression</text><polygon points="63.8,656 103.2,715.4 24.4,715.4" fill="#000"/><text x="-0.8" y="740.2" font-size="16.2" textLength="115.8" lengthAdjust="spacingAndGlyphs" fill="#111" stroke="#111" stroke-width="0.3">X3 progression</text>
</svg></body></html>
